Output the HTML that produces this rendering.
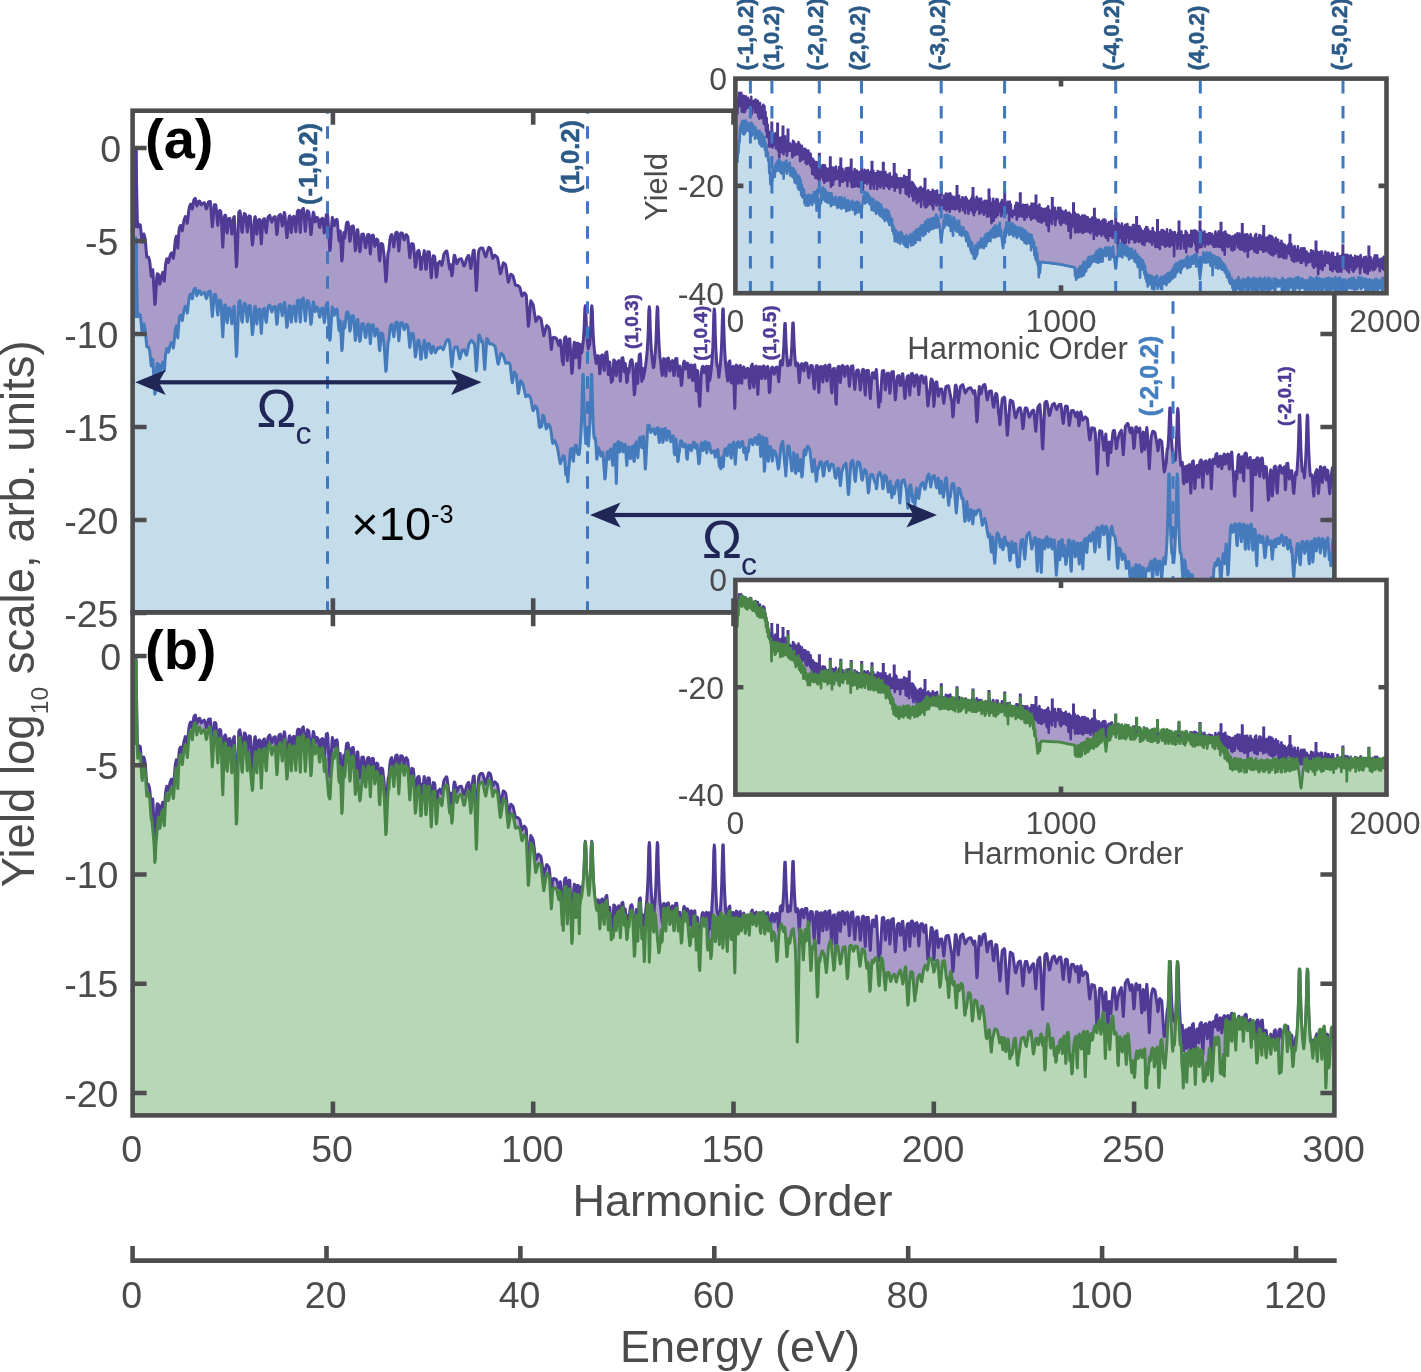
<!DOCTYPE html>
<html lang="en"><head><meta charset="utf-8"><title>Harmonic yield spectra</title>
<style>html,body{margin:0;padding:0;background:#fff}svg{display:block}text{font-family:"Liberation Sans", sans-serif;fill:#4b4b4d}.b{font-weight:bold}</style></head><body>
<svg width="1421" height="1372" viewBox="0 0 1421 1372">
<defs>
<clipPath id="ca"><rect x="132.6" y="110.7" width="1201.8000000000002" height="501.59999999999997"/></clipPath>
<clipPath id="cb"><rect x="132.6" y="612.3" width="1201.8000000000002" height="503.10000000000014"/></clipPath>
<clipPath id="cia"><rect x="735.4" y="78.6" width="651.1" height="214.6"/></clipPath>
<clipPath id="cib"><rect x="735.4" y="580.0" width="651.1" height="214.60000000000002"/></clipPath>
</defs>
<rect width="1421" height="1372" fill="#fff"/>
<g clip-path="url(#ca)" stroke-width="3.0" stroke-linejoin="round">
<path d="M112.6 148L133.8 148 134.3 148 134.8 148 135.3 148 135.8 148 136.3 170.4 136.8 196.1 137.3 219.3 137.8 227 138.3 225.4 138.8 224.3 139.3 224.6 139.8 224.8 140.3 225.1 140.8 230 141.3 235.2 141.8 240.4 142.3 242.4 142.8 238.6 143.3 235.9 143.8 234 144.3 235.4 144.8 237.6 145.3 240.1 145.8 246.1 146.3 252.1 146.8 257.1 147.3 257 147.8 256.9 148.3 257 148.8 258.3 149.3 259.6 149.8 262 150.3 267 150.8 272 151.3 276.3 151.8 274 152.3 270.9 152.8 269.7 153.3 278.4 153.8 287.1 154.3 295.8 154.8 304.5 155.3 302.8 155.8 294.1 156.3 285.4 156.8 276.7 157.3 273.8 157.8 274 158.3 274.3 158.8 277.3 159.3 280.8 159.8 284.3 160.3 282.7 160.8 279.3 161.3 275.9 161.8 275 162.3 274.1 162.8 272.4 163.3 276 163.8 279.7 164.3 281.2 164.8 274.5 165.3 267.8 165.8 262.9 166.3 260.9 166.8 258.8 167.3 259.1 167.8 260.8 168.3 262.5 168.8 261.6 169.3 259.1 169.8 256.7 170.3 255.2 170.8 254.1 171.3 253 171.8 252.9 172.3 255 172.8 256.7 173.3 258.4 173.8 255.5 174.3 250.4 174.8 245.3 175.3 240.4 175.8 238.4 176.3 236.3 176.8 238.2 177.3 243.1 177.8 248.2 178.3 240.7 178.8 233.1 179.3 228 179.8 226.8 180.3 225.7 180.8 225.5 181.3 227.4 181.8 229.3 182.3 230.9 182.8 227.6 183.3 224.4 183.8 221.2 184.3 219.5 184.8 218.1 185.3 216.6 185.8 216.9 186.3 219.1 186.8 221.3 187.3 223.4 187.8 219.2 188.3 214.7 188.8 210.3 189.3 207.3 189.8 205.9 190.3 204.6 190.8 204.2 191.3 205.7 191.8 207.1 192.3 209.1 192.8 206.1 193.3 203.2 193.8 200.2 194.3 199.2 194.8 198.8 195.3 198.3 195.8 200.7 196.3 203.3 196.8 206 197.3 204.8 197.8 203.3 198.3 201.7 198.8 201.3 199.3 201 199.8 201.1 200.3 202.6 200.8 204.2 201.3 205 201.8 204.4 202.3 203.8 202.8 203.3 203.3 203.1 203.8 202.9 204.3 202.7 204.8 203.8 205.3 205.5 205.8 207.3 206.3 209 206.8 208.3 207.3 206.3 207.8 204.3 208.3 202.4 208.8 201.7 209.3 201.6 209.8 201.6 210.3 201.6 210.8 207.2 211.3 213.6 211.8 220.2 212.3 226.8 212.8 221.9 213.3 216.2 213.8 210.4 214.3 204.7 214.8 204.6 215.3 204.8 215.8 205 216.3 209 216.8 215.1 217.3 221.1 217.8 225.4 218.3 220.7 218.8 216.2 219.3 211.6 219.8 210.4 220.3 210.9 220.8 211.3 221.3 217.2 221.8 228.3 222.3 239.3 222.8 247.2 223.3 237.3 223.8 227.4 224.3 217.6 224.8 215.5 225.3 215.1 225.8 216.1 226.3 223.7 226.8 231.4 227.3 233 227.8 226.9 228.3 220.8 228.8 218.7 229.3 218.5 229.8 218.3 230.3 220.3 230.8 224.9 231.3 229.6 231.8 234.1 232.3 229.4 232.8 224.6 233.3 219.7 233.8 217.2 234.3 216.5 234.8 227.8 235.3 240.8 235.8 253.8 236.3 266.8 236.8 264.2 237.3 251.2 237.8 238.2 238.3 225.2 238.8 212.3 239.3 211.5 239.8 210.8 240.3 212.9 240.8 219 241.3 225.1 241.8 231.2 242.3 232.4 242.8 226.8 243.3 221.5 243.8 216.4 244.3 213.6 244.8 213.8 245.3 214.1 245.8 216 246.3 221.5 246.8 226.9 247.3 232 247.8 227 248.3 222.1 248.8 217.1 249.3 215.9 249.8 216.1 250.3 216.2 250.8 222.7 251.3 230.1 251.8 237.6 252.3 245 252.8 243.5 253.3 236.1 253.8 228.6 254.3 221.2 254.8 217.2 255.3 216.7 255.8 222.1 256.3 228.2 256.8 234.3 257.3 230 257.8 225.1 258.3 220.2 258.8 219.8 259.3 219.4 259.8 219.7 260.3 227.7 260.8 235.8 261.3 243.8 261.8 236.3 262.3 228.5 262.8 220.8 263.3 219.5 263.8 219.1 264.3 218.6 264.8 221.5 265.3 226 265.8 230.5 266.3 232.7 266.8 227.9 267.3 223 267.8 218.1 268.3 216.7 268.8 216.2 269.3 215.6 269.8 215.4 270.3 217.2 270.8 219.1 271.3 221 271.8 222.2 272.3 220.9 272.8 219.5 273.3 218.2 273.8 217.2 274.3 216.9 274.8 216.7 275.3 216.8 275.8 222.8 276.3 228.7 276.8 234.6 277.3 232.8 277.8 226.7 278.3 220.6 278.8 215.7 279.3 215.2 279.8 214.8 280.3 214.4 280.8 216.7 281.3 219.9 281.8 223.1 282.3 226 282.8 222.3 283.3 218.7 283.8 215 284.3 212.5 284.8 213.7 285.3 219.6 285.8 225.6 286.3 231.6 286.8 237.6 287.3 236.4 287.8 230.4 288.3 224.4 288.8 218.4 289.3 216.1 289.8 215.9 290.3 220.8 290.8 226.7 291.3 232.5 291.8 227.6 292.3 222.2 292.8 217.3 293.3 216.8 293.8 216.3 294.3 216.6 294.8 221.6 295.3 226.7 295.8 231.7 296.3 225.1 296.8 218.6 297.3 212 297.8 210.7 298.3 210.2 298.8 210.3 299.3 218.2 299.8 226 300.3 232.4 300.8 224.7 301.3 217.1 301.8 210.4 302.3 209.7 302.8 209 303.3 208.3 303.8 212.1 304.3 218.5 304.8 224.9 305.3 231.3 305.8 226.5 306.3 220.7 306.8 215 307.3 210.7 307.8 211.1 308.3 211.5 308.8 211.9 309.3 216.5 309.8 222.5 310.3 228.6 310.8 234.6 311.3 233.4 311.8 227.4 312.3 221.3 312.8 215.3 313.3 212.3 313.8 213.1 314.3 216.3 314.8 219.5 315.3 221.9 315.8 220.3 316.3 218.7 316.8 217.3 317.3 217.7 317.8 218.1 318.3 219.5 318.8 223.1 319.3 226.7 319.8 227.5 320.3 224.3 320.8 221.1 321.3 219.2 321.8 218.7 322.3 218.2 322.8 218.8 323.3 223.6 323.8 228.3 324.3 233 324.8 230 325.3 224.4 325.8 218.7 326.3 214.7 326.8 214.1 327.3 213.8 327.8 216.2 328.3 224.8 328.8 233.4 329.3 242 329.8 250.6 330.3 248.8 330.8 240.3 331.3 231.7 331.8 223.1 332.3 217.4 332.8 218.7 333.3 222.2 333.8 225.6 334.3 225.6 334.8 223.2 335.3 220.7 335.8 220 336.3 219.7 336.8 219.4 337.3 220.6 337.8 226.9 338.3 233.2 338.8 239.5 339.3 241.1 339.8 235.8 340.3 231.1 340.8 241.1 341.3 251 341.8 261 342.3 259 342.8 249 343.3 239.1 343.8 232.4 344.3 236.7 344.8 238.2 345.3 233.6 345.8 229.1 346.3 224.5 346.8 222.4 347.3 222.3 347.8 222.1 348.3 223.3 348.8 229.4 349.3 235.4 349.8 241.5 350.3 240.4 350.8 235.5 351.3 230.6 351.8 226.2 352.3 226.1 352.8 226 353.3 226 353.8 229.7 354.3 236.7 354.8 243.8 355.3 250.8 355.8 248.5 356.3 242.3 356.8 236.1 357.3 229.8 357.8 229.8 358.3 235.3 358.8 240.8 359.3 246.3 359.8 251.8 360.3 250.7 360.8 245.2 361.3 239.7 361.8 234.2 362.3 234.2 362.8 234.1 363.3 234 363.8 235.8 364.3 239.7 364.8 243.6 365.3 247.5 365.8 247.8 366.3 244 366.8 240.3 367.3 236.6 367.8 234.6 368.3 234.5 368.8 234.5 369.3 239.9 369.8 247 370.3 254 370.8 248.5 371.3 241.9 371.8 235.6 372.3 235.4 372.8 235.1 373.3 235.2 373.8 238.9 374.3 242.7 374.8 246.4 375.3 245.2 375.8 242.6 376.3 240 376.8 239.1 377.3 239.6 377.8 240 378.3 244.4 378.8 251.8 379.3 259.1 379.8 260.9 380.3 254.5 380.8 248.2 381.3 243.4 381.8 243.6 382.3 243.8 382.8 245.1 383.3 249.1 383.8 253.1 384.3 257.3 384.8 265.4 385.3 273.6 385.8 281.7 386.3 280.1 386.8 271.9 387.3 263.8 387.8 255.6 388.3 251.4 388.8 251 389.3 245.9 389.8 240.8 390.3 237.5 390.8 235.8 391.3 234.9 391.8 234.5 392.3 237.4 392.8 240.7 393.3 244 393.8 247 394.3 243.3 394.8 239.6 395.3 235.9 395.8 232.8 396.3 232.5 396.8 232.1 397.3 232.7 397.8 238.6 398.3 244.8 398.8 251.1 399.3 246.4 399.8 240.6 400.3 234.8 400.8 233 401.3 233 401.8 233 402.3 233.2 402.8 235.1 403.3 237 403.8 238.9 404.3 240 404.8 238 405.3 236.4 405.8 235.1 406.3 234.6 406.8 235.3 407.3 236 407.8 236.7 408.3 241.7 408.8 247.3 409.3 253 409.8 257.7 410.3 253.7 410.8 249.8 411.3 245.9 411.8 243.6 412.3 243.9 412.8 244 413.3 244.1 413.8 248.2 414.3 254.6 414.8 260.9 415.3 267.3 415.8 266 416.3 261.5 416.8 256.9 417.3 252.4 417.8 251 418.3 250.7 418.8 250.4 419.3 251.8 419.8 257.8 420.3 263.7 420.8 269.6 421.3 268.7 421.8 262.8 422.3 256.9 422.8 259.8 423.3 258.7 423.8 253.2 424.3 250.6 424.8 256 425.3 262.7 425.8 269.4 426.3 268.8 426.8 262.5 427.3 256.2 427.8 251.8 428.3 251.8 428.8 251.8 429.3 251.9 429.8 257.6 430.3 264.8 430.8 272.1 431.3 277.8 431.8 271.7 432.3 265.5 432.8 259.3 433.3 255.8 433.8 255.9 434.3 256.1 434.8 257.3 435.3 263.9 435.8 270.5 436.3 277.1 436.8 275.8 437.3 271 437.8 266.2 438.3 262.7 438.8 262.8 439.3 262.1 439.8 261.4 440.3 261.8 440.8 263 441.3 264.2 441.8 265.4 442.3 263.4 442.8 260.4 443.3 257.4 443.8 254.4 444.3 253.6 444.8 252.9 445.3 252.2 445.8 251.5 446.3 250.9 446.8 251 447.3 253.5 447.8 256.6 448.3 260.1 448.8 263.5 449.3 267 449.8 269.1 450.3 266.6 450.8 264.8 451.3 270.3 451.8 275.8 452.3 274.7 452.8 269.2 453.3 263.7 453.8 258.2 454.3 255.2 454.8 255.6 455.3 257.8 455.8 260 456.3 261.9 456.8 263.8 457.3 263 457.8 261.8 458.3 260.7 458.8 259.6 459.3 259.2 459.8 259.1 460.3 259 460.8 258.9 461.3 258.8 461.8 259.9 462.3 261.4 462.8 262.9 463.3 264.4 463.8 265.9 464.3 265.9 464.8 264.9 465.3 263.3 465.8 261.4 466.3 259.5 466.8 258 467.3 257.2 467.8 256.4 468.3 255.6 468.8 255.6 469.3 258.8 469.8 262.1 470.3 265.3 470.8 268.5 471.3 266 471.8 261.7 472.3 257.6 472.8 253.5 473.3 250.5 473.8 250.1 474.3 250.3 474.8 260.4 475.3 270.4 475.8 280.5 476.3 290.6 476.8 284.5 477.3 274.5 477.8 264.4 478.3 254.3 478.8 250.8 479.3 249.9 479.8 248.9 480.3 248.4 480.8 248.2 481.3 247.9 481.8 248 482.3 248 482.8 248.3 483.3 249.9 483.8 251.5 484.3 253.1 484.8 254.6 485.3 256.2 485.8 256.9 486.3 255.2 486.8 253.4 487.3 251.7 487.8 250 488.3 248.3 488.8 247.3 489.3 247.6 489.8 248 490.3 248.3 490.8 249.6 491.3 252 491.8 254.3 492.3 256.7 492.8 258.5 493.3 257.7 493.8 256.9 494.3 256 494.8 255.2 495.3 255.6 495.8 256 496.3 256.5 496.8 256.9 497.3 257.3 497.8 258.9 498.3 261.9 498.8 264.8 499.3 267.8 499.8 270.8 500.3 273.7 500.8 273.1 501.3 271.1 501.8 269 502.3 267 502.8 264.9 503.3 262.9 503.8 263.1 504.3 263.4 504.8 263.9 505.3 264.4 505.8 265.4 506.3 268.9 506.8 272.3 507.3 275.8 507.8 279.3 508.3 282.3 508.8 280.7 509.3 279 509.8 277.4 510.3 275.8 510.8 274.2 511.3 274.5 511.8 274.9 512.3 275.3 512.8 275.7 513.3 276.8 513.8 278.8 514.3 280.8 514.8 282.8 515.3 284.8 515.8 285.5 516.3 285.5 516.8 285.5 517.3 285.5 517.8 285.5 518.3 285.9 518.8 286.4 519.3 286.8 519.8 287.3 520.3 289.2 520.8 291.3 521.3 293.5 521.8 295.7 522.3 296 522.8 295.1 523.3 294.2 523.8 293.3 524.3 292.8 524.8 293.3 525.3 293.8 525.8 294.4 526.3 295.8 526.8 303.4 527.3 311 527.8 318.6 528.3 326.3 528.8 324.4 529.3 318 529.8 311.7 530.3 305.4 530.8 300.7 531.3 301.5 531.8 302.3 532.3 303.1 532.8 304 533.3 305.5 533.8 308.8 534.3 312.1 534.8 315.3 535.3 318.6 535.8 321.5 536.3 320.7 536.8 319.9 537.3 318.9 537.8 317.8 538.3 316.7 538.8 316.9 539.3 317.3 539.8 317.7 540.3 318.1 540.8 318.5 541.3 320.5 541.8 323.6 542.3 326.7 542.8 329.8 543.3 332.9 543.8 335.7 544.3 333.8 544.8 331.9 545.3 330 545.8 328.1 546.3 326.2 546.8 325.5 547.3 326 547.8 326.6 548.3 327.1 548.8 327.8 549.3 328.9 549.8 333 550.3 338.5 550.8 344 551.3 349.5 551.8 346.2 552.3 340.7 552.8 337.6 553.3 337.5 553.8 337.4 554.3 337.3 554.8 337.6 555.3 338.1 555.8 338.5 556.3 338.3 556.8 339.1 557.3 340.8 557.8 342.5 558.3 344.2 558.8 345.4 559.3 343.6 559.8 341.9 560.3 340.1 560.8 344.2 561.3 350 561.8 355.7 562.3 361.5 562.8 358.4 563.3 364.8 563.8 352.1 564.3 339.3 564.8 337.7 565.3 337.1 565.8 336.8 566.3 344.8 566.8 352.7 567.3 360.7 567.8 353.5 568.3 346.3 568.8 339.2 569.3 338.7 569.8 338.9 570.3 347.6 570.8 356.2 571.3 364.9 571.8 373.5 572.3 371.8 572.8 363.2 573.3 354.5 573.8 345.9 574.3 342.2 574.8 343.1 575.3 350.5 575.8 357.8 576.3 357 576.8 350.1 577.3 343.3 577.8 343.3 578.3 343.4 578.8 355.1 579.3 368.1 579.8 362.5 580.3 352 580.8 344.6 581.3 349.5 581.8 352.9 582.3 349.5 582.8 345.5 583.3 340.5 583.8 333.9 584.3 324.2 584.8 309.4 585.3 305.7 585.8 309.4 586.3 324.2 586.8 333.9 587.3 340.5 587.8 345.5 588.3 349 588.8 346 589.3 345.9 589.8 344 590.3 336.7 590.8 326.1 591.3 309.7 591.8 305.7 592.3 309.7 592.8 326.1 593.3 336.7 593.8 344 594.3 349.5 594.8 353.9 595.3 357.6 595.8 360.8 596.3 363.5 596.8 361.4 597.3 355.8 597.8 355.8 598.3 355.7 598.8 359.6 599.3 366.8 599.8 373.8 600.3 370.1 600.8 363 601.3 355.9 601.8 355.3 602.3 354.8 602.8 355.9 603.3 362.1 603.8 368.3 604.3 370.4 604.8 363.7 605.3 357 605.8 352.8 606.3 352.3 606.8 351.8 607.3 356.9 607.8 365.7 608.3 374.6 608.8 373.9 609.3 367.1 609.8 361.9 610.3 368.7 610.8 375.5 611.3 382.3 611.8 380.9 612.3 381 612.8 377.7 613.3 368.1 613.8 359.9 614.3 360.3 614.8 360.8 615.3 364.6 615.8 370.3 616.3 375.7 616.8 370.8 617.3 365.6 617.8 361.9 618.3 361.3 618.8 360.6 619.3 365.6 619.8 373.4 620.3 381.2 620.8 374.9 621.3 366.5 621.8 358.4 622.3 358.1 622.8 357.7 623.3 360.7 623.8 366.2 624.3 371.7 624.8 367.3 625.3 363.4 625.8 369.8 626.3 376.1 626.8 382.5 627.3 381.2 627.8 374.8 628.3 368.5 628.8 372.8 629.3 369.3 629.8 365.5 630.3 361.8 630.8 360.5 631.3 360.1 631.8 359.7 632.3 361.7 632.8 365.7 633.3 375.4 633.8 385.1 634.3 394.8 634.8 392.9 635.3 383.2 635.8 373.5 636.3 363.8 636.8 364.3 637.3 374 637.8 383.4 638.3 372.8 638.8 362.3 639.3 354.7 639.8 354.2 640.3 353.8 640.8 361.4 641.3 371.7 641.8 381.4 642.3 372.5 642.8 368.4 643.3 378.5 643.8 375.7 644.3 373.3 644.8 370.6 645.3 367.6 645.8 364.1 646.3 360 646.8 355.1 647.3 349.1 647.8 341 648.3 329.3 648.8 311.2 649.3 306.8 649.8 311.2 650.3 329.3 650.8 341 651.3 349.1 651.8 355.1 652.3 359.6 652.8 364.1 653.3 367.6 653.8 367.1 654.3 363 654.8 358.2 655.3 352.1 655.8 344.3 656.3 333.1 656.8 315.5 657.3 306.8 657.8 308.1 658.3 327 658.8 340.3 659.3 349.3 659.8 355.9 660.3 359.4 660.8 362.6 661.3 369.3 661.8 372.5 662.3 375.4 662.8 371.9 663.3 360.7 663.8 358.6 664.3 358.7 664.8 362 665.3 369 665.8 376.1 666.3 370.1 666.8 363 667.3 358.7 667.8 358.4 668.3 358.1 668.8 361.2 669.3 366.1 669.8 371 670.3 370 670.8 366.4 671.3 362.8 671.8 361.4 672.3 360.6 672.8 361.5 673.3 368.5 673.8 375.6 674.3 375.4 674.8 367.7 675.3 360.1 675.8 358.5 676.3 358.5 676.8 358.5 677.3 364.3 677.8 370.2 678.3 376.1 678.8 371.4 679.3 366.5 679.8 366.2 680.3 372.6 680.8 379 681.3 385.4 681.8 384.1 682.3 377.7 682.8 371.3 683.3 364.9 683.8 361.9 684.3 361.2 684.8 364.7 685.3 368.7 685.8 368.8 686.3 365.7 686.8 363.1 687.3 363.3 687.8 363.5 688.3 370.5 688.8 377.6 689.3 376.6 689.8 370.2 690.3 365.4 690.8 365.2 691.3 365 691.8 372.2 692.3 379.9 692.8 380.6 693.3 373 693.8 365.3 694.3 365.1 694.8 364.9 695.3 370.1 695.8 380.5 696.3 390.9 696.8 381.9 697.3 370.4 697.8 371.1 698.3 382.1 698.8 393.1 699.3 404.1 699.8 406.3 700.3 395.3 700.8 384.3 701.3 374.5 701.8 369.1 702.3 367 702.8 366.3 703.3 367.2 703.8 370.1 704.3 372.8 704.8 370.6 705.3 368.4 705.8 367.1 706.3 366.3 706.8 373.2 707.3 386.5 707.8 390.9 708.3 377.9 708.8 366.6 709.3 372.1 709.8 380.4 710.3 377 710.8 373.1 711.3 368.5 711.8 363.1 712.3 356.3 712.8 347.3 713.3 334.2 713.8 314 714.3 309 714.8 314 715.3 334.2 715.8 347.3 716.3 356.3 716.8 363.1 717.3 366.6 717.8 365.9 718.3 370.9 718.8 377.2 719.3 373.6 719.8 369.4 720.3 364.4 720.8 358.3 721.3 350.5 721.8 339.6 722.3 322.6 722.8 309 723.3 309 723.8 326.6 724.3 342.1 724.8 352.3 725.3 359.7 725.8 365.5 726.3 370.3 726.8 374.3 727.3 377.9 727.8 381 728.3 371.5 728.8 362.3 729.3 361.6 729.8 360.9 730.3 369 730.8 379.3 731.3 382.9 731.8 375 732.3 367.1 732.8 366.5 733.3 366.4 733.8 377.2 734.3 395.3 734.8 408.4 735.3 389.8 735.8 371.2 736.3 365.1 736.8 365.3 737.3 369.6 737.8 378 738.3 383.3 738.8 375.3 739.3 367.3 739.8 366 740.3 365.4 740.8 372.7 741.3 382.4 741.8 383.2 742.3 374.8 742.8 368.1 743.3 367.4 743.8 366.8 744.3 368.9 744.8 373.5 745.3 378.1 745.8 377.1 746.3 373.3 746.8 369.5 747.3 368.6 747.8 368.3 748.3 368.9 748.8 376.7 749.3 384.5 749.8 388.3 750.3 379.9 750.8 371.4 751.3 365.8 751.8 365 752.3 364.2 752.8 373.5 753.3 383.6 753.8 387.3 754.3 378.3 754.8 369.3 755.3 366.6 755.8 366.4 756.3 366.1 756.8 375.1 757.3 384.8 757.8 394.5 758.3 385.7 758.8 376.2 759.3 366.8 759.8 366.7 760.3 366.7 760.8 370 761.3 375.1 761.8 378.5 762.3 373.4 762.8 368.3 763.3 366.4 763.8 365.9 764.3 368.2 764.8 373.8 765.3 378.6 765.8 373.8 766.3 369 766.8 367.3 767.3 366.8 767.8 366.4 768.3 373.3 768.8 382.9 769.3 392.6 769.8 392 770.3 383.1 770.8 374.2 771.3 368.3 771.8 367.7 772.3 367.1 772.8 367.8 773.3 370.5 773.8 373.1 774.3 374.2 774.8 371.9 775.3 369.6 775.8 367.6 776.3 367.3 776.8 367 777.3 367.8 777.8 372.8 778.3 377.8 778.8 381.8 779.3 375 779.8 368.3 780.3 361.5 780.8 360.9 781.3 360.6 781.8 361.7 782.3 365 782.8 360.4 783.3 354.6 783.8 346.4 784.3 333.7 784.8 323.5 785.3 323.5 785.8 336.7 786.3 348.3 786.8 355.9 787.3 361.4 787.8 365.8 788.3 364 788.8 361.5 789.3 360.9 789.8 361.5 790.3 364.9 790.8 360.3 791.3 354.4 791.8 346.1 792.3 333.3 792.8 323 793.3 323 793.8 336.4 794.3 348.1 794.8 355.7 795.3 361.3 795.8 365.8 796.3 364 796.8 363.3 797.3 363.1 797.8 363.3 798.3 369.8 798.8 376.2 799.3 382.6 799.8 376.8 800.3 370.9 800.8 365 801.3 364.2 801.8 363.6 802.3 363.7 802.8 366.6 803.3 369.4 803.8 370.9 804.3 367.9 804.8 365 805.3 363 805.8 363 806.3 363 806.8 363.1 807.3 366.3 807.8 370.3 808.3 374.3 808.8 377.8 809.3 374.4 809.8 371 810.3 367.5 810.8 365.4 811.3 365.5 811.8 365.6 812.3 365.7 812.8 372 813.3 378.8 813.8 385.6 814.3 388.9 814.8 382 815.3 375.2 815.8 368.4 816.3 365.7 816.8 365.8 817.3 365.8 817.8 374.6 818.3 384.1 818.8 392.4 819.3 383.3 819.8 374.2 820.3 366.9 820.8 366.7 821.3 366.5 821.8 370 822.3 376 822.8 382 823.3 378.3 823.8 372.2 824.3 366.2 824.8 365.8 825.3 365.4 825.8 367.7 826.3 374.4 826.8 381.1 827.3 380.3 827.8 373.7 828.3 367.1 828.8 365.2 829.3 365 829.8 364.8 830.3 370.5 830.8 379.8 831.3 389.1 831.8 393 832.3 384.9 832.8 376.8 833.3 368.8 833.8 368.5 834.3 368.3 834.8 372.3 835.3 387 835.8 401.6 836.3 404.2 836.8 389.4 837.3 374.6 837.8 367.4 838.3 366.9 838.8 366.4 839.3 370.8 839.8 376.6 840.3 382.5 840.8 378.5 841.3 372.4 841.8 366.3 842.3 365.5 842.8 365.5 843.3 366 843.8 370.1 844.3 374.1 844.8 376.4 845.3 372.8 845.8 369.3 846.3 366.8 846.8 366.5 847.3 366.1 847.8 366.9 848.3 373.3 848.8 379.7 849.3 386.2 849.8 382.2 850.3 376 850.8 369.8 851.3 366.4 851.8 366.2 852.3 366.1 852.8 365.9 853.3 372.1 853.8 378.6 854.3 385.2 854.8 389.4 855.3 384.1 855.8 378.7 856.3 373.4 856.8 370.3 857.3 370.2 857.8 370.1 858.3 370.1 858.8 374 859.3 379.3 859.8 384.6 860.3 390 860.8 386.5 861.3 381.1 861.8 375.7 862.3 370.4 862.8 369.6 863.3 369.3 863.8 370.6 864.3 380.4 864.8 390.2 865.3 395.2 865.8 385.9 866.3 376.6 866.8 370.4 867.3 370.5 867.8 370.6 868.3 370.6 868.8 377.5 869.3 385.5 869.8 393.5 870.3 398.6 870.8 391.4 871.3 384.1 871.8 376.8 872.3 373 872.8 372.9 873.3 372.7 873.8 374.2 874.3 376.3 874.8 378.3 875.3 375.8 875.8 372.6 876.3 369.5 876.8 374.3 877.3 383.4 877.8 392.5 878.3 401.7 878.8 407.2 879.3 398 879.8 396.3 880.3 401.7 880.8 393.4 881.3 385.4 881.8 377.4 882.3 371.1 882.8 370.8 883.3 370.5 883.8 370.7 884.3 377.1 884.8 383.5 885.3 389.9 885.8 387.6 886.3 382.2 886.8 376.7 887.3 373.3 887.8 373.2 888.3 373.1 888.8 377.9 889.3 385.6 889.8 393.3 890.3 390.1 890.8 382 891.3 374 891.8 372 892.3 371.9 892.8 371.7 893.3 371.5 893.8 378.2 894.3 385.4 894.8 392.6 895.3 399.8 895.8 395.6 896.3 389.5 896.8 383.5 897.3 377.4 897.8 376 898.3 375.8 898.8 375.6 899.3 378.3 899.8 382 900.3 385.6 900.8 385.2 901.3 381.1 901.8 377 902.3 374 902.8 373.8 903.3 379.1 903.8 385.5 904.3 392 904.8 398.4 905.3 397.1 905.8 390.7 906.3 384.2 906.8 378.7 907.3 376.3 907.8 376 908.3 375.6 908.8 381 909.3 388.1 909.8 395.1 910.3 387.8 910.8 380.1 911.3 373.7 911.8 373.6 912.3 373.5 912.8 374.9 913.3 379.5 913.8 384.1 914.3 386.3 914.8 382.5 915.3 378.6 915.8 375.6 916.3 375.3 916.8 374.9 917.3 376 917.8 382.3 918.3 388.5 918.8 394.7 919.3 389.2 919.8 383.5 920.3 377.8 920.8 376.2 921.3 375.9 921.8 375.7 922.3 376 922.8 378.3 923.3 380.7 923.8 383 924.3 383.2 924.8 381.1 925.3 379 925.8 376.9 926.3 383.6 926.8 391.1 927.3 398.5 927.8 406 928.3 404.5 928.8 397.1 929.3 396.3 929.8 392 930.3 386.9 930.8 381.8 931.3 379 931.8 379.5 932.3 379.9 932.8 386.6 933.3 396.5 933.8 406.4 934.3 402.5 934.8 393.3 935.3 384.2 935.8 382.2 936.3 382 936.8 381.9 937.3 386.4 937.8 391.3 938.3 396.2 938.8 394.7 939.3 392.1 939.8 389.4 940.3 388.9 940.8 388.9 941.3 388.9 941.8 388.9 942.3 392.4 942.8 396.1 943.3 399.8 943.8 403.4 944.3 400 944.8 395.7 945.3 391.4 945.8 387.1 946.3 386.3 946.8 386.1 947.3 386 947.8 385.9 948.3 385.8 948.8 387.2 949.3 389.7 949.8 392.3 950.3 394.9 950.8 397.4 951.3 400 951.8 401.2 952.3 409 952.8 416.9 953.3 415.3 953.8 407.5 954.3 399.7 954.8 391.8 955.3 385.3 955.8 385.1 956.3 386.5 956.8 390.6 957.3 394.7 957.8 398.9 958.3 402.5 958.8 398.7 959.3 394.9 959.8 391.1 960.3 387.2 960.8 386.1 961.3 385.7 961.8 385.4 962.3 385 962.8 384.7 963.3 386.4 963.8 388.1 964.3 389.7 964.8 391.4 965.3 393 965.8 392.2 966.3 391.4 966.8 390.6 967.3 389.7 967.8 388.9 968.3 388.6 968.8 388.4 969.3 388.2 969.8 388 970.3 387.8 970.8 387.8 971.3 388.8 971.8 389.9 972.3 390.9 972.8 391.9 973.3 393 973.8 393.8 974.3 392.2 974.8 390.6 975.3 394.1 975.8 403.4 976.3 412.6 976.8 421.9 977.3 420 977.8 410.8 978.3 401.5 978.8 392.3 979.3 386.6 979.8 389.1 980.3 391.6 980.8 394 981.3 392.7 981.8 390.6 982.3 388.4 982.8 386.3 983.3 385.3 983.8 384.9 984.3 384.7 984.8 384.5 985.3 386.5 985.8 390.1 986.3 393.8 986.8 397.5 987.3 399.9 987.8 397.8 988.3 395.7 988.8 393.6 989.3 391.5 989.8 391.1 990.3 391 990.8 391 991.3 390.9 991.8 394.1 992.3 398.2 992.8 402.5 993.3 406.8 993.8 407.3 994.3 403.7 994.8 400.1 995.3 396.5 995.8 393.5 996.3 393.8 996.8 394.1 997.3 398.3 997.8 403.8 998.3 409.3 998.8 414.8 999.3 417.3 999.8 424.7 1000.3 422.1 1000.8 416.2 1001.3 409.7 1001.8 402.9 1002.3 398.7 1002.8 398.3 1003.3 397.9 1003.8 397.5 1004.3 397.1 1004.8 398.7 1005.3 406 1005.8 413.4 1006.3 420.7 1006.8 428 1007.3 435.3 1007.8 430.8 1008.3 424.2 1008.8 417.6 1009.3 411 1009.8 404.4 1010.3 400.2 1010.8 400.4 1011.3 400.7 1011.8 401 1012.3 401.2 1012.8 401.8 1013.3 404.9 1013.8 408 1014.3 411.1 1014.8 414.2 1015.3 417.3 1015.8 417.8 1016.3 416.2 1016.8 414.4 1017.3 412.5 1017.8 410.6 1018.3 408.7 1018.8 408.4 1019.3 408.1 1019.8 407.9 1020.3 407.7 1020.8 410.2 1021.3 412.7 1021.8 417.2 1022.3 423 1022.8 428.7 1023.3 427.6 1023.8 421.8 1024.3 416.1 1024.8 410.4 1025.3 408 1025.8 408 1026.3 408 1026.8 408.1 1027.3 409.8 1027.8 411.7 1028.3 413.5 1028.8 415.4 1029.3 417.3 1029.8 416.5 1030.3 415.4 1030.8 414.1 1031.3 412.8 1031.8 411.4 1032.3 410.9 1032.8 410.5 1033.3 410 1033.8 410.5 1034.3 416 1034.8 421.4 1035.3 426.9 1035.8 431.3 1036.3 425.2 1036.8 419.1 1037.3 413 1037.8 407.1 1038.3 406.5 1038.8 405.8 1039.3 405.1 1039.8 404.4 1040.3 410.2 1040.8 416 1041.3 423.9 1041.8 435.2 1042.3 446.6 1042.8 448.9 1043.3 437.5 1043.8 426.1 1044.3 414.8 1044.8 403.4 1045.3 402.1 1045.8 401.7 1046.3 401.3 1046.8 401.6 1047.3 404 1047.8 406.7 1048.3 409.6 1048.8 412.5 1049.3 415.4 1049.8 414.9 1050.3 412.8 1050.8 410.7 1051.3 408.6 1051.8 406.5 1052.3 404.7 1052.8 404.4 1053.3 404 1053.8 403.7 1054.3 403.4 1054.8 404.7 1055.3 406.2 1055.8 407.7 1056.3 409.1 1056.8 409.5 1057.3 408.3 1057.8 407.2 1058.3 406 1058.8 404.9 1059.3 404.6 1059.8 404.5 1060.3 404.4 1060.8 404.3 1061.3 407.5 1061.8 412.1 1062.3 416.6 1062.8 421.1 1063.3 423.4 1063.8 419.2 1064.3 415 1064.8 410.8 1065.3 406.6 1065.8 406 1066.3 406.2 1066.8 406.3 1067.3 406.5 1067.8 411.1 1068.3 415.9 1068.8 420.7 1069.3 425.6 1069.8 422.8 1070.3 418.9 1070.8 415.1 1071.3 411.2 1071.8 410.4 1072.3 410.5 1072.8 410.6 1073.3 410.6 1073.8 411.3 1074.3 412.7 1074.8 414.1 1075.3 415.5 1075.8 416.8 1076.3 415.4 1076.8 413.8 1077.3 412.1 1077.8 414.8 1078.3 420.3 1078.8 425.8 1079.3 424.7 1079.8 419.2 1080.3 413.7 1080.8 411.7 1081.3 413.8 1081.8 415.9 1082.3 418 1082.8 420.1 1083.3 419.7 1083.8 418.8 1084.3 418.2 1084.8 417.5 1085.3 416.9 1085.8 417.3 1086.3 417.8 1086.8 418.3 1087.3 418.8 1087.8 422.5 1088.3 427.5 1088.8 432.5 1089.3 437.5 1089.8 439.9 1090.3 436.9 1090.8 433.8 1091.3 430.8 1091.8 427.7 1092.3 427.9 1092.8 428.1 1093.3 428.2 1093.8 428.3 1094.3 428.3 1094.8 430.6 1095.3 433.2 1095.8 442.2 1096.3 452.8 1096.8 463.4 1097.3 474 1097.8 463.4 1098.3 452.8 1098.8 442.2 1099.3 432.7 1099.8 430.8 1100.3 430.9 1100.8 431 1101.3 431 1101.8 431.6 1102.3 436.2 1102.8 440.9 1103.3 445.5 1103.8 450.2 1104.3 446.9 1104.8 442.6 1105.3 438.3 1105.8 433.9 1106.3 441.2 1106.8 449.2 1107.3 457.3 1107.8 465.4 1108.3 457.3 1108.8 449.2 1109.3 442.1 1109.8 446.5 1110.3 450.9 1110.8 452.5 1111.3 447.7 1111.8 443 1112.3 438.1 1112.8 433.2 1113.3 430.6 1113.8 430.5 1114.3 430.4 1114.8 432.3 1115.3 437.8 1115.8 443.3 1116.3 448.8 1116.8 447.7 1117.3 442.2 1117.8 439.6 1118.3 437.7 1118.8 435.8 1119.3 433.9 1119.8 432.7 1120.3 432 1120.8 431.1 1121.3 430.3 1121.8 435.9 1122.3 442.3 1122.8 448.7 1123.3 454.8 1123.8 447.5 1124.3 440.2 1124.8 432.9 1125.3 426.5 1125.8 425.7 1126.3 425 1126.8 424.2 1127.3 423.5 1127.8 423.4 1128.3 425.2 1128.8 427 1129.3 428.7 1129.8 430.7 1130.3 432.6 1130.8 431 1131.3 429.4 1131.8 427.9 1132.3 428.5 1132.8 435.1 1133.3 441.7 1133.8 448.4 1134.3 447 1134.8 440.4 1135.3 433.8 1135.8 427.2 1136.3 426.8 1136.8 428.5 1137.3 430.2 1137.8 432.1 1138.3 432 1138.8 430.2 1139.3 428.3 1139.8 428.1 1140.3 434.6 1140.8 441.2 1141.3 447.8 1141.8 451.7 1142.3 445.1 1142.8 438.6 1143.3 432 1143.8 437.4 1144.3 443.4 1144.8 449.4 1145.3 444 1145.8 438.4 1146.3 432.9 1146.8 427.4 1147.3 432.2 1147.8 441.3 1148.3 450.4 1148.8 459.6 1149.3 468.7 1149.8 459.6 1150.3 450.4 1150.8 441.3 1151.3 436.5 1151.8 434.7 1152.3 432.9 1152.8 431.3 1153.3 431.4 1153.8 431.6 1154.3 432 1154.8 432.5 1155.3 434.4 1155.8 437.2 1156.3 439.9 1156.8 442.7 1157.3 445.5 1157.8 450.8 1158.3 449.7 1158.8 444.2 1159.3 440.9 1159.8 439.7 1160.3 440.1 1160.8 440.5 1161.3 441 1161.8 441.8 1162.3 448.6 1162.8 455.3 1163.3 462 1163.8 468.7 1164.3 472 1164.8 469.8 1165.3 467.5 1165.8 464.8 1166.3 461.8 1166.8 453.4 1167.3 448.7 1167.8 448.9 1168.3 442.6 1168.8 433.5 1169.3 419.3 1169.8 408 1170.3 408 1170.8 422.7 1171.3 435.6 1171.8 444 1172.3 450.2 1172.8 455.1 1173.3 458 1173.8 458.1 1174.3 458.6 1174.8 459.1 1175.3 460.2 1175.8 453.7 1176.3 445.1 1176.8 432.6 1177.3 413.3 1177.8 408.6 1178.3 413.3 1178.8 432.6 1179.3 445.1 1179.8 453.7 1180.3 460.2 1180.8 465.4 1181.3 463.5 1181.8 462.9 1182.3 462.4 1182.8 471 1183.3 481.3 1183.8 483.8 1184.3 475.8 1184.8 468.1 1185.3 467.2 1185.8 466.2 1186.3 473.5 1186.8 482 1187.3 480.7 1187.8 472 1188.3 465.5 1188.8 465 1189.3 464.6 1189.8 471.6 1190.3 482.4 1190.8 493.1 1191.3 483.6 1191.8 472 1192.3 462 1192.8 461.4 1193.3 460.9 1193.8 466.8 1194.3 477.7 1194.8 488.7 1195.3 483.3 1195.8 474.7 1196.3 467 1196.8 466.2 1197.3 465.4 1197.8 470 1198.3 476 1198.8 477.4 1199.3 469.8 1199.8 462.2 1200.3 460.8 1200.8 460.2 1201.3 460 1201.8 469.3 1202.3 478.5 1202.8 487.5 1203.3 479 1203.8 470.6 1204.3 462.1 1204.8 461.6 1205.3 461.1 1205.8 460.9 1206.3 465.3 1206.8 469.5 1207.3 473.8 1207.8 470.2 1208.3 466 1208.8 461.8 1209.3 460.3 1209.8 459.6 1210.3 464.3 1210.8 476.6 1211.3 488.8 1211.8 479.4 1212.3 467.7 1212.8 460.1 1213.3 459.1 1213.8 459.2 1214.3 461.8 1214.8 463.7 1215.3 459.4 1215.8 455.1 1216.3 454.1 1216.8 453.5 1217.3 459.1 1217.8 466.4 1218.3 466.6 1218.8 461.2 1219.3 457.4 1219.8 456.7 1220.3 456 1220.8 459 1221.3 463.9 1221.8 468.7 1222.3 465.5 1222.8 460.7 1223.3 455.9 1223.8 454.9 1224.3 454 1224.8 458.9 1225.3 464.2 1225.8 462 1226.3 457.6 1226.8 455.4 1227.3 454.8 1227.8 454 1228.3 458.5 1228.8 463.8 1229.3 469.1 1229.8 464 1230.3 458.7 1230.8 453.9 1231.3 453 1231.8 452 1232.3 460.8 1232.8 469.9 1233.3 472.3 1233.8 483.1 1234.3 493.9 1234.8 496.1 1235.3 485.3 1235.8 474.5 1236.3 471.3 1236.8 479.2 1237.3 470.3 1237.8 461.3 1238.3 455.5 1238.8 454.6 1239.3 456.3 1239.8 464.5 1240.3 472.3 1240.8 465.6 1241.3 458.9 1241.8 457.2 1242.3 456.7 1242.8 465 1243.3 477.9 1243.8 480.9 1244.3 466.8 1244.8 453.9 1245.3 453.4 1245.8 453 1246.3 453.4 1246.8 458.3 1247.3 463.2 1247.8 467.9 1248.3 464.8 1248.8 461.6 1249.3 458.5 1249.8 457.8 1250.3 457.4 1250.8 468.3 1251.3 489.4 1251.8 510.4 1252.3 490.9 1252.8 471.2 1253.3 460.5 1253.8 460.2 1254.3 460.2 1254.8 467.5 1255.3 474.8 1255.8 474.7 1256.3 466.6 1256.8 458.4 1257.3 457.8 1257.8 457.9 1258.3 459.3 1258.8 466.5 1259.3 473.6 1259.8 476.5 1260.3 469.5 1260.8 462.6 1261.3 458.4 1261.8 458.2 1262.3 458 1262.8 463.3 1263.3 470.5 1263.8 477.9 1264.3 474.6 1264.8 470.4 1265.3 466.6 1265.8 466.8 1266.3 467 1266.8 473.8 1267.3 482.6 1267.8 491.4 1268.3 500.2 1268.8 498.4 1269.3 489.6 1269.8 480.8 1270.3 472 1270.8 469.9 1271.3 478 1271.8 487.4 1272.3 495.9 1272.8 491.1 1273.3 481.2 1273.8 471.3 1274.3 467 1274.8 466.6 1275.3 466.2 1275.8 471.1 1276.3 480.4 1276.8 489.7 1277.3 493.1 1277.8 484.2 1278.3 475.3 1278.8 467.2 1279.3 466.5 1279.8 465.8 1280.3 465.7 1280.8 468.3 1281.3 471 1281.8 473.2 1282.3 471.3 1282.8 469.5 1283.3 468.2 1283.8 467.5 1284.3 466.8 1284.8 477.4 1285.3 489.7 1285.8 485.8 1286.3 472.2 1286.8 463.7 1287.3 463.5 1287.8 463.3 1288.3 468.3 1288.8 474.4 1289.3 479.1 1289.8 476 1290.3 473 1290.8 471 1291.3 470.6 1291.8 470.7 1292.3 477.4 1292.8 484 1293.3 490.7 1293.8 493.5 1294.3 488 1294.8 481.3 1295.3 474.7 1295.8 472.3 1296.3 475.2 1296.8 472.4 1297.3 466.5 1297.8 459 1298.3 448.7 1298.8 432.9 1299.3 415 1299.8 415 1300.3 428.8 1300.8 446.1 1301.3 457.2 1301.8 465.2 1302.3 471.3 1302.8 469.9 1303.3 469.9 1303.8 472.6 1304.3 477.9 1304.8 472.4 1305.3 465.7 1305.8 456.9 1306.3 444.4 1306.8 424.7 1307.3 415 1307.8 416.5 1308.3 437.6 1308.8 452.5 1309.3 462.5 1309.8 469.9 1310.3 475.8 1310.8 475.7 1311.3 475.4 1311.8 474.9 1312.3 477 1312.8 484 1313.3 491 1313.8 496.1 1314.3 488.6 1314.8 481.1 1315.3 473.6 1315.8 471.9 1316.3 470.8 1316.8 469.6 1317.3 476.8 1317.8 485.2 1318.3 493.6 1318.8 490.6 1319.3 481.3 1319.8 472.1 1320.3 466.8 1320.8 466.8 1321.3 468.7 1321.8 475.6 1322.3 482.5 1322.8 476.6 1323.3 470.4 1323.8 468.1 1324.3 467.4 1324.8 467.2 1325.3 472.5 1325.8 477.7 1326.3 480 1326.8 475 1327.3 470 1327.8 470.5 1328.3 477 1328.8 483.4 1329.3 489.8 1329.8 493.7 1330.3 487.3 1330.8 480.8 1331.3 474.6 1331.8 471.1 1332.3 468.2 1332.8 467.4 1333.3 466.6 1333.8 476.8 1334.3 487.5 1334.8 486.1 1335.3 475.4L1354.4 475.4L1354.4 632.3L112.6 632.3Z" fill="#a99cc9" stroke="#4f3a96"/>
<path d="M112.6 238L133.8 238 134.3 238 134.8 238 135.3 238 135.8 238 136.3 260.1 136.8 285.8 137.3 309 137.8 316.7 138.3 315.1 138.8 314 139.3 314.3 139.8 314.5 140.3 314.8 140.8 319.7 141.3 324.9 141.8 330.1 142.3 332.1 142.8 328.3 143.3 325.6 143.8 323.7 144.3 325.1 144.8 327.3 145.3 329.8 145.8 335.8 146.3 341.8 146.8 346.8 147.3 346.7 147.8 346.6 148.3 346.7 148.8 348 149.3 349.3 149.8 351.7 150.3 356.7 150.8 361.7 151.3 366 151.8 363.7 152.3 360.6 152.8 359.4 153.3 368.1 153.8 376.8 154.3 385.5 154.8 394.2 155.3 392.5 155.8 383.8 156.3 375.1 156.8 366.4 157.3 363.5 157.8 363.7 158.3 364 158.8 367 159.3 370.5 159.8 374 160.3 372.4 160.8 369 161.3 365.6 161.8 364.7 162.3 363.8 162.8 362.1 163.3 365.7 163.8 369.4 164.3 370.9 164.8 364.2 165.3 357.5 165.8 352.6 166.3 350.6 166.8 348.5 167.3 348.8 167.8 350.5 168.3 352.2 168.8 351.3 169.3 348.8 169.8 346.4 170.3 344.9 170.8 343.8 171.3 342.7 171.8 342.6 172.3 344.7 172.8 346.4 173.3 348.1 173.8 345.2 174.3 340.1 174.8 335 175.3 330.1 175.8 328.1 176.3 326 176.8 327.9 177.3 332.8 177.8 337.9 178.3 330.4 178.8 322.8 179.3 317.7 179.8 316.5 180.3 315.4 180.8 315.2 181.3 317.1 181.8 319 182.3 320.6 182.8 317.3 183.3 314.1 183.8 310.9 184.3 309.2 184.8 307.8 185.3 306.3 185.8 306.6 186.3 308.8 186.8 311 187.3 313.1 187.8 308.9 188.3 304.4 188.8 300 189.3 297 189.8 295.6 190.3 294.3 190.8 293.9 191.3 295.4 191.8 296.8 192.3 298.8 192.8 295.8 193.3 292.9 193.8 289.9 194.3 288.9 194.8 288.5 195.3 288 195.8 290.4 196.3 293 196.8 295.7 197.3 294.5 197.8 293 198.3 291.4 198.8 291 199.3 290.7 199.8 290.8 200.3 292.3 200.8 293.9 201.3 294.7 201.8 294.1 202.3 293.5 202.8 293 203.3 292.8 203.8 292.6 204.3 292.4 204.8 293.5 205.3 295.2 205.8 297 206.3 298.7 206.8 298 207.3 296 207.8 294 208.3 292.1 208.8 291.4 209.3 291.3 209.8 291.3 210.3 291.3 210.8 296.9 211.3 303.3 211.8 309.9 212.3 316.5 212.8 311.6 213.3 305.9 213.8 300.1 214.3 294.4 214.8 294.3 215.3 294.5 215.8 294.7 216.3 298.7 216.8 304.8 217.3 310.8 217.8 315.1 218.3 310.4 218.8 305.9 219.3 301.3 219.8 300.1 220.3 300.6 220.8 301 221.3 306.9 221.8 318 222.3 329 222.8 336.9 223.3 327 223.8 317.1 224.3 307.3 224.8 305.2 225.3 304.8 225.8 305.8 226.3 313.4 226.8 321.1 227.3 322.7 227.8 316.6 228.3 310.5 228.8 308.4 229.3 308.2 229.8 308 230.3 310 230.8 314.6 231.3 319.3 231.8 323.8 232.3 319.1 232.8 314.3 233.3 309.4 233.8 306.9 234.3 306.2 234.8 317.5 235.3 330.5 235.8 343.5 236.3 356.5 236.8 353.9 237.3 340.9 237.8 327.9 238.3 314.9 238.8 302 239.3 301.2 239.8 300.5 240.3 302.6 240.8 308.7 241.3 314.8 241.8 320.9 242.3 322.1 242.8 316.5 243.3 311.2 243.8 306.1 244.3 303.3 244.8 303.5 245.3 303.8 245.8 305.7 246.3 311.2 246.8 316.6 247.3 321.7 247.8 316.7 248.3 311.8 248.8 306.8 249.3 305.6 249.8 305.8 250.3 305.9 250.8 312.4 251.3 319.8 251.8 327.3 252.3 334.7 252.8 333.2 253.3 325.8 253.8 318.3 254.3 310.9 254.8 306.9 255.3 306.4 255.8 311.8 256.3 317.9 256.8 324 257.3 319.7 257.8 314.8 258.3 309.9 258.8 309.5 259.3 309.1 259.8 309.4 260.3 317.4 260.8 325.5 261.3 333.5 261.8 326 262.3 318.2 262.8 310.5 263.3 309.2 263.8 308.8 264.3 308.3 264.8 311.2 265.3 315.7 265.8 320.2 266.3 322.4 266.8 317.6 267.3 312.7 267.8 307.8 268.3 306.4 268.8 305.9 269.3 305.3 269.8 305.1 270.3 306.9 270.8 308.8 271.3 310.7 271.8 311.9 272.3 310.6 272.8 309.2 273.3 307.9 273.8 306.9 274.3 306.6 274.8 306.4 275.3 306.5 275.8 312.5 276.3 318.4 276.8 324.3 277.3 322.5 277.8 316.4 278.3 310.3 278.8 305.4 279.3 304.9 279.8 304.5 280.3 304.1 280.8 306.4 281.3 309.6 281.8 312.8 282.3 315.7 282.8 312 283.3 308.4 283.8 304.7 284.3 302.2 284.8 303.4 285.3 309.3 285.8 315.3 286.3 321.3 286.8 327.3 287.3 326.1 287.8 320.1 288.3 314.1 288.8 308.1 289.3 305.8 289.8 305.6 290.3 310.5 290.8 316.4 291.3 322.2 291.8 317.3 292.3 311.9 292.8 307 293.3 306.5 293.8 306 294.3 306.3 294.8 311.3 295.3 316.4 295.8 321.4 296.3 314.8 296.8 308.3 297.3 301.7 297.8 300.4 298.3 299.9 298.8 300 299.3 307.9 299.8 315.7 300.3 322.1 300.8 314.4 301.3 306.8 301.8 300.1 302.3 299.4 302.8 298.7 303.3 298 303.8 301.8 304.3 308.2 304.8 314.6 305.3 321 305.8 316.2 306.3 310.4 306.8 304.7 307.3 300.4 307.8 300.8 308.3 301.2 308.8 301.6 309.3 306.2 309.8 312.2 310.3 318.3 310.8 324.3 311.3 323.1 311.8 317.1 312.3 311 312.8 305 313.3 302 313.8 302.8 314.3 306 314.8 309.2 315.3 311.6 315.8 310 316.3 308.4 316.8 307 317.3 307.4 317.8 307.8 318.3 309.2 318.8 312.8 319.3 316.4 319.8 317.2 320.3 314 320.8 310.8 321.3 308.9 321.8 308.4 322.3 307.9 322.8 308.5 323.3 313.3 323.8 318 324.3 322.7 324.8 319.7 325.3 314.1 325.8 308.4 326.3 304.4 326.8 303.8 327.3 303.5 327.8 305.9 328.3 314.5 328.8 323.1 329.3 331.7 329.8 340.3 330.3 338.5 330.8 330 331.3 321.4 331.8 312.8 332.3 307.1 332.8 308.4 333.3 311.9 333.8 315.3 334.3 315.3 334.8 312.9 335.3 310.4 335.8 309.7 336.3 309.4 336.8 309.1 337.3 310.3 337.8 316.6 338.3 322.9 338.8 329.2 339.3 330.8 339.8 325.5 340.3 320.8 340.8 330.8 341.3 340.7 341.8 350.7 342.3 348.7 342.8 338.7 343.3 328.8 343.8 322.1 344.3 326.4 344.8 327.9 345.3 323.3 345.8 318.8 346.3 314.2 346.8 312.1 347.3 312 347.8 311.8 348.3 313 348.8 319.1 349.3 325.1 349.8 331.2 350.3 330.1 350.8 325.2 351.3 320.3 351.8 315.9 352.3 315.8 352.8 315.7 353.3 315.7 353.8 319.4 354.3 326.4 354.8 333.5 355.3 340.5 355.8 338.2 356.3 332 356.8 325.8 357.3 319.5 357.8 319.5 358.3 325 358.8 330.5 359.3 336 359.8 341.5 360.3 340.4 360.8 334.9 361.3 329.4 361.8 323.9 362.3 323.9 362.8 323.8 363.3 323.7 363.8 325.5 364.3 329.4 364.8 333.3 365.3 337.2 365.8 337.5 366.3 333.7 366.8 330 367.3 326.3 367.8 324.3 368.3 324.2 368.8 324.2 369.3 329.6 369.8 336.7 370.3 343.7 370.8 338.2 371.3 331.6 371.8 325.3 372.3 325.1 372.8 324.8 373.3 324.9 373.8 328.6 374.3 332.4 374.8 336.1 375.3 334.9 375.8 332.3 376.3 329.7 376.8 328.8 377.3 329.3 377.8 329.7 378.3 334.1 378.8 341.5 379.3 348.8 379.8 350.6 380.3 344.2 380.8 337.9 381.3 333.1 381.8 333.3 382.3 333.5 382.8 334.8 383.3 338.8 383.8 342.8 384.3 347 384.8 355.1 385.3 363.3 385.8 371.4 386.3 369.8 386.8 361.6 387.3 353.5 387.8 345.3 388.3 341.1 388.8 340.7 389.3 335.6 389.8 330.5 390.3 327.2 390.8 325.5 391.3 324.6 391.8 324.2 392.3 327.1 392.8 330.4 393.3 333.7 393.8 336.7 394.3 333 394.8 329.3 395.3 325.6 395.8 322.5 396.3 322.2 396.8 321.8 397.3 322.4 397.8 328.3 398.3 334.5 398.8 340.8 399.3 336.1 399.8 330.3 400.3 324.5 400.8 322.7 401.3 322.7 401.8 322.7 402.3 322.9 402.8 324.8 403.3 326.7 403.8 328.6 404.3 329.7 404.8 327.7 405.3 326.1 405.8 324.8 406.3 324.3 406.8 325 407.3 325.7 407.8 326.4 408.3 331.4 408.8 337 409.3 342.7 409.8 347.4 410.3 343.4 410.8 339.5 411.3 335.6 411.8 333.3 412.3 333.6 412.8 333.7 413.3 333.8 413.8 337.9 414.3 344.3 414.8 350.6 415.3 357 415.8 355.7 416.3 351.2 416.8 346.6 417.3 342.1 417.8 340.7 418.3 340.4 418.8 340.1 419.3 341.5 419.8 347.5 420.3 353.4 420.8 359.3 421.3 358.4 421.8 352.5 422.3 346.6 422.8 349.5 423.3 348.4 423.8 342.9 424.3 340.3 424.8 345.7 425.3 352.1 425.8 357.8 426.3 356.7 426.8 351.1 427.3 346.2 427.8 343.4 428.3 343.9 428.8 343.9 429.3 343.8 429.8 346.5 430.3 349.4 430.8 351.8 431.3 353.2 431.8 350.3 432.3 348 432.8 346.3 433.3 346.6 433.8 348 434.3 349.6 434.8 351.3 435.3 352.8 435.8 351.8 436.3 350.8 436.8 349.7 437.3 348.7 437.8 347.9 438.3 348.3 438.8 348.4 439.3 347.9 439.8 347.4 440.3 346.8 440.8 347.1 441.3 347.6 441.8 348.1 442.3 348.6 442.8 349.1 443.3 349.6 443.8 348.2 444.3 346.7 444.8 345.3 445.3 343.8 445.8 342.4 446.3 341.1 446.8 340.3 447.3 339.6 447.8 339.4 448.3 339.6 448.8 339.9 449.3 341.4 449.8 344.6 450.3 350.2 450.8 355.7 451.3 361.3 451.8 366.9 452.3 363.5 452.8 358 453.3 352.4 453.8 350 454.3 348.6 454.8 347.2 455.3 346.8 455.8 347 456.3 347.1 456.8 346.9 457.3 346.9 457.8 349.4 458.3 351.9 458.8 354.5 459.3 357 459.8 358.8 460.3 357 460.8 355.2 461.3 353.4 461.8 351.7 462.3 350.3 462.8 350.2 463.3 350 463.8 349.9 464.3 349.7 464.8 351.6 465.3 353 465.8 354.1 466.3 355.2 466.8 354.6 467.3 352 467.8 349.5 468.3 347 468.8 344.5 469.3 343.6 469.8 342.8 470.3 342 470.8 341.2 471.3 340.4 471.8 340.6 472.3 341.3 472.8 341.9 473.3 342.6 473.8 343.2 474.3 343.4 474.8 346.8 475.3 354.8 475.8 362.9 476.3 370.9 476.8 366.1 477.3 358 477.8 350 478.3 341.9 478.8 335 479.3 334.9 479.8 336.3 480.3 337.7 480.8 339.2 481.3 340.6 481.8 342.3 482.3 341.5 482.8 341.5 483.3 349.3 483.8 357 484.3 364.8 484.8 369.4 485.3 361.7 485.8 353.9 486.3 346.2 486.8 338.4 487.3 338.8 487.8 339.8 488.3 340.8 488.8 341.8 489.3 343 489.8 344.1 490.3 344.1 490.8 344.1 491.3 344.1 491.8 344.1 492.3 344 492.8 344.3 493.3 344.8 493.8 345.2 494.3 345.7 494.8 346.1 495.3 347.2 495.8 350.4 496.3 353.6 496.8 356.8 497.3 360 497.8 363.2 498.3 364.1 498.8 362 499.3 359.9 499.8 357.9 500.3 355.8 500.8 353.7 501.3 353.3 501.8 353.8 502.3 354.3 502.8 354.8 503.3 355.3 503.8 357 504.3 358.6 504.8 360.3 505.3 362.1 505.8 363.3 506.3 363.1 506.8 362.9 507.3 362.7 507.8 362.5 508.3 362.5 508.8 363 509.3 363.4 509.8 363.8 510.3 366.2 510.8 370.8 511.3 375.4 511.8 380 512.3 382.7 512.8 379.9 513.3 377.2 513.8 374.6 514.3 372.1 514.8 372.7 515.3 373.3 515.8 373.9 516.3 374.7 516.8 379.4 517.3 384.2 517.8 388.9 518.3 393.6 518.8 392 519.3 388.7 519.8 385.3 520.3 381.9 520.8 380.7 521.3 381.5 521.8 382.3 522.3 383.1 522.8 383.9 523.3 385.4 523.8 387.7 524.3 390 524.8 392.3 525.3 394.6 525.8 396.8 526.3 396.4 526.8 396.1 527.3 395.7 527.8 395.4 528.3 395 528.8 395.4 529.3 396.2 529.8 396.9 530.3 397.6 530.8 399 531.3 401.8 531.8 404.6 532.3 407.4 532.8 410.3 533.3 410.7 533.8 409.5 534.3 408.3 534.8 407.1 535.3 405.9 535.8 406.6 536.3 407.4 536.8 408.3 537.3 408.9 537.8 412.8 538.3 417.4 538.8 422 539.3 426.6 539.8 427.5 540.3 424.1 540.8 421.3 541.3 426.8 541.8 425.7 542.3 420.2 542.8 415 543.3 415.5 543.8 415.9 544.3 418 544.8 420.7 545.3 423.5 545.8 426.3 546.3 429 546.8 427.8 547.3 426.6 547.8 425.4 548.3 424.5 548.8 424.3 549.3 425.3 549.8 426.3 550.3 427.3 550.8 429.5 551.3 433.4 551.8 437.3 552.3 441.2 552.8 443.4 553.3 442.5 553.8 441.6 554.3 440.8 554.8 440.5 555.3 441.8 555.8 443.1 556.3 444.4 556.8 445.7 557.3 447 557.8 449.6 558.3 452.6 558.8 455.6 559.3 458.5 559.8 461.5 560.3 463.8 560.8 462.7 561.3 461.3 561.8 459.9 562.3 458.4 562.8 457 563.3 455.6 563.8 455.9 564.3 456.2 564.8 460.7 565.3 467.9 565.8 474.7 566.3 467.7 566.8 468.9 567.3 475.4 567.8 482 568.3 475.4 568.8 468.9 569.3 463.6 569.8 457 570.3 450.4 570.8 449 571.3 448.5 571.8 448.7 572.3 453.7 572.8 458.8 573.3 461.3 573.8 456 574.3 450.6 574.8 446.8 575.3 445.9 575.8 445 576.3 445.9 576.8 449.4 577.3 452.9 577.8 454 578.3 449.4 578.8 454.8 579.3 453.4 579.8 448.3 580.3 442.3 580.8 434.8 581.3 425.3 581.8 411.9 582.3 391.2 582.8 374.6 583.3 374.6 583.8 396.1 584.3 415 584.8 427.4 585.3 436.5 585.8 443.6 586.3 443.5 586.8 440.6 587.3 439.9 587.8 439.5 588.3 446 588.8 440.2 589.3 433 589.8 423.7 590.3 410.8 590.8 390.6 591.3 374.6 591.8 374.6 592.3 395.5 592.8 413.8 593.3 425.8 593.8 434.5 594.3 438.4 594.8 437.7 595.3 437.8 595.8 442.7 596.3 451 596.8 459.3 597.3 455.9 597.8 451 598.3 447.6 598.8 448.8 599.3 449.9 599.8 451.5 600.3 453.9 600.8 455.7 601.3 456.2 601.8 454.9 602.3 453.5 602.8 452.4 603.3 457.6 603.8 464.8 604.3 472 604.8 479.1 605.3 477.7 605.8 470.5 606.3 463.3 606.8 456.2 607.3 451.7 607.8 453 608.3 456.6 608.8 459.3 609.3 455.2 609.8 450.8 610.3 449.6 610.8 449 611.3 449.1 611.8 455.4 612.3 461.7 612.8 465.3 613.3 457.8 613.8 450.3 614.3 444.7 614.8 444.2 615.3 447.4 615.8 465.4 616.3 483.5 616.8 465.3 617.3 446.8 617.8 442 618.3 441.5 618.8 443.8 619.3 448.4 619.8 452.1 620.3 448.1 620.8 444.1 621.3 443 621.8 443.3 622.3 445.6 622.8 449.7 623.3 451.8 623.8 448.4 624.3 445 624.8 444.7 625.3 444.5 625.8 450 626.3 458.9 626.8 465.4 627.3 457.9 627.8 450.4 628.3 447.5 628.8 446.9 629.3 447.7 629.8 453.2 630.3 458.7 630.8 457.2 631.3 452.1 631.8 447.2 632.3 446.6 632.8 446 633.3 452.8 633.8 461 634.3 461.4 634.8 452.5 635.3 444.3 635.8 443.3 636.3 442 636.8 445.3 637.3 451.5 637.8 457.7 638.3 451.1 638.8 444 639.3 439 639.8 438.1 640.3 437.1 640.8 439.2 641.3 443.4 641.8 447.7 642.3 445.8 642.8 441 643.3 436.2 643.8 440.1 644.3 449.7 644.8 459.4 645.3 469.1 645.8 463.3 646.3 453.6 646.8 443.9 647.3 434.3 647.8 425.5 648.3 425.4 648.8 425.2 649.3 425.2 649.8 427.6 650.3 430 650.8 432.4 651.3 431.7 651.8 430.7 652.3 429.7 652.8 429.2 653.3 428.9 653.8 429 654.3 431.4 654.8 433.9 655.3 434.3 655.8 431.8 656.3 429.3 656.8 428.3 657.3 428 657.8 427.6 658.3 432.9 658.8 438.3 659.3 442.6 659.8 437.8 660.3 433.1 660.8 429.5 661.3 429.3 661.8 429.2 662.3 435.8 662.8 442.4 663.3 440.6 663.8 434 664.3 429 664.8 428.7 665.3 428.4 665.8 431.2 666.3 435.7 666.8 440.3 667.3 437.2 667.8 433.7 668.3 431.1 668.8 431.3 669.3 431.6 669.8 434.3 670.3 438 670.8 441.7 671.3 439.6 671.8 437.5 672.3 436.2 672.8 436.1 673.3 436.1 673.8 444.6 674.3 453.4 674.8 454.6 675.3 446.7 675.8 438.9 676.3 443.3 676.8 449.4 677.3 455.5 677.8 461.6 678.3 460.3 678.8 454.2 679.3 452.3 679.8 447.6 680.3 442.9 680.8 440.8 681.3 441 681.8 441.2 682.3 443.5 682.8 445.8 683.3 446.9 683.8 445.8 684.3 444.6 684.8 444.2 685.3 444.1 685.8 445.1 686.3 451.8 686.8 458.5 687.3 459.2 687.8 452.9 688.3 446.7 688.8 445.3 689.3 445.3 689.8 445.3 690.3 446.9 690.8 448.8 691.3 450.7 691.8 449.6 692.3 446.9 692.8 444 693.3 442.4 693.8 442.3 694.3 442.3 694.8 445.1 695.3 447.8 695.8 448.2 696.3 446.4 696.8 444.6 697.3 447.3 697.8 452.8 698.3 458.3 698.8 463.8 699.3 462.7 699.8 457.2 700.3 451.7 700.8 446.2 701.3 442.8 701.8 442.7 702.3 446 702.8 449.5 703.3 450.5 703.8 446.8 704.3 443.2 704.8 442 705.3 441.5 705.8 443.3 706.3 448.1 706.8 452.9 707.3 449.6 707.8 445.3 708.3 442.7 708.8 443.2 709.3 443.6 709.8 445.3 710.3 448.4 710.8 451.5 711.3 453 711.8 452.3 712.3 451.6 712.8 451.1 713.3 451 713.8 450.9 714.3 452.4 714.8 454.9 715.3 457.3 715.8 456 716.3 453.3 716.8 450.7 717.3 449.9 717.8 449.3 718.3 453.5 718.8 461.1 719.3 466.3 719.8 457.9 720.3 463.3 720.8 468.8 721.3 467.7 721.8 462.2 722.3 456.7 722.8 465.7 723.3 466.7 723.8 459.1 724.3 451.6 724.8 449.4 725.3 448.8 725.8 448.6 726.3 451.7 726.8 454.8 727.3 455.6 727.8 451.6 728.3 447.7 728.8 445.6 729.3 445.1 729.8 444.8 730.3 450.6 730.8 456.4 731.3 458.1 731.8 451.9 732.3 445.7 732.8 443.4 733.3 442.7 733.8 442.1 734.3 449.4 734.8 457.1 735.3 464.2 735.8 457 736.3 449.8 736.8 443.5 737.3 442.8 737.8 442.2 738.3 441.7 738.8 443.6 739.3 445.6 739.8 447.5 740.3 446.2 740.8 444.3 741.3 442.6 741.8 441.8 742.3 441.5 742.8 441.9 743.3 447.1 743.8 452.3 744.3 452.6 744.8 447.4 745.3 448.5 745.8 454 746.3 459.5 746.8 456.2 747.3 450.7 747.8 448.2 748.3 451.6 748.8 447.6 749.3 443.5 749.8 440 750.3 439.8 750.8 439.5 751.3 439.6 751.8 441.3 752.3 443.1 752.8 444.8 753.3 443.1 753.8 441.1 754.3 439.1 754.8 438.1 755.3 437.6 755.8 437.6 756.3 440.9 756.8 444.2 757.3 444.3 757.8 440.3 758.3 436.4 758.8 435.1 759.3 434.7 759.8 438.2 760.3 447.4 760.8 456.5 761.3 450 761.8 442 762.3 437.3 762.8 436.9 763.3 438.8 763.8 455 764.3 471.2 764.8 467.7 765.3 452 765.8 438.5 766.3 438.7 766.8 438.8 767.3 447.7 767.8 458.2 768.3 461.3 768.8 453.9 769.3 446.4 769.8 446.4 770.3 446.6 770.8 447.7 771.3 452.6 771.8 457.6 772.3 461.1 772.8 457.3 773.3 453.5 773.8 450.4 774.3 451.2 774.8 451.9 775.3 452.6 775.8 453.4 776.3 455.3 776.8 458.7 777.3 462.1 777.8 465.6 778.3 469 778.8 467.8 779.3 462.7 779.8 457.7 780.3 452.6 780.8 447.5 781.3 444.6 781.8 443.3 782.3 441.9 782.8 441.4 783.3 446.8 783.8 452.8 784.3 458.9 784.8 465 785.3 468.4 785.8 476 786.3 468.4 786.8 460.8 787.3 453.2 787.8 445.8 788.3 445.9 788.8 446 789.3 447 789.8 452 790.3 456.9 790.8 461.7 791.3 466.6 791.8 470.9 792.3 466.3 792.8 461.7 793.3 457.1 793.8 452.5 794.3 459 794.8 465.5 795.3 472.1 795.8 473.4 796.3 466.8 796.8 460.3 797.3 454.7 797.8 460.1 798.3 465.5 798.8 470.9 799.3 469.9 799.8 464.9 800.3 459.5 800.8 462.3 801.3 469.7 801.8 477.1 802.3 475.6 802.8 468.2 803.3 460.9 803.8 453.5 804.3 450 804.8 452.5 805.3 455 805.8 454.6 806.3 451.7 806.8 448.9 807.3 446.8 807.8 446.1 808.3 447 808.8 447.9 809.3 448.9 809.8 449.8 810.3 454 810.8 458.7 811.3 463.4 811.8 468.1 812.3 471.8 812.8 469.2 813.3 466.2 813.8 462.8 814.3 459.5 814.8 464.8 815.3 470.3 815.8 475.8 816.3 481.3 816.8 478 817.3 472.5 817.8 467.7 818.3 469.3 818.8 467 819.3 464.7 819.8 462.4 820.3 461.6 820.8 461.8 821.3 462 821.8 463 822.3 467.3 822.8 471.7 823.3 476 823.8 475.6 824.3 471.5 824.8 467.1 825.3 462.8 825.8 462.3 826.3 462 826.8 461.6 827.3 461.5 827.8 463.8 828.3 466.1 828.8 468.4 829.3 470.7 829.8 468.8 830.3 466.8 830.8 465.2 831.3 464.1 831.8 464.1 832.3 464.4 832.8 464.6 833.3 464.8 833.8 467.6 834.3 471 834.8 474.4 835.3 477.8 835.8 478.2 836.3 475.6 836.8 473 837.3 470.4 837.8 468.3 838.3 468.1 838.8 469.2 839.3 474.7 839.8 480.2 840.3 485.7 840.8 482.4 841.3 476.9 841.8 472.1 842.3 470.6 842.8 468.9 843.3 467.3 843.8 465.7 844.3 464.8 844.8 464.3 845.3 463.7 845.8 463.2 846.3 465.1 846.8 472.4 847.3 479.8 847.8 487.1 848.3 494.5 848.8 492.6 849.3 485.2 849.8 477.7 850.3 470.3 850.8 462.9 851.3 461.9 851.8 461.3 852.3 460.8 852.8 460.2 853.3 463.7 853.8 468.7 854.3 473.7 854.8 478.9 855.3 481.5 855.8 476.8 856.3 472 856.8 467.3 857.3 462.6 857.8 461.8 858.3 462.1 858.8 462.3 859.3 462.5 859.8 463.7 860.3 467.4 860.8 471.4 861.3 475.5 861.8 479.5 862.3 480.2 862.8 477.6 863.3 475 863.8 472.4 864.3 469.8 864.8 469.6 865.3 470.5 865.8 471.1 866.3 471.4 866.8 476 867.3 481.6 867.8 487.2 868.3 492.9 868.8 491 869.3 486.1 869.8 481.2 870.3 476.3 870.8 474.4 871.3 474.5 871.8 474.5 872.3 474.6 872.8 474.9 873.3 476.9 873.8 479 874.3 480.7 874.8 482.1 875.3 482.6 875.8 483.3 876.3 488.8 876.8 487.7 877.3 482.2 877.8 476.7 878.3 474.5 878.8 473.8 879.3 473.1 879.8 472.3 880.3 473.3 880.8 474.5 881.3 476.4 881.8 478.6 882.3 483.3 882.8 488.8 883.3 487.7 883.8 482.2 884.3 476.7 884.8 475.2 885.3 475.7 885.8 476.3 886.3 476.9 886.8 479.4 887.3 483.9 887.8 488 888.3 492.1 888.8 490.2 889.3 486.6 889.8 483.1 890.3 481.2 890.8 486.7 891.3 492.2 891.8 497.7 892.3 492.2 892.8 486.7 893.3 487.8 893.8 491.5 894.3 494.1 894.8 491.2 895.3 488.2 895.8 485.3 896.3 482.3 896.8 481.7 897.3 481 897.8 480.4 898.3 484 898.8 490.4 899.3 496.7 899.8 503 900.3 497.7 900.8 491.7 901.3 485.6 901.8 481 902.3 480.7 902.8 480.3 903.3 480 903.8 479.7 904.3 480.9 904.8 482.9 905.3 484.8 905.8 486.8 906.3 488.8 906.8 494.3 907.3 501.3 907.8 508.2 908.3 506.8 908.8 499.9 909.3 493 909.8 486 910.3 484.9 910.8 485.1 911.3 488.6 911.8 493.1 912.3 497.4 912.8 501.7 913.3 499.8 913.8 495.9 914.3 501 914.8 506.5 915.3 501 915.8 495.5 916.3 490 916.8 488.1 917.3 491.3 917.8 494.6 918.3 497.4 918.8 498.4 919.3 494.6 919.8 490.9 920.3 487.2 920.8 484.8 921.3 484.1 921.8 483.4 922.3 482.7 922.8 482.3 923.3 484.2 923.8 486.1 924.3 487.7 924.8 489.3 925.3 488.5 925.8 485.5 926.3 482.5 926.8 479.6 927.3 476.6 927.8 475.6 928.3 474.8 928.8 474 929.3 476 929.8 479.8 930.3 483.6 930.8 486.9 931.3 483.9 931.8 480.9 932.3 477.9 932.8 476.4 933.3 476.1 933.8 475.8 934.3 475.5 934.8 477.4 935.3 480.7 935.8 484 936.3 487.4 936.8 487.8 937.3 484.5 937.8 481.2 938.3 477.9 938.8 482.4 939.3 487.9 939.8 493.4 940.3 492.3 940.8 486.8 941.3 481.3 941.8 483.1 942.3 487.8 942.8 492.5 943.3 497.2 943.8 494.9 944.3 490.7 944.8 486.4 945.3 482.2 945.8 478.1 946.3 477.7 946.8 482.5 947.3 488.8 947.8 495.1 948.3 501.5 948.8 505.2 949.3 498.9 949.8 497.8 950.3 497 950.8 493.2 951.3 489.4 951.8 485.6 952.3 483.5 952.8 483.5 953.3 483.6 953.8 483.7 954.3 488.2 954.8 494.4 955.3 500.6 955.8 506.8 956.3 513 956.8 506.8 957.3 500.6 957.8 494.4 958.3 488.2 958.8 488.2 959.3 488.6 959.8 489 960.3 491 960.8 493.4 961.3 495.8 961.8 498.3 962.3 499.1 962.8 498 963.3 502.7 963.8 508.9 964.3 515.2 964.8 521.5 965.3 520.2 965.8 514 966.3 507.7 966.8 501.4 967.3 505.5 967.8 510.7 968.3 515.8 968.8 520.7 969.3 518.9 969.8 515.8 970.3 512.6 970.8 509.5 971.3 509.6 971.8 515.1 972.3 520.6 972.8 523.9 973.3 518.4 973.8 512.9 974.3 511 974.8 512.7 975.3 514.5 975.8 514.8 976.3 513.7 976.8 512.4 977.3 511.1 977.8 510 978.3 510 978.8 510.1 979.3 510.1 979.8 510.2 980.3 512.2 980.8 515.5 981.3 518.7 981.8 522 982.3 525.3 982.8 524 983.3 522.6 983.8 521.1 984.3 519.7 984.8 518.4 985.3 520.5 985.8 522.5 986.3 524.6 986.8 528.1 987.3 531.6 987.8 534.2 988.3 536.9 988.8 535.7 989.3 534 989.8 535.5 990.3 541 990.8 546.5 991.3 552 991.8 546.5 992.3 541 992.8 537 993.3 544.6 993.8 552.1 994.3 559.7 994.8 563.2 995.3 556.1 995.8 549 996.3 541.9 996.8 534.9 997.3 533 997.8 533.5 998.3 534 998.8 535.5 999.3 539.4 999.8 543.3 1000.3 547 1000.8 546 1001.3 542.9 1001.8 539.7 1002.3 544.3 1002.8 549.8 1003.3 548.7 1003.8 543.2 1004.3 537.7 1004.8 537 1005.3 539.1 1005.8 541.2 1006.3 543.3 1006.8 545.4 1007.3 544.7 1007.8 542.7 1008.3 543 1008.8 548.9 1009.3 554.7 1009.8 560.6 1010.3 559.5 1010.8 553.6 1011.3 547.7 1011.8 541.8 1012.3 544.1 1012.8 548.2 1013.3 552.3 1013.8 552.5 1014.3 549.6 1014.8 546.6 1015.3 543.5 1015.8 544.2 1016.3 551.3 1016.8 558.5 1017.3 565.7 1017.8 567.1 1018.3 560 1018.8 563.3 1019.3 566.5 1019.8 558.5 1020.3 550.4 1020.8 542.4 1021.3 540 1021.8 539.7 1022.3 539.5 1022.8 539.3 1023.3 544.4 1023.8 549.5 1024.3 554.5 1024.8 559.2 1025.3 553.2 1025.8 547.2 1026.3 541.2 1026.8 535.5 1027.3 534.8 1027.8 534.1 1028.3 533.4 1028.8 532.8 1029.3 532.6 1029.8 535.3 1030.3 538.4 1030.8 542 1031.3 545.5 1031.8 549 1032.3 547 1032.8 544.8 1033.3 542.5 1033.8 540.2 1034.3 538 1034.8 537.5 1035.3 537.7 1035.8 538.6 1036.3 551 1036.8 563.5 1037.3 571.2 1037.8 559.3 1038.3 547.5 1038.8 539.6 1039.3 539.6 1039.8 539.6 1040.3 550.5 1040.8 563.5 1041.3 572.5 1041.8 559.9 1042.3 547.2 1042.8 540.6 1043.3 540.3 1043.8 541.7 1044.3 545.9 1044.8 548.8 1045.3 543.8 1045.8 538.9 1046.3 537.5 1046.8 536.7 1047.3 537.9 1047.8 542.6 1048.3 547.3 1048.8 546.2 1049.3 542.8 1049.8 539.6 1050.3 539.3 1050.8 539.1 1051.3 542.7 1051.8 547.4 1052.3 549 1052.8 544.8 1053.3 540.6 1053.8 539.9 1054.3 539.9 1054.8 548.7 1055.3 557.6 1055.8 566.4 1056.3 575.2 1056.8 569.9 1057.3 561.1 1057.8 552.3 1058.3 543.4 1058.8 541.8 1059.3 550.7 1059.8 559.7 1060.3 555.6 1060.8 547 1061.3 540.2 1061.8 539.7 1062.3 539.7 1062.8 547.8 1063.3 555.9 1063.8 552.6 1064.3 545.6 1064.8 551.6 1065.3 558 1065.8 564.4 1066.3 563.1 1066.8 556.7 1067.3 556.1 1067.8 548.4 1068.3 540.6 1068.8 540 1069.3 540 1069.8 543.1 1070.3 555.8 1070.8 568.5 1071.3 571.2 1071.8 559 1072.3 546.8 1072.8 541.3 1073.3 541.2 1073.8 541.1 1074.3 545.1 1074.8 551 1075.3 556.8 1075.8 555.5 1076.3 550.3 1076.8 545.1 1077.3 543 1077.8 542.9 1078.3 548.3 1078.8 559.1 1079.3 563.9 1079.8 553.5 1080.3 543.8 1080.8 543.6 1081.3 542.8 1081.8 548.3 1082.3 558.7 1082.8 569.1 1083.3 559.2 1083.8 548.1 1084.3 540.1 1084.8 539.2 1085.3 538.3 1085.8 542.7 1086.3 548.4 1086.8 552.5 1087.3 546.8 1087.8 541.1 1088.3 537.7 1088.8 536.6 1089.3 535.6 1089.8 538.2 1090.3 541 1090.8 541.3 1091.3 538 1091.8 534.7 1092.3 533.6 1092.8 532.8 1093.3 532.1 1093.8 537.9 1094.3 544.9 1094.8 551.9 1095.3 548.9 1095.8 540.6 1096.3 532.4 1096.8 527.9 1097.3 527.7 1097.8 527.4 1098.3 532.7 1098.8 539.9 1099.3 547.1 1099.8 542.4 1100.3 535.3 1100.8 528.2 1101.3 527 1101.8 526.3 1102.3 525.6 1102.8 528.4 1103.3 531.6 1103.8 534.8 1104.3 533.5 1104.8 530.4 1105.3 527.6 1105.8 526.2 1106.3 526.8 1106.8 527.3 1107.3 531.2 1107.8 541.1 1108.3 551 1108.8 559.3 1109.3 551.1 1109.8 542.9 1110.3 533.1 1110.8 529.7 1111.3 527.9 1111.8 526.4 1112.3 528.8 1112.8 531.3 1113.3 535.3 1113.8 535.4 1114.3 535.5 1114.8 536.3 1115.3 539.1 1115.8 542 1116.3 546.9 1116.8 556.1 1117.3 565.2 1117.8 568.3 1118.3 560.7 1118.8 553 1119.3 547.9 1119.8 548.5 1120.3 549.1 1120.8 550.7 1121.3 554 1121.8 557.4 1122.3 559.6 1122.8 557.7 1123.3 555.9 1123.8 554.4 1124.3 555 1124.8 555.6 1125.3 558.4 1125.8 563.5 1126.3 568.5 1126.8 568 1127.3 565.4 1127.8 562.2 1128.3 561.7 1128.8 561.5 1129.3 567.7 1129.8 575.8 1130.3 577.4 1130.8 570.8 1131.3 573.5 1131.8 579 1132.3 573.5 1132.8 568 1133.3 570.5 1133.8 575.7 1134.3 577.7 1134.8 572.9 1135.3 568.1 1135.8 564.8 1136.3 564.7 1136.8 566 1137.3 579.9 1137.8 593.8 1138.3 587.9 1138.8 574.3 1139.3 565.4 1139.8 565.1 1140.3 566.2 1140.8 572.3 1141.3 578.4 1141.8 574.4 1142.3 569.5 1142.8 567.7 1143.3 567.7 1143.8 571.2 1144.3 578.7 1144.8 584.4 1145.3 578.7 1145.8 572.5 1146.3 570.5 1146.8 569.2 1147.3 568.2 1147.8 569.2 1148.3 570.3 1148.8 570.8 1149.3 567.9 1149.8 565 1150.3 562.5 1150.8 561.8 1151.3 561 1151.8 567.3 1152.3 575.5 1152.8 579.5 1153.3 570.8 1153.8 562.1 1154.3 559.3 1154.8 559.2 1155.3 559.1 1155.8 562.9 1156.3 568.6 1156.8 574.2 1157.3 574.8 1157.8 569.7 1158.3 564.7 1158.8 561.1 1159.3 561 1159.8 560.9 1160.3 563.8 1160.8 570.4 1161.3 577 1161.8 577.6 1162.3 570.8 1162.8 564.1 1163.3 559.7 1163.8 558.1 1164.3 557.2 1164.8 560.6 1165.3 564 1165.8 558.9 1166.3 551.9 1166.8 543.4 1167.3 532.3 1167.8 517 1168.3 493.1 1168.8 474 1169.3 474 1169.8 498.8 1170.3 520.6 1170.8 534.8 1171.3 545.2 1171.8 553.4 1172.3 553.2 1172.8 553.4 1173.3 559.1 1173.8 562.5 1174.3 556.3 1174.8 548.7 1175.3 539.3 1175.8 526.9 1176.3 508.8 1176.8 480.9 1177.3 474 1177.8 480.9 1178.3 508.8 1178.8 526.9 1179.3 539.3 1179.8 548.7 1180.3 553.2 1180.8 553.1 1181.3 555.1 1181.8 563.3 1182.3 571.6 1182.8 578 1183.3 571.8 1183.8 565.6 1184.3 560 1184.8 561.1 1185.3 562.2 1185.8 571.2 1186.3 580.6 1186.8 579.8 1187.3 574.1 1187.8 571 1188.3 571.4 1188.8 573.3 1189.3 583.6 1189.8 594 1190.3 589.5 1190.8 580.3 1191.3 574.5 1191.8 574.6 1192.3 574.7 1192.8 579.3 1193.3 586.6 1193.8 593.8 1194.3 592.5 1194.8 587.1 1195.3 581.8 1195.8 580.6 1196.3 580.8 1196.8 586.6 1197.3 596 1197.8 599 1198.3 589.8 1198.8 581.1 1199.3 581 1199.8 580.9 1200.3 592.5 1200.8 605.7 1201.3 604.7 1201.8 593.5 1202.3 585.2 1202.8 584.9 1203.3 584.5 1203.8 585.9 1204.3 587.7 1204.8 589 1205.3 586.7 1205.8 584.4 1206.3 582.9 1206.8 582.4 1207.3 582 1207.8 585.9 1208.3 590.5 1208.8 593.7 1209.3 588.1 1209.8 582.6 1210.3 578.9 1210.8 578.2 1211.3 577.7 1211.8 588.5 1212.3 598.2 1212.8 595.5 1213.3 582.3 1213.8 569.4 1214.3 566.8 1214.8 564.2 1215.3 562.7 1215.8 564.1 1216.3 565.6 1216.8 564.7 1217.3 561.2 1217.8 559.3 1218.3 558.7 1218.8 560 1219.3 561.4 1219.8 568.2 1220.3 576.8 1220.8 585.3 1221.3 578.4 1221.8 569.2 1222.3 560.9 1222.8 557.3 1223.3 553.8 1223.8 554.6 1224.3 559.1 1224.8 563.7 1225.3 556.8 1225.8 546.3 1226.3 543.9 1226.8 554.2 1227.3 564.5 1227.8 574.9 1228.3 572.8 1228.8 562.5 1229.3 552.1 1229.8 541.8 1230.3 531.5 1230.8 526.3 1231.3 525 1231.8 526.6 1232.3 529 1232.8 532.3 1233.3 531.4 1233.8 528.5 1234.3 525.7 1234.8 524.2 1235.3 523.8 1235.8 524.4 1236.3 534.6 1236.8 544.8 1237.3 545.6 1237.8 535.7 1238.3 525.7 1238.8 523.9 1239.3 523.8 1239.8 523.6 1240.3 529.4 1240.8 535.6 1241.3 541.7 1241.8 537.2 1242.3 531.3 1242.8 525.4 1243.3 524.2 1243.8 524.1 1244.3 529 1244.8 539.2 1245.3 549.3 1245.8 540 1246.3 530.6 1246.8 526 1247.3 525.3 1247.8 529 1248.3 539.7 1248.8 549 1249.3 538.5 1249.8 528.1 1250.3 525.3 1250.8 524.7 1251.3 524.2 1251.8 532.2 1252.3 541.1 1252.8 550.2 1253.3 543.1 1253.8 536 1254.3 529.3 1254.8 529.8 1255.3 530.4 1255.8 542.9 1256.3 559.2 1256.8 565.7 1257.3 551.6 1257.8 537.6 1258.3 536.1 1258.8 535.6 1259.3 535.1 1259.8 537.3 1260.3 539.9 1260.8 542.5 1261.3 541.9 1261.8 539.8 1262.3 537.7 1262.8 536.4 1263.3 540.4 1263.8 546.2 1264.3 551.9 1264.8 557.7 1265.3 556.5 1265.8 550.8 1266.3 545 1266.8 539.3 1267.3 536.6 1267.8 539.7 1268.3 543.6 1268.8 544.1 1269.3 542.2 1269.8 541.1 1270.3 541 1270.8 541 1271.3 546.1 1271.8 553 1272.3 559.2 1272.8 553.9 1273.3 547.4 1273.8 541.3 1274.3 540.4 1274.8 539.5 1275.3 543.2 1275.8 546.9 1276.3 544.8 1276.8 540.9 1277.3 538.9 1277.8 538.2 1278.3 538.5 1278.8 541 1279.3 543.6 1279.8 541.6 1280.3 538.7 1280.8 536.7 1281.3 535.8 1281.8 535 1282.3 536.7 1282.8 540.6 1283.3 545.3 1283.8 545.5 1284.3 542.2 1284.8 539 1285.3 537.5 1285.8 537.5 1286.3 537.5 1286.8 541.6 1287.3 546 1287.8 549.1 1288.3 545.9 1288.8 542.7 1289.3 540.5 1289.8 539.9 1290.3 541.4 1290.8 547.2 1291.3 551.8 1291.8 548 1292.3 555.6 1292.8 564 1293.3 572.3 1293.8 577.3 1294.3 569 1294.8 560.6 1295.3 562.8 1295.8 559.3 1296.3 552.7 1296.8 546.2 1297.3 543.7 1297.8 543.9 1298.3 543.8 1298.8 548 1299.3 555.6 1299.8 563.1 1300.3 564.7 1300.8 556.6 1301.3 548.6 1301.8 541.9 1302.3 541.7 1302.8 541.4 1303.3 542.4 1303.8 546.6 1304.3 550.8 1304.8 553.4 1305.3 549.6 1305.8 545.7 1306.3 542.3 1306.8 541.6 1307.3 541 1307.8 543 1308.3 551.3 1308.8 559.7 1309.3 563.8 1309.8 555.9 1310.3 548.1 1310.8 542 1311.3 541.2 1311.8 541.3 1312.3 551.7 1312.8 562.1 1313.3 555.8 1313.8 544.9 1314.3 539 1314.8 538.5 1315.3 539.7 1315.8 545.3 1316.3 550.9 1316.8 546.7 1317.3 541.7 1317.8 539.2 1318.3 538.6 1318.8 538 1319.3 542.4 1319.8 547.6 1320.3 552.9 1320.8 548.4 1321.3 543.7 1321.8 539.3 1322.3 539 1322.8 538.6 1323.3 539.3 1323.8 545.2 1324.3 551.1 1324.8 556.2 1325.3 551.2 1325.8 546.2 1326.3 540.9 1326.8 539.8 1327.3 538.9 1327.8 537.9 1328.3 544.6 1328.8 552.1 1329.3 559.7 1329.8 556.4 1330.3 557.7 1330.8 565.8 1331.3 564.1 1331.8 556 1332.3 547.9 1332.8 539.8 1333.3 544 1333.8 553 1334.3 554.3 1334.8 545.7 1335.3 537.1L1354.4 537.1L1354.4 632.3L112.6 632.3Z" fill="#c5dceb" stroke="#457bbc"/>
<line x1="136" y1="148" x2="136" y2="228" stroke="#4f3a96" stroke-width="3.4"/>
<line x1="136.2" y1="238" x2="136.2" y2="318" stroke="#457bbc" stroke-width="3.4"/>
</g>
<g clip-path="url(#cb)" stroke-width="3.0" stroke-linejoin="round">
<path d="M112.6 656L133.8 656 134.3 656 134.8 656 135.3 656 135.8 656 136.3 682.4 136.8 712.5 137.3 739.8 137.8 748.8 138.3 746.9 138.8 745.7 139.3 746 139.8 746.3 140.3 746.6 140.8 752.4 141.3 758.5 141.8 764.5 142.3 766.8 142.8 762.4 143.3 759.3 143.8 757.1 144.3 758.6 144.8 761.3 145.3 764.2 145.8 771.3 146.3 778.3 146.8 784.2 147.3 784.1 147.8 784 148.3 784.1 148.8 785.6 149.3 787.1 149.8 789.9 150.3 795.8 150.8 801.6 151.3 806.7 151.8 804 152.3 800.4 152.8 799 153.3 809.2 153.8 819.4 154.3 829.7 154.8 839.9 155.3 837.8 155.8 827.6 156.3 817.4 156.8 807.2 157.3 803.8 157.8 804.1 158.3 804.3 158.8 807.9 159.3 812 159.8 816.2 160.3 814.2 160.8 810.2 161.3 806.2 161.8 805.2 162.3 804.1 162.8 802.2 163.3 806.4 163.8 810.7 164.3 812.4 164.8 804.6 165.3 796.7 165.8 791 166.3 788.6 166.8 786.2 167.3 786.5 167.8 788.5 168.3 790.5 168.8 789.4 169.3 786.6 169.8 783.7 170.3 781.9 170.8 780.6 171.3 779.3 171.8 779.3 172.3 781.7 172.8 783.7 173.3 785.7 173.8 782.3 174.3 776.3 174.8 770.3 175.3 764.6 175.8 762.2 176.3 759.8 176.8 762 177.3 767.7 177.8 773.7 178.3 764.9 178.8 756 179.3 750 179.8 748.6 180.3 747.3 180.8 747.1 181.3 749.3 181.8 751.5 182.3 753.3 182.8 749.6 183.3 745.8 183.8 742 184.3 740 184.8 738.4 185.3 736.6 185.8 736.9 186.3 739.5 186.8 742.1 187.3 744.6 187.8 739.6 188.3 734.4 188.8 729.2 189.3 725.6 189.8 724 190.3 722.5 190.8 722 191.3 723.7 191.8 725.5 192.3 727.8 192.8 724.3 193.3 720.8 193.8 717.4 194.3 716.1 194.8 715.6 195.3 715.1 195.8 717.9 196.3 721 196.8 724.1 197.3 722.7 197.8 720.9 198.3 719.1 198.8 718.6 199.3 718.3 199.8 718.4 200.3 720.2 200.8 722 201.3 723 201.8 722.2 202.3 721.5 202.8 721 203.3 720.7 203.8 720.5 204.3 720.2 204.8 721.5 205.3 723.6 205.8 725.6 206.3 727.6 206.8 726.8 207.3 724.5 207.8 722.2 208.3 719.9 208.8 719.1 209.3 719 209.8 719 210.3 718.9 210.8 725.6 211.3 733.1 211.8 740.8 212.3 748.6 212.8 742.8 213.3 736.1 213.8 729.4 214.3 722.6 214.8 722.5 215.3 722.7 215.8 723 216.3 727.7 216.8 734.8 217.3 741.9 217.8 746.9 218.3 741.4 218.8 736.1 219.3 730.7 219.8 729.3 220.3 729.8 220.8 730.4 221.3 737.3 221.8 750.3 222.3 763.3 222.8 772.5 223.3 760.9 223.8 749.3 224.3 737.7 224.8 735.3 225.3 734.9 225.8 736 226.3 745 226.8 754 227.3 755.9 227.8 748.7 228.3 741.5 228.8 739 229.3 738.8 229.8 738.6 230.3 740.9 230.8 746.4 231.3 751.8 231.8 757.1 232.3 751.6 232.8 746 233.3 740.2 233.8 737.3 234.3 736.5 234.8 749.8 235.3 765 235.8 780.3 236.3 795.6 236.8 792.5 237.3 777.3 237.8 762 238.3 746.7 238.8 731.5 239.3 730.5 239.8 729.8 240.3 732.3 240.8 739.4 241.3 746.6 241.8 753.7 242.3 755.2 242.8 748.6 243.3 742.4 243.8 736.4 244.3 733 244.8 733.3 245.3 733.6 245.8 735.9 246.3 742.3 246.8 748.7 247.3 754.6 247.8 748.8 248.3 743 248.8 737.2 249.3 735.8 249.8 736 250.3 736.1 250.8 743.7 251.3 752.5 251.8 761.2 252.3 770 252.8 768.2 253.3 759.5 253.8 750.7 254.3 742 254.8 737.3 255.3 736.7 255.8 743.1 256.3 750.2 256.8 757.3 257.3 752.3 257.8 746.5 258.3 740.8 258.8 740.3 259.3 739.9 259.8 740.2 260.3 749.7 260.8 759.1 261.3 768.5 261.8 759.7 262.3 750.6 262.8 741.5 263.3 740 263.8 739.5 264.3 738.9 264.8 742.3 265.3 747.6 265.8 752.9 266.3 755.5 266.8 749.8 267.3 744.1 267.8 738.4 268.3 736.8 268.8 736.1 269.3 735.4 269.8 735.1 270.3 737.3 270.8 739.6 271.3 741.8 271.8 743.2 272.3 741.6 272.8 740.1 273.3 738.5 273.8 737.3 274.3 737 274.8 736.7 275.3 736.9 275.8 743.8 276.3 750.8 276.8 757.7 277.3 755.6 277.8 748.4 278.3 741.3 278.8 735.5 279.3 735 279.8 734.5 280.3 734 280.8 736.7 281.3 740.5 281.8 744.2 282.3 747.7 282.8 743.3 283.3 739 283.8 734.7 284.3 731.8 284.8 733.1 285.3 740.2 285.8 747.2 286.3 754.2 286.8 761.3 287.3 759.9 287.8 752.8 288.3 745.8 288.8 738.8 289.3 736 289.8 735.8 290.3 741.5 290.8 748.4 291.3 755.3 291.8 749.5 292.3 743.2 292.8 737.4 293.3 736.8 293.8 736.3 294.3 736.6 294.8 742.5 295.3 748.4 295.8 754.3 296.3 746.6 296.8 738.9 297.3 731.2 297.8 729.6 298.3 729.1 298.8 729.2 299.3 738.4 299.8 747.6 300.3 755.1 300.8 746.1 301.3 737.2 301.8 729.3 302.3 728.4 302.8 727.6 303.3 726.8 303.8 731.3 304.3 738.8 304.8 746.3 305.3 753.9 305.8 748.2 306.3 741.5 306.8 734.7 307.3 729.7 307.8 730.1 308.3 730.6 308.8 731 309.3 736.5 309.8 743.6 310.3 750.6 310.8 757.7 311.3 756.3 311.8 749.2 312.3 742.1 312.8 735.1 313.3 731.6 313.8 732.5 314.3 736.3 314.8 740 315.3 742.8 315.8 740.9 316.3 739 316.8 737.4 317.3 737.9 317.8 738.3 318.3 740 318.8 744.2 319.3 748.4 319.8 749.4 320.3 745.7 320.8 741.9 321.3 739.6 321.8 739.1 322.3 738.5 322.8 739.2 323.3 744.8 323.8 750.3 324.3 755.9 324.8 752.3 325.3 745.7 325.8 739.1 326.3 734.3 326.8 733.7 327.3 733.3 327.8 736.1 328.3 746.2 328.8 756.3 329.3 766.4 329.8 776.5 330.3 774.5 330.8 764.4 331.3 754.3 331.8 744.2 332.3 737.5 332.8 739.1 333.3 743.1 333.8 747.2 334.3 747.2 334.8 744.3 335.3 741.4 335.8 740.5 336.3 740.2 336.8 739.9 337.3 741.2 337.8 748.7 338.3 756.1 338.8 763.5 339.3 765.3 339.8 759.2 340.3 753.6 340.8 765.3 341.3 777 341.8 788.8 342.3 786.4 342.8 774.7 343.3 763 343.8 755.2 344.3 760.2 344.8 762 345.3 756.6 345.8 751.2 346.3 745.9 346.8 743.4 347.3 743.2 347.8 743.1 348.3 744.5 348.8 751.6 349.3 758.7 349.8 765.8 350.3 764.5 350.8 758.8 351.3 753 351.8 747.9 352.3 747.8 352.8 747.6 353.3 747.6 353.8 752 354.3 760.2 354.8 768.5 355.3 776.8 355.8 774.1 356.3 766.7 356.8 759.4 357.3 752.1 357.8 752.1 358.3 758.6 358.8 765 359.3 771.5 359.8 777.9 360.3 776.6 360.8 770.2 361.3 763.7 361.8 757.3 362.3 757.2 362.8 757.1 363.3 757 363.8 759.2 364.3 763.7 364.8 768.3 365.3 772.8 365.8 773.2 366.3 768.8 366.8 764.4 367.3 760 367.8 757.7 368.3 757.6 368.8 757.6 369.3 764 369.8 772.3 370.3 780.5 370.8 774 371.3 766.3 371.8 758.9 372.3 758.6 372.8 758.3 373.3 758.4 373.8 762.8 374.3 767.2 374.8 771.6 375.3 770.2 375.8 767.1 376.3 764.1 376.8 763 377.3 763.6 377.8 764.1 378.3 769.3 378.8 777.9 379.3 786.6 379.8 788.6 380.3 781.1 380.8 773.7 381.3 768 381.8 768.3 382.3 768.5 382.8 770 383.3 774.8 383.8 779.5 384.3 784.3 384.8 793.9 385.3 803.5 385.8 813.1 386.3 811.2 386.8 801.6 387.3 792 387.8 782.4 388.3 777.4 388.8 777 389.3 771 389.8 765.1 390.3 761.1 390.8 759.2 391.3 758.1 391.8 757.6 392.3 761 392.8 764.9 393.3 768.7 393.8 772.3 394.3 768 394.8 763.6 395.3 759.3 395.8 755.7 396.3 755.3 396.8 754.9 397.3 755.5 397.8 762.4 398.3 769.7 398.8 777.2 399.3 771.6 399.8 764.8 400.3 758 400.8 755.8 401.3 755.9 401.8 755.9 402.3 756.1 402.8 758.3 403.3 760.6 403.8 762.8 404.3 764.1 404.8 761.8 405.3 759.9 405.8 758.3 406.3 757.7 406.8 758.5 407.3 759.4 407.8 760.2 408.3 766 408.8 772.7 409.3 779.3 409.8 784.9 410.3 780.2 410.8 775.6 411.3 771 411.8 768.3 412.3 768.7 412.8 768.8 413.3 768.9 413.8 773.7 414.3 781.2 414.8 788.7 415.3 796.2 415.8 794.6 416.3 789.3 416.8 783.9 417.3 778.6 417.8 777 418.3 776.7 418.8 776.3 419.3 778 419.8 784.9 420.3 791.9 420.8 798.9 421.3 797.8 421.8 790.8 422.3 783.9 422.8 787.3 423.3 786 423.8 779.6 424.3 776.5 424.8 782.9 425.3 790.7 425.8 798.6 426.3 797.9 426.8 790.5 427.3 783.1 427.8 777.9 428.3 777.9 428.8 778 429.3 778 429.8 784.8 430.3 793.2 430.8 801.8 431.3 808.5 431.8 801.3 432.3 794 432.8 786.8 433.3 782.6 433.8 782.8 434.3 783 434.8 784.3 435.3 792.1 435.8 799.9 436.3 807.7 436.8 806.1 437.3 800.5 437.8 794.9 438.3 790.7 438.8 790.8 439.3 790 439.8 789.2 440.3 789.7 440.8 791.1 441.3 792.5 441.8 793.9 442.3 791.5 442.8 788 443.3 784.5 443.8 781 444.3 780 444.8 779.2 445.3 778.4 445.8 777.6 446.3 776.8 446.8 777 447.3 780 447.8 783.6 448.3 787.6 448.8 791.7 449.3 795.8 449.8 798.2 450.3 795.4 450.8 793.2 451.3 799.7 451.8 806.1 452.3 804.8 452.8 798.4 453.3 791.9 453.8 785.5 454.3 781.9 454.8 782.5 455.3 785 455.8 787.5 456.3 789.8 456.8 792 457.3 791 457.8 789.7 458.3 788.4 458.8 787.1 459.3 786.6 459.8 786.5 460.3 786.4 460.8 786.3 461.3 786.2 461.8 787.5 462.3 789.2 462.8 790.9 463.3 792.7 463.8 794.4 464.3 794.5 464.8 793.3 465.3 791.5 465.8 789.2 466.3 787 466.8 785.2 467.3 784.3 467.8 783.4 468.3 782.5 468.8 782.4 469.3 786.2 469.8 790 470.3 793.8 470.8 797.6 471.3 794.6 471.8 789.6 472.3 784.8 472.8 780 473.3 776.4 473.8 776 474.3 776.2 474.8 788 475.3 799.8 475.8 811.7 476.3 823.5 476.8 816.4 477.3 804.6 477.8 792.7 478.3 780.9 478.8 776.8 479.3 775.7 479.8 774.6 480.3 773.9 480.8 773.7 481.3 773.4 481.8 773.4 482.3 773.5 482.8 773.8 483.3 775.7 483.8 777.5 484.3 779.4 484.8 781.3 485.3 783.1 485.8 783.9 486.3 781.9 486.8 779.9 487.3 777.8 487.8 775.8 488.3 773.8 488.8 772.7 489.3 773 489.8 773.4 490.3 773.9 490.8 775.4 491.3 778.1 491.8 780.9 492.3 783.7 492.8 785.8 493.3 784.9 493.8 783.9 494.3 782.9 494.8 781.9 495.3 782.4 495.8 782.9 496.3 783.4 496.8 783.9 497.3 784.4 497.8 786.3 498.3 789.8 498.8 793.3 499.3 796.7 499.8 800.2 500.3 803.7 500.8 803 501.3 800.6 501.8 798.1 502.3 795.7 502.8 793.3 503.3 790.9 503.8 791.2 504.3 791.6 504.8 792.1 505.3 792.7 505.8 793.9 506.3 798 506.8 802 507.3 806.1 507.8 810.2 508.3 813.7 508.8 811.8 509.3 809.9 509.8 808 510.3 806.1 510.8 804.2 511.3 804.6 511.8 805.1 512.3 805.5 512.8 806 513.3 807.3 513.8 809.7 514.3 812 514.8 814.3 515.3 816.7 515.8 817.5 516.3 817.5 516.8 817.5 517.3 817.5 517.8 817.5 518.3 818 518.8 818.5 519.3 819.1 519.8 819.7 520.3 821.8 520.8 824.4 521.3 826.9 521.8 829.5 522.3 829.9 522.8 828.8 523.3 827.7 523.8 826.7 524.3 826.1 524.8 826.7 525.3 827.3 525.8 828 526.3 829.6 526.8 838.6 527.3 847.5 527.8 856.5 528.3 865.4 528.8 863.2 529.3 855.7 529.8 848.3 530.3 840.8 530.8 835.4 531.3 836.4 531.8 837.3 532.3 838.3 532.8 839.2 533.3 841.1 533.8 844.9 534.3 848.7 534.8 852.6 535.3 856.4 535.8 859.8 536.3 858.9 536.8 857.9 537.3 856.8 537.8 855.5 538.3 854.2 538.8 854.4 539.3 854.9 539.8 855.3 540.3 855.8 540.8 856.3 541.3 858.7 541.8 862.3 542.3 865.9 542.8 869.5 543.3 873.2 543.8 876.5 544.3 874.2 544.8 872 545.3 869.8 545.8 867.6 546.3 865.4 546.8 864.6 547.3 865.2 547.8 865.8 548.3 866.4 548.8 867.2 549.3 868.5 549.8 873.3 550.3 879.8 550.8 886.2 551.3 892.7 551.8 888.8 552.3 882.4 552.8 878.8 553.3 878.6 553.8 878.5 554.3 878.4 554.8 878.8 555.3 879.4 555.8 879.8 556.3 879.6 556.8 880.5 557.3 882.5 557.8 884.5 558.3 886.5 558.8 887.9 559.3 885.8 559.8 883.7 560.3 881.7 560.8 886.5 561.3 893.3 561.8 900 562.3 906.8 562.8 903.2 563.3 910.7 563.8 895.7 564.3 880.8 564.8 878.8 565.3 878.1 565.8 877.8 566.3 887.2 566.8 896.5 567.3 905.9 567.8 897.4 568.3 889 568.8 880.6 569.3 880.1 569.8 880.3 570.3 890.5 570.8 900.6 571.3 910.8 571.8 920.9 572.3 918.9 572.8 908.8 573.3 898.6 573.8 888.4 574.3 884.2 574.8 885.2 575.3 893.9 575.8 902.4 576.3 901.6 576.8 893.4 577.3 885.4 577.8 885.5 578.3 885.5 578.8 899.3 579.3 914.5 579.8 908 580.3 895.6 580.8 887 581.3 892.7 581.8 896.7 582.3 892.8 582.8 888 583.3 882.2 583.8 874.4 584.3 863 584.8 845.6 585.3 841.3 585.8 845.6 586.3 863 586.8 874.4 587.3 882.2 587.8 888 588.3 892.1 588.8 888.6 589.3 888.5 589.8 886.3 590.3 877.7 590.8 865.2 591.3 846 591.8 841.3 592.3 846 592.8 865.2 593.3 877.7 593.8 886.3 594.3 892.7 594.8 897.9 595.3 902.2 595.8 905.9 596.3 909.2 596.8 906.7 597.3 900.1 597.8 900.1 598.3 900 598.8 904.6 599.3 913.1 599.8 921.3 600.3 916.9 600.8 908.6 601.3 900.2 601.8 899.5 602.3 898.9 602.8 900.2 603.3 907.5 603.8 914.7 604.3 917.2 604.8 909.3 605.3 901.5 605.8 896.6 606.3 896 606.8 895.4 607.3 901.3 607.8 911.8 608.3 922.2 608.8 921.4 609.3 913.3 609.8 907.3 610.3 915.3 610.8 923.2 611.3 931.2 611.8 929.6 612.3 929.7 612.8 925.8 613.3 914.5 613.8 904.9 614.3 905.4 614.8 905.9 615.3 910.4 615.8 917.1 616.3 923.5 616.8 917.7 617.3 911.7 617.8 907.2 618.3 906.5 618.8 905.8 619.3 911.7 619.8 920.8 620.3 929.9 620.8 922.6 621.3 912.6 621.8 903.2 622.3 902.8 622.8 902.4 623.3 905.9 623.8 912.3 624.3 918.8 624.8 913.6 625.3 909.1 625.8 916.5 626.3 924 626.8 931.4 627.3 929.9 627.8 922.5 628.3 915 628.8 920.1 629.3 915.9 629.8 911.5 630.3 907.1 630.8 905.6 631.3 905.2 631.8 904.7 632.3 907.1 632.8 911.8 633.3 923.2 633.8 934.6 634.3 945.9 634.8 943.7 635.3 932.3 635.8 920.9 636.3 909.5 636.8 910.1 637.3 921.5 637.8 932.5 638.3 920.1 638.8 907.7 639.3 898.8 639.8 898.3 640.3 897.8 640.8 906.7 641.3 918.8 641.8 930.2 642.3 919.7 642.8 914.9 643.3 926.8 643.8 923.5 644.3 920.7 644.8 917.5 645.3 913.9 645.8 909.8 646.3 905.1 646.8 899.3 647.3 892.2 647.8 882.7 648.3 869 648.8 847.8 649.3 842.5 649.8 847.8 650.3 869 650.8 882.7 651.3 892.2 651.8 899.3 652.3 904.6 652.8 909.8 653.3 913.9 653.8 913.4 654.3 908.6 654.8 902.9 655.3 895.8 655.8 886.6 656.3 873.4 656.8 852.8 657.3 842.5 657.8 844.1 658.3 866.3 658.8 881.9 659.3 892.4 659.8 900.3 660.3 904.3 660.8 908 661.3 916 661.8 919.8 662.3 923.2 662.8 919.1 663.3 905.9 663.8 903.4 664.3 903.6 664.8 907.3 665.3 915.7 665.8 924 666.3 916.9 666.8 908.5 667.3 903.5 667.8 903.2 668.3 902.8 668.8 906.4 669.3 912.2 669.8 918 670.3 916.8 670.8 912.6 671.3 908.4 671.8 906.7 672.3 905.8 672.8 906.8 673.3 915.1 673.8 923.4 674.3 923.1 674.8 914.1 675.3 905.1 675.8 903.2 676.3 903.2 676.8 903.3 677.3 910 677.8 917 678.3 924 678.8 918.4 679.3 912.6 679.8 912.3 680.3 919.8 680.8 927.4 681.3 934.9 681.8 933.4 682.3 925.9 682.8 918.3 683.3 910.8 683.8 907.2 684.3 906.4 684.8 910.6 685.3 915.3 685.8 915.4 686.3 911.7 686.8 908.7 687.3 908.9 687.8 909.2 688.3 917.4 688.8 925.8 689.3 924.5 689.8 917.1 690.3 911.4 690.8 911.2 691.3 910.9 691.8 919.4 692.3 928.5 692.8 929.3 693.3 920.3 693.8 911.3 694.3 911 694.8 910.8 695.3 916.9 695.8 929.1 696.3 941.3 696.8 930.8 697.3 917.2 697.8 918.1 698.3 931 698.8 943.9 699.3 956.9 699.8 959.4 700.3 946.5 700.8 933.6 701.3 922.1 701.8 915.7 702.3 913.3 702.8 912.5 703.3 913.5 703.8 916.9 704.3 920.1 704.8 917.5 705.3 914.9 705.8 913.3 706.3 912.4 706.8 920.5 707.3 936.1 707.8 941.3 708.3 926.1 708.8 912.8 709.3 919.2 709.8 929 710.3 925 710.8 920.4 711.3 915.1 711.8 908.7 712.3 900.7 712.8 890.1 713.3 874.7 713.8 851 714.3 845.1 714.8 851 715.3 874.7 715.8 890.1 716.3 900.7 716.8 908.7 717.3 912.8 717.8 912 718.3 917.8 718.8 925.2 719.3 921 719.8 916.1 720.3 910.2 720.8 903.1 721.3 893.9 721.8 881 722.3 861.1 722.8 845.1 723.3 845.1 723.8 865.9 724.3 884 724.8 896 725.3 904.7 725.8 911.5 726.3 917.1 726.8 921.9 727.3 926 727.8 929.7 728.3 918.5 728.8 907.8 729.3 906.9 729.8 906.1 730.3 915.6 730.8 927.7 731.3 931.9 731.8 922.7 732.3 913.4 732.8 912.6 733.3 912.6 733.8 925.3 734.3 946.5 734.8 961.9 735.3 940.1 735.8 918.3 736.3 911.1 736.8 911.3 737.3 916.3 737.8 926.2 738.3 932.4 738.8 923 739.3 913.7 739.8 912.1 740.3 911.4 740.8 919.9 741.3 931.3 741.8 932.3 742.3 922.4 742.8 914.5 743.3 913.8 743.8 913 744.3 915.5 744.8 920.9 745.3 926.3 745.8 925.2 746.3 920.7 746.8 916.2 747.3 915.1 747.8 914.8 748.3 915.5 748.8 924.6 749.3 933.8 749.8 938.3 750.3 928.4 750.8 918.4 751.3 911.9 751.8 910.9 752.3 910 752.8 920.9 753.3 932.7 753.8 937.1 754.3 926.5 754.8 915.9 755.3 912.8 755.8 912.5 756.3 912.2 756.8 922.8 757.3 934.2 757.8 945.5 758.3 935.2 758.8 924.1 759.3 913 759.8 913 760.3 913 760.8 916.8 761.3 922.7 761.8 926.7 762.3 920.8 762.8 914.8 763.3 912.5 763.8 911.9 764.3 914.6 764.8 921.3 765.3 926.9 765.8 921.3 766.3 915.6 766.8 913.6 767.3 913.1 767.8 912.5 768.3 920.6 768.8 932 769.3 943.3 769.8 942.7 770.3 932.2 770.8 921.7 771.3 914.8 771.8 914.1 772.3 913.4 772.8 914.2 773.3 917.4 773.8 920.4 774.3 921.8 774.8 919 775.3 916.3 775.8 913.9 776.3 913.6 776.8 913.3 777.3 914.2 777.8 920.1 778.3 925.9 778.8 930.6 779.3 922.7 779.8 914.8 780.3 906.8 780.8 906.1 781.3 905.7 781.8 907.1 782.3 910.9 782.8 905.5 783.3 898.7 783.8 889 784.3 874.1 784.8 862.2 785.3 862.2 785.8 877.7 786.3 891.3 786.8 900.2 787.3 906.7 787.8 911.8 788.3 909.8 788.8 906.8 789.3 906.1 789.8 906.9 790.3 910.9 790.8 905.4 791.3 898.5 791.8 888.8 792.3 873.6 792.8 861.6 793.3 861.6 793.8 877.3 794.3 891 794.8 900 795.3 906.6 795.8 911.8 796.3 909.8 796.8 908.9 797.3 908.7 797.8 909 798.3 916.5 798.8 924.1 799.3 931.6 799.8 924.7 800.3 917.8 800.8 910.9 801.3 910 801.8 909.3 802.3 909.4 802.8 912.8 803.3 916.1 803.8 917.8 804.3 914.4 804.8 911 805.3 908.5 805.8 908.6 806.3 908.6 806.8 908.6 807.3 912.4 807.8 917.1 808.3 921.9 808.8 926 809.3 922 809.8 917.9 810.3 913.9 810.8 911.4 811.3 911.5 811.8 911.6 812.3 911.8 812.8 919.1 813.3 927.1 813.8 935.2 814.3 939 814.8 930.9 815.3 922.9 815.8 914.9 816.3 911.8 816.8 911.9 817.3 911.9 817.8 922.2 818.3 933.4 818.8 943.1 819.3 932.4 819.8 921.7 820.3 913.1 820.8 912.9 821.3 912.7 821.8 916.7 822.3 923.8 822.8 930.9 823.3 926.5 823.8 919.3 824.3 912.4 824.8 911.9 825.3 911.4 825.8 914.1 826.3 922 826.8 929.8 827.3 928.9 827.8 921.1 828.3 913.4 828.8 911.2 829.3 910.9 829.8 910.7 830.3 917.4 830.8 928.3 831.3 939.3 831.8 943.8 832.3 934.3 832.8 924.8 833.3 915.3 833.8 915 834.3 914.8 834.8 919.5 835.3 936.7 835.8 953.9 836.3 957 836.8 939.6 837.3 922.1 837.8 913.7 838.3 913.2 838.8 912.6 839.3 917.7 839.8 924.6 840.3 931.5 840.8 926.8 841.3 919.6 841.8 912.4 842.3 911.5 842.8 911.5 843.3 912.1 843.8 916.9 844.3 921.6 844.8 924.2 845.3 920.1 845.8 916 846.3 913.1 846.8 912.7 847.3 912.2 847.8 913.2 848.3 920.7 848.8 928.2 849.3 935.8 849.8 931.2 850.3 923.9 850.8 916.6 851.3 912.6 851.8 912.4 852.3 912.2 852.8 912 853.3 919.2 853.8 926.9 854.3 934.6 854.8 939.6 855.3 933.3 855.8 927 856.3 920.7 856.8 917.2 857.3 917.1 857.8 917 858.3 916.9 858.8 921.5 859.3 927.7 859.8 934 860.3 940.3 860.8 936.2 861.3 929.9 861.8 923.5 862.3 917.2 862.8 916.3 863.3 916 863.8 917.5 864.3 929 864.8 940.5 865.3 946.4 865.8 935.5 866.3 924.5 866.8 917.3 867.3 917.4 867.8 917.4 868.3 917.5 868.8 925.7 869.3 935 869.8 944.4 870.3 950.4 870.8 941.9 871.3 933.4 871.8 924.8 872.3 920.4 872.8 920.2 873.3 920 873.8 921.8 874.3 924.2 874.8 926.6 875.3 923.7 875.8 919.9 876.3 916.1 876.8 921.8 877.3 932.5 877.8 943.3 878.3 954 878.8 960.5 879.3 949.7 879.8 947.7 880.3 954 880.8 944.3 881.3 934.8 881.8 925.5 882.3 918.1 882.8 917.8 883.3 917.4 883.8 917.7 884.3 925.1 884.8 932.6 885.3 940.1 885.8 937.5 886.3 931.1 886.8 924.7 887.3 920.7 887.8 920.6 888.3 920.4 888.8 926 889.3 935.1 889.8 944.1 890.3 940.4 890.8 930.9 891.3 921.5 891.8 919.1 892.3 919 892.8 918.8 893.3 918.6 893.8 926.4 894.3 934.9 894.8 943.3 895.3 951.8 895.8 946.9 896.3 939.7 896.8 932.6 897.3 925.5 897.8 923.8 898.3 923.6 898.8 923.3 899.3 926.5 899.8 930.8 900.3 935.2 900.8 934.6 901.3 929.8 901.8 925 902.3 921.5 902.8 921.3 903.3 927.4 903.8 935 904.3 942.6 904.8 950.2 905.3 948.7 905.8 941.1 906.3 933.5 906.8 927 907.3 924.2 907.8 923.8 908.3 923.4 908.8 929.7 909.3 938 909.8 946.3 910.3 937.7 910.8 928.6 911.3 921.1 911.8 921 912.3 920.9 912.8 922.5 913.3 928 913.8 933.4 914.3 936 914.8 931.4 915.3 926.8 915.8 923.3 916.3 923 916.8 922.6 917.3 923.9 917.8 931.2 918.3 938.5 918.8 945.9 919.3 939.4 919.8 932.7 920.3 925.9 920.8 924.1 921.3 923.8 921.8 923.5 922.3 923.8 922.8 926.6 923.3 929.3 923.8 932 924.3 932.3 924.8 929.8 925.3 927.4 925.8 924.9 926.3 932.8 926.8 941.6 927.3 950.3 927.8 959.1 928.3 957.3 928.8 948.6 929.3 947.7 929.8 942.7 930.3 936.7 930.8 930.6 931.3 927.4 931.8 927.9 932.3 928.5 932.8 936.3 933.3 948 933.8 959.6 934.3 954.9 934.8 944.2 935.3 933.4 935.8 931.1 936.3 930.9 936.8 930.7 937.3 936 937.8 941.8 938.3 947.6 938.8 945.8 939.3 942.7 939.8 939.6 940.3 939 940.8 939 941.3 939 941.8 939 942.3 943.1 942.8 947.4 943.3 951.7 943.8 956.1 944.3 952.1 944.8 947 945.3 941.9 945.8 936.9 946.3 935.9 946.8 935.7 947.3 935.6 947.8 935.5 948.3 935.3 948.8 937 949.3 940 949.8 943 950.3 946 950.8 949 951.3 952 951.8 953.5 952.3 962.7 952.8 971.8 953.3 970 953.8 960.8 954.3 951.6 954.8 942.4 955.3 934.8 955.8 934.6 956.3 936.2 956.8 941 957.3 945.8 957.8 950.7 958.3 955 958.8 950.5 959.3 946 959.8 941.5 960.3 937 960.8 935.6 961.3 935.2 961.8 934.8 962.3 934.4 962.8 934.1 963.3 936.1 963.8 938 964.3 940 964.8 941.9 965.3 943.8 965.8 942.9 966.3 941.9 966.8 940.9 967.3 940 967.8 939 968.3 938.7 968.8 938.4 969.3 938.2 969.8 937.9 970.3 937.7 970.8 937.7 971.3 938.9 971.8 940.1 972.3 941.3 972.8 942.5 973.3 943.8 973.8 944.7 974.3 942.8 974.8 941 975.3 945.1 975.8 956 976.3 966.9 976.8 977.8 977.3 975.6 977.8 964.7 978.3 953.8 978.8 942.9 979.3 936.3 979.8 939.2 980.3 942.1 980.8 945 981.3 943.5 981.8 941 982.3 938.5 982.8 936 983.3 934.7 983.8 934.3 984.3 934.1 984.8 933.9 985.3 936.1 985.8 940.4 986.3 944.7 986.8 949 987.3 952 987.8 949.5 988.3 947 988.8 944.5 989.3 942 989.8 941.6 990.3 941.5 990.8 941.4 991.3 941.3 991.8 945.1 992.3 949.9 992.8 954.9 993.3 960.1 993.8 960.6 994.3 956.4 994.8 952.1 995.3 947.9 995.8 944.4 996.3 944.8 996.8 945.1 997.3 950 997.8 956.5 998.3 963 998.8 969.4 999.3 972.4 999.8 981 1000.3 978 1000.8 971.1 1001.3 963.5 1001.8 955.4 1002.3 950.5 1002.8 950 1003.3 949.5 1003.8 949 1004.3 948.6 1004.8 950.5 1005.3 959.1 1005.8 967.7 1006.3 976.3 1006.8 984.9 1007.3 993.5 1007.8 988.2 1008.3 980.4 1008.8 972.7 1009.3 964.9 1009.8 957.1 1010.3 952.2 1010.8 952.5 1011.3 952.9 1011.8 953.2 1012.3 953.5 1012.8 954.2 1013.3 957.8 1013.8 961.4 1014.3 965.1 1014.8 968.7 1015.3 972.3 1015.8 972.9 1016.3 971.1 1016.8 969 1017.3 966.7 1017.8 964.4 1018.3 962.2 1018.8 961.9 1019.3 961.6 1019.8 961.3 1020.3 961.1 1020.8 964 1021.3 966.9 1021.8 972.3 1022.3 979 1022.8 985.8 1023.3 984.4 1023.8 977.7 1024.3 970.9 1024.8 964.2 1025.3 961.4 1025.8 961.4 1026.3 961.5 1026.8 961.5 1027.3 963.5 1027.8 965.7 1028.3 967.9 1028.8 970.1 1029.3 972.3 1029.8 971.5 1030.3 970.1 1030.8 968.6 1031.3 967 1031.8 965.5 1032.3 964.9 1032.8 964.3 1033.3 963.7 1033.8 964.3 1034.3 970.8 1034.8 977.2 1035.3 983.7 1035.8 988.8 1036.3 981.6 1036.8 974.5 1037.3 967.4 1037.8 960.4 1038.3 959.6 1038.8 958.8 1039.3 958 1039.8 957.3 1040.3 964 1040.8 970.8 1041.3 980.1 1041.8 993.4 1042.3 1006.8 1042.8 1009.4 1043.3 996.1 1043.8 982.7 1044.3 969.4 1044.8 956.1 1045.3 954.5 1045.8 954 1046.3 953.6 1046.8 953.9 1047.3 956.8 1047.8 959.9 1048.3 963.3 1048.8 966.7 1049.3 970.1 1049.8 969.5 1050.3 967 1050.8 964.6 1051.3 962.1 1051.8 959.6 1052.3 957.5 1052.8 957.1 1053.3 956.8 1053.8 956.4 1054.3 956 1054.8 957.6 1055.3 959.3 1055.8 961 1056.3 962.7 1056.8 963.2 1057.3 961.8 1057.8 960.5 1058.3 959.1 1058.8 957.8 1059.3 957.4 1059.8 957.3 1060.3 957.2 1060.8 957.1 1061.3 960.9 1061.8 966.2 1062.3 971.5 1062.8 976.9 1063.3 979.5 1063.8 974.6 1064.3 969.6 1064.8 964.7 1065.3 959.8 1065.8 959.1 1066.3 959.3 1066.8 959.5 1067.3 959.7 1067.8 965.1 1068.3 970.7 1068.8 976.4 1069.3 982.1 1069.8 978.8 1070.3 974.3 1070.8 969.7 1071.3 965.2 1071.8 964.3 1072.3 964.4 1072.8 964.4 1073.3 964.5 1073.8 965.3 1074.3 967 1074.8 968.6 1075.3 970.2 1075.8 971.8 1076.3 970.1 1076.8 968.2 1077.3 966.2 1077.8 969.4 1078.3 975.9 1078.8 982.3 1079.3 981 1079.8 974.6 1080.3 968.1 1080.8 965.8 1081.3 968.2 1081.8 970.7 1082.3 973.2 1082.8 975.6 1083.3 975.2 1083.8 974.1 1084.3 973.4 1084.8 972.6 1085.3 971.9 1085.8 972.3 1086.3 972.9 1086.8 973.5 1087.3 974.1 1087.8 978.5 1088.3 984.4 1088.8 990.2 1089.3 996.1 1089.8 998.9 1090.3 995.3 1090.8 991.8 1091.3 988.2 1091.8 984.6 1092.3 984.8 1092.8 985.1 1093.3 985.1 1093.8 985.2 1094.3 985.3 1094.8 988 1095.3 991.1 1095.8 1001.6 1096.3 1014 1096.8 1026.5 1097.3 1039 1097.8 1026.5 1098.3 1014 1098.8 1001.6 1099.3 990.4 1099.8 988.2 1100.3 988.3 1100.8 988.4 1101.3 988.5 1101.8 989.1 1102.3 994.6 1102.8 1000 1103.3 1005.5 1103.8 1010.9 1104.3 1007.1 1104.8 1002 1105.3 997 1105.8 991.9 1106.3 1000.4 1106.8 1009.9 1107.3 1019.4 1107.8 1028.9 1108.3 1019.4 1108.8 1009.9 1109.3 1001.5 1109.8 1006.7 1110.3 1011.9 1110.8 1013.7 1111.3 1008.1 1111.8 1002.5 1112.3 996.8 1112.8 991 1113.3 988 1113.8 987.9 1114.3 987.8 1114.8 990 1115.3 996.4 1115.8 1002.9 1116.3 1009.4 1116.8 1008.1 1117.3 1001.6 1117.8 998.6 1118.3 996.3 1118.8 994.1 1119.3 991.8 1119.8 990.5 1120.3 989.6 1120.8 988.6 1121.3 987.6 1121.8 994.2 1122.3 1001.7 1122.8 1009.3 1123.3 1016.4 1123.8 1007.8 1124.3 999.2 1124.8 990.6 1125.3 983.1 1125.8 982.2 1126.3 981.4 1126.8 980.5 1127.3 979.6 1127.8 979.5 1128.3 981.6 1128.8 983.7 1129.3 985.8 1129.8 988.1 1130.3 990.3 1130.8 988.5 1131.3 986.6 1131.8 984.8 1132.3 985.5 1132.8 993.3 1133.3 1001.1 1133.8 1008.8 1134.3 1007.3 1134.8 999.5 1135.3 991.8 1135.8 984 1136.3 983.5 1136.8 985.5 1137.3 987.5 1137.8 989.8 1138.3 989.6 1138.8 987.5 1139.3 985.3 1139.8 985 1140.3 992.7 1140.8 1000.4 1141.3 1008.1 1141.8 1012.8 1142.3 1005 1142.8 997.3 1143.3 989.6 1143.8 995.9 1144.3 1003 1144.8 1010.1 1145.3 1003.7 1145.8 997.2 1146.3 990.7 1146.8 984.2 1147.3 989.8 1147.8 1000.6 1148.3 1011.3 1148.8 1022 1149.3 1032.7 1149.8 1022 1150.3 1011.3 1150.8 1000.6 1151.3 994.9 1151.8 992.8 1152.3 990.7 1152.8 988.8 1153.3 988.9 1153.8 989.1 1154.3 989.7 1154.8 990.2 1155.3 992.4 1155.8 995.7 1156.3 998.9 1156.8 1002.2 1157.3 1005.4 1157.8 1011.7 1158.3 1010.4 1158.8 1004 1159.3 1000.1 1159.8 998.6 1160.3 999.1 1160.8 999.7 1161.3 1000.2 1161.8 1001.2 1162.3 1009.1 1162.8 1017 1163.3 1024.9 1163.8 1032.8 1164.3 1036.6 1164.8 1034.1 1165.3 1031.3 1165.8 1028.2 1166.3 1024.6 1166.8 1014.8 1167.3 1009.2 1167.8 1009.5 1168.3 1002 1168.8 991.3 1169.3 974.7 1169.8 961.4 1170.3 961.4 1170.8 978.7 1171.3 993.8 1171.8 1003.8 1172.3 1011 1172.8 1016.7 1173.3 1020.2 1173.8 1020.3 1174.3 1020.8 1174.8 1021.4 1175.3 1022.8 1175.8 1015.2 1176.3 1005.1 1176.8 990.4 1177.3 967.7 1177.8 962.1 1178.3 967.7 1178.8 990.4 1179.3 1005.1 1179.8 1015.2 1180.3 1022.8 1180.8 1028.9 1181.3 1026.6 1181.8 1026 1182.3 1025.3 1182.8 1035.4 1183.3 1047.5 1183.8 1050.4 1184.3 1041.1 1184.8 1032 1185.3 1030.9 1185.8 1029.9 1186.3 1038.4 1186.8 1048.4 1187.3 1046.9 1187.8 1036.6 1188.3 1029 1188.8 1028.4 1189.3 1027.9 1189.8 1036.2 1190.3 1048.8 1190.8 1061.4 1191.3 1050.2 1191.8 1036.6 1192.3 1024.9 1192.8 1024.2 1193.3 1023.5 1193.8 1030.5 1194.3 1043.4 1194.8 1056.2 1195.3 1049.8 1195.8 1039.8 1196.3 1030.8 1196.8 1029.8 1197.3 1028.9 1197.8 1034.3 1198.3 1041.3 1198.8 1042.9 1199.3 1034 1199.8 1025.1 1200.3 1023.5 1200.8 1022.8 1201.3 1022.5 1201.8 1033.4 1202.3 1044.3 1202.8 1054.8 1203.3 1044.9 1203.8 1034.9 1204.3 1025 1204.8 1024.3 1205.3 1023.8 1205.8 1023.6 1206.3 1028.7 1206.8 1033.7 1207.3 1038.7 1207.8 1034.5 1208.3 1029.6 1208.8 1024.6 1209.3 1022.9 1209.8 1022 1210.3 1027.6 1210.8 1042 1211.3 1056.3 1211.8 1045.3 1212.3 1031.6 1212.8 1022.7 1213.3 1021.5 1213.8 1021.6 1214.3 1024.6 1214.8 1026.9 1215.3 1021.8 1215.8 1016.7 1216.3 1015.6 1216.8 1014.9 1217.3 1021.5 1217.8 1030.1 1218.3 1030.3 1218.8 1024 1219.3 1019.5 1219.8 1018.7 1220.3 1017.8 1220.8 1021.4 1221.3 1027.1 1221.8 1032.8 1222.3 1029 1222.8 1023.3 1223.3 1017.7 1223.8 1016.6 1224.3 1015.5 1224.8 1021.3 1225.3 1027.4 1225.8 1024.9 1226.3 1019.7 1226.8 1017.2 1227.3 1016.4 1227.8 1015.5 1228.3 1020.8 1228.8 1027 1229.3 1033.2 1229.8 1027.2 1230.3 1021 1230.8 1015.3 1231.3 1014.2 1231.8 1013.2 1232.3 1023.4 1232.8 1034.1 1233.3 1037 1233.8 1049.7 1234.3 1062.4 1234.8 1064.9 1235.3 1052.2 1235.8 1039.5 1236.3 1035.8 1236.8 1045.1 1237.3 1034.6 1237.8 1024 1238.3 1017.2 1238.8 1016.2 1239.3 1018.1 1239.8 1027.9 1240.3 1036.9 1240.8 1029.1 1241.3 1021.3 1241.8 1019.3 1242.3 1018.7 1242.8 1028.4 1243.3 1043.6 1243.8 1047 1244.3 1030.4 1244.8 1015.3 1245.3 1014.8 1245.8 1014.3 1246.3 1014.8 1246.8 1020.5 1247.3 1026.3 1247.8 1031.8 1248.3 1028.1 1248.8 1024.4 1249.3 1020.8 1249.8 1020 1250.3 1019.4 1250.8 1032.2 1251.3 1057 1251.8 1081.8 1252.3 1058.8 1252.8 1035.6 1253.3 1023.1 1253.8 1022.7 1254.3 1022.7 1254.8 1031.3 1255.3 1039.9 1255.8 1039.8 1256.3 1030.2 1256.8 1020.7 1257.3 1019.9 1257.8 1020 1258.3 1021.7 1258.8 1030.1 1259.3 1038.5 1259.8 1041.9 1260.3 1033.7 1260.8 1025.5 1261.3 1020.6 1261.8 1020.4 1262.3 1020.1 1262.8 1026.3 1263.3 1034.9 1263.8 1043.6 1264.3 1039.6 1264.8 1034.7 1265.3 1030.3 1265.8 1030.5 1266.3 1030.7 1266.8 1038.7 1267.3 1049.1 1267.8 1059.4 1268.3 1069.7 1268.8 1067.7 1269.3 1057.3 1269.8 1047 1270.3 1036.7 1270.8 1034.1 1271.3 1043.6 1271.8 1054.7 1272.3 1064.7 1272.8 1059.1 1273.3 1047.5 1273.8 1035.8 1274.3 1030.7 1274.8 1030.2 1275.3 1029.8 1275.8 1035.6 1276.3 1046.5 1276.8 1057.4 1277.3 1061.4 1277.8 1050.9 1278.3 1040.4 1278.8 1030.9 1279.3 1030.1 1279.8 1029.3 1280.3 1029.2 1280.8 1032.3 1281.3 1035.4 1281.8 1038 1282.3 1035.8 1282.8 1033.7 1283.3 1032.1 1283.8 1031.3 1284.3 1030.5 1284.8 1042.9 1285.3 1057.4 1285.8 1052.8 1286.3 1036.9 1286.8 1026.9 1287.3 1026.7 1287.8 1026.4 1288.3 1032.3 1288.8 1039.4 1289.3 1045 1289.8 1041.4 1290.3 1037.7 1290.8 1035.5 1291.3 1035 1291.8 1035.1 1292.3 1042.9 1292.8 1050.7 1293.3 1058.5 1293.8 1061.9 1294.3 1055.4 1294.8 1047.6 1295.3 1039.8 1295.8 1037 1296.3 1040.4 1296.8 1037.1 1297.3 1030.2 1297.8 1021.3 1298.3 1009.2 1298.8 990.7 1299.3 969.7 1299.8 969.7 1300.3 985.8 1300.8 1006.2 1301.3 1019.2 1301.8 1028.6 1302.3 1035.8 1302.8 1034.1 1303.3 1034.2 1303.8 1037.3 1304.3 1043.5 1304.8 1037.1 1305.3 1029.2 1305.8 1018.9 1306.3 1004.2 1306.8 981.1 1307.3 969.7 1307.8 971.4 1308.3 996.2 1308.8 1013.7 1309.3 1025.4 1309.8 1034.2 1310.3 1041.1 1310.8 1041 1311.3 1040.6 1311.8 1040 1312.3 1042.5 1312.8 1050.7 1313.3 1059 1313.8 1064.9 1314.3 1056.1 1314.8 1047.3 1315.3 1038.5 1315.8 1036.5 1316.3 1035.2 1316.8 1033.8 1317.3 1042.2 1317.8 1052.1 1318.3 1061.9 1318.8 1058.5 1319.3 1047.6 1319.8 1036.7 1320.3 1030.5 1320.8 1030.5 1321.3 1032.7 1321.8 1040.8 1322.3 1049 1322.8 1042 1323.3 1034.7 1323.8 1032 1324.3 1031.2 1324.8 1031 1325.3 1037.1 1325.8 1043.3 1326.3 1046 1326.8 1040.1 1327.3 1034.3 1327.8 1034.9 1328.3 1042.4 1328.8 1050 1329.3 1057.6 1329.8 1062.1 1330.3 1054.5 1330.8 1047 1331.3 1039.7 1331.8 1035.6 1332.3 1032.1 1332.8 1031.3 1333.3 1030.2 1333.8 1042.2 1334.3 1054.8 1334.8 1053.1 1335.3 1040.6L1354.4 1040.6L1354.4 1135.4L112.6 1135.4Z" fill="#a99cc9" stroke="#4f3a96"/>
<path d="M112.6 660L133.8 660 134.3 660 134.8 660 135.3 660 135.8 660 136.3 692.4 136.8 723.2 137.3 750.2 137.8 758.3 138.3 755.4 138.8 753.5 139.3 753.7 139.8 753.9 140.3 754.1 140.8 761.7 141.3 769.7 141.8 777.7 142.3 780.6 142.8 774.4 143.3 769.5 143.8 765.5 144.3 766.6 144.8 769.2 145.3 772.2 145.8 780.7 146.3 789.3 146.8 796.2 147.3 795 147.8 793.9 148.3 793.2 148.8 794.6 149.3 796 149.8 799.1 150.3 806.3 150.8 813.6 151.3 819.8 151.8 818.8 152.3 824.3 152.8 829.8 153.3 835.3 153.8 840.8 154.3 848.9 154.8 862.5 155.3 859.5 155.8 845.5 156.3 839.7 156.8 834.2 157.3 828.7 157.8 823.2 158.3 817.7 158.8 817.6 159.3 823 159.8 828.4 160.3 825.6 160.8 820 161.3 814.4 161.8 812.8 162.3 811.7 162.8 809.7 163.3 816.2 163.8 822.6 164.3 825.7 164.8 815.8 165.3 805.9 165.8 798.9 166.3 796.3 166.8 793.8 167.3 794.6 167.8 797.6 168.3 800.7 168.8 799.6 169.3 796 169.8 792.5 170.3 790.4 170.8 789 171.3 787.6 171.8 787.8 172.3 791.7 172.8 795.1 173.3 798.6 173.8 794.7 174.3 787.3 174.8 780 175.3 773.1 175.8 770.5 176.3 768 176.8 771.8 177.3 780 177.8 788.6 178.3 777.1 178.8 765.5 179.3 757.7 179.8 756.3 180.3 754.9 180.8 755 181.3 758.4 181.8 761.9 182.3 764.7 182.8 760 183.3 755.3 183.8 750.6 184.3 748.4 184.8 746.6 185.3 744.7 185.8 745.6 186.3 749.6 186.8 753.6 187.3 757.6 187.8 751.4 188.3 744.9 188.8 738.4 189.3 734.1 189.8 732.5 190.3 730.9 190.8 730.8 191.3 733.6 191.8 736.5 192.3 739.8 192.8 735.1 193.3 730.5 193.8 725.8 194.3 724.1 194.8 723.4 195.3 722.8 195.8 726.5 196.3 730.7 196.8 734.9 197.3 733 197.8 730.6 198.3 728.2 198.8 727.5 199.3 727 199.8 727.1 200.3 729.6 200.8 732 201.3 733.4 201.8 732.3 202.3 731.4 202.8 730.7 203.3 730.3 203.8 729.9 204.3 729.6 204.8 731.3 205.3 734 205.8 736.7 206.3 739.5 206.8 738.3 207.3 735.2 207.8 732 208.3 728.9 208.8 727.8 209.3 727.7 209.8 727.6 210.3 727.5 210.8 736.5 211.3 746.5 211.8 756.8 212.3 767 212.8 759.1 213.3 749.9 213.8 740.6 214.3 731.3 214.8 730.9 215.3 731.1 215.8 731.2 216.3 737.5 216.8 746.9 217.3 756.3 217.8 762.9 218.3 755.3 218.8 747.8 219.3 740.3 219.8 738.1 220.3 738.5 220.8 739 221.3 748 221.8 765.3 222.3 782.6 222.8 794.8 223.3 778.9 223.8 763 224.3 747.1 224.8 743.6 225.3 742.8 225.8 744.4 226.3 756.5 226.8 768.6 227.3 771.2 227.8 761.5 228.3 751.8 228.8 748.5 229.3 748.1 229.8 747.8 230.3 751 230.8 758.3 231.3 765.7 231.8 772.9 232.3 765.4 232.8 757.9 233.3 750.1 233.8 746.3 234.3 745.3 234.8 763.3 235.3 784 235.8 804.8 236.3 824.1 236.8 821 237.3 800.9 237.8 780.4 238.3 759.9 238.8 739.4 239.3 738.3 239.8 737.4 240.3 740.8 240.8 750.6 241.3 760.4 241.8 770.1 242.3 772.2 242.8 763.4 243.3 755 243.8 746.8 244.3 742.2 244.8 742.4 245.3 742.7 245.8 745.7 246.3 754.3 246.8 762.8 247.3 770.7 247.8 762.7 248.3 754.8 248.8 752.8 249.3 758.3 249.8 763.8 250.3 769.3 250.8 774.8 251.3 780.3 251.8 785.8 252.3 790.4 252.8 787.9 253.3 776 253.8 768.2 254.3 762.7 254.8 757.2 255.3 751.7 255.8 753.6 256.3 763.2 256.8 772.8 257.3 766 257.8 758.3 258.3 750.5 258.8 749.9 259.3 749.4 259.8 749.9 260.3 762.6 260.8 775.4 261.3 788.1 261.8 776.2 262.3 763.9 262.8 751.6 263.3 749.7 263.8 749 264.3 748.3 264.8 752.8 265.3 760 265.8 767.2 266.3 770.8 266.8 763.1 267.3 755.4 267.8 747.8 268.3 745.6 268.8 744.7 269.3 743.9 269.8 743.5 270.3 746.6 270.8 749.6 271.3 752.7 271.8 754.7 272.3 752.6 272.8 750.5 273.3 748.4 273.8 746.8 274.3 746.4 274.8 746.1 275.3 746.4 275.8 755.9 276.3 765.3 276.8 774.7 277.3 771.9 277.8 762.3 278.3 752.7 278.8 745 279.3 744.2 279.8 743.5 280.3 742.8 280.8 746.4 281.3 751.4 281.8 756.5 282.3 761.1 282.8 755.2 283.3 749.3 283.8 743.4 284.3 739.6 284.8 741.3 285.3 750.7 285.8 760.2 286.3 769.7 286.8 779.1 287.3 777.2 287.8 767.6 288.3 758.1 288.8 748.6 289.3 744.9 289.8 744.5 290.3 752.3 290.8 761.7 291.3 771 291.8 763.3 292.3 754.9 292.8 747.1 293.3 746.5 293.8 745.8 294.3 746.3 294.8 754.3 295.3 762.4 295.8 770.5 296.3 760.1 296.8 749.8 297.3 739.5 297.8 737.5 298.3 736.8 298.8 737 299.3 749.6 299.8 762.1 300.3 772.3 300.8 760.2 301.3 748.2 301.8 737.6 302.3 736.6 302.8 735.6 303.3 734.6 303.8 740.7 304.3 751 304.8 761.2 305.3 771.5 305.8 764 306.3 754.9 306.8 745.8 307.3 739 307.8 739.5 308.3 739.9 308.8 740.3 309.3 747.5 309.8 756.9 310.3 766.3 310.8 775.7 311.3 773.6 311.8 763.9 312.3 754.2 312.8 744.4 313.3 739.5 313.8 740.6 314.3 745.5 314.8 750.4 315.3 754 315.8 751.3 316.3 748.6 316.8 746.3 317.3 746.7 317.8 747.2 318.3 749.3 318.8 755.1 319.3 760.8 319.8 762.2 320.3 757.2 320.8 752.2 321.3 749.1 321.8 748.4 322.3 747.7 322.8 748.7 323.3 756.3 323.8 763.8 324.3 771.4 324.8 766.6 325.3 758.3 325.8 763.8 326.3 769.3 326.8 774.8 327.3 780.3 327.8 785.8 328.3 791.3 328.8 796.8 329.3 795.7 329.8 798.9 330.3 796 330.8 782.3 331.3 773.7 331.8 768.2 332.3 762.7 332.8 757.2 333.3 753.1 333.8 758.5 334.3 758.3 334.8 754.4 335.3 750.4 335.8 749.1 336.3 748.6 336.8 748.1 337.3 749.9 337.8 759.9 338.3 769.8 338.8 779.8 339.3 782.2 339.8 773.8 340.3 766.2 340.8 782 341.3 797.7 341.8 813.5 342.3 810.3 342.8 794.4 343.3 778.5 343.8 767.9 344.3 774.7 344.8 777 345.3 769.6 345.8 762.3 346.3 755 346.8 751.5 347.3 751.2 347.8 750.9 348.3 752.6 348.8 762.2 349.3 771.7 349.8 781.2 350.3 779.3 350.8 771.5 351.3 763.6 351.8 756.6 352.3 756.3 352.8 756 353.3 755.9 353.8 761.5 354.3 772.5 354.8 783.5 355.3 794.4 355.8 790.6 356.3 780.6 356.8 770.5 357.3 773.3 357.8 778.8 358.3 784.3 358.8 789.8 359.3 795.3 359.8 800.8 360.3 799.7 360.8 794.2 361.3 788.7 361.8 783.2 362.3 777.7 362.8 772.2 363.3 766.7 363.8 768.2 364.3 774.3 364.8 780.4 365.3 786.6 365.8 787 366.3 781.1 366.8 775.2 367.3 769.2 367.8 766 368.3 765.9 368.8 765.8 369.3 774.5 369.8 785.6 370.3 796.8 370.8 788 371.3 777.5 371.8 767.6 372.3 767.1 372.8 766.7 373.3 766.6 373.8 772.4 374.3 778.2 374.8 783.9 375.3 781.7 375.8 777.4 376.3 773.1 376.8 771.5 377.3 772 377.8 772.5 378.3 779.3 378.8 790.8 379.3 802.2 379.8 804.8 380.3 794.4 380.8 784.1 381.3 776.2 381.8 776.2 382.3 776.3 382.8 780.8 383.3 786.3 383.8 791.8 384.3 797.3 384.8 809.2 385.3 821.9 385.8 834.6 386.3 832.3 386.8 820 387.3 807.7 387.8 796.2 388.3 790.7 388.8 789.4 389.3 782 389.8 774.6 390.3 770 390.8 768 391.3 766.9 391.8 766.4 392.3 771.1 392.8 776.4 393.3 781.7 393.8 786.6 394.3 780.9 394.8 775.1 395.3 769.4 395.8 764.6 396.3 764.2 396.8 763.8 397.3 764.8 397.8 774.2 398.3 784 398.8 794 399.3 786.4 399.8 777.1 400.3 767.9 400.8 764.9 401.3 764.8 401.8 764.8 402.3 765 402.8 767.9 403.3 770.9 403.8 773.8 404.3 775.4 404.8 772.2 405.3 769.4 405.8 767 406.3 765.8 406.8 766.5 407.3 767.3 407.8 768.1 408.3 775.6 408.8 784.2 409.3 792.8 409.8 800 410.3 793.3 410.8 786.7 411.3 780.1 411.8 776.1 412.3 776.5 412.8 776.6 413.3 776.6 413.8 783.1 414.3 793.1 414.8 803.2 415.3 813.2 415.8 811.1 416.3 803.8 416.8 796.5 417.3 789.2 417.8 787.1 418.3 786.5 418.8 785.9 419.3 788.1 419.8 797.4 420.3 806.8 420.8 816.1 421.3 814.6 421.8 805.1 422.3 795.6 422.8 800.2 423.3 798.3 423.8 789.5 424.3 785.3 424.8 793.8 425.3 804.3 425.8 814.8 426.3 813.8 426.8 803.7 427.3 793.6 427.8 786.5 428.3 786.5 428.8 786.4 429.3 786.4 429.8 795.4 430.3 806.7 430.8 818 431.3 827 431.8 817 432.3 807 432.8 797 433.3 791.2 433.8 791.3 434.3 791.3 434.8 793 435.3 803.3 435.8 813.7 436.3 824 436.8 821.6 437.3 813.9 437.8 806.1 438.3 800.3 438.8 800.3 439.3 799.4 439.8 798.5 440.3 799.5 440.8 801.6 441.3 803.6 441.8 805.7 442.3 802.7 442.8 798.2 443.3 793.7 443.8 789.2 444.3 788.1 444.8 787.2 445.3 786.3 445.8 785.5 446.3 784.6 446.8 785 447.3 789.2 447.8 794.1 448.3 799.4 448.8 804.7 449.3 810 449.8 813.2 450.3 809.2 450.8 806.1 451.3 814.6 451.8 823.2 452.3 821.3 452.8 812.4 453.3 803.5 453.8 794.6 454.3 789.7 454.8 790.2 455.3 793.5 455.8 796.7 456.3 799.8 456.8 802.6 457.3 801.3 457.8 799.5 458.3 797.7 458.8 795.9 459.3 795.1 459.8 794.9 460.3 794.7 460.8 794.5 461.3 794.3 461.8 796 462.3 798.3 462.8 800.7 463.3 803 463.8 805.3 464.3 805.3 464.8 803.6 465.3 801.3 465.8 798.6 466.3 795.9 466.8 793.9 467.3 793 467.8 792 468.3 791.1 468.8 791.3 469.3 796.8 469.8 802.2 470.3 807.6 470.8 813.1 471.3 809.4 471.8 802.7 472.3 796.3 472.8 790 473.3 785.1 473.8 784.7 474.3 785 474.8 801.1 475.3 817.1 475.8 833.2 476.3 849.2 476.8 839.7 477.3 823.8 477.8 807.9 478.3 792 478.8 786.5 479.3 785.1 479.8 783.7 480.3 782.9 480.8 782.6 481.3 782.3 481.8 782.3 482.3 782.4 482.8 782.7 483.3 785.2 483.8 787.6 484.3 790.1 484.8 792.5 485.3 795 485.8 796 486.3 793.2 486.8 790.4 487.3 787.6 487.8 784.8 488.3 782 488.8 780.5 489.3 780.7 489.8 781.1 490.3 781.5 490.8 783.3 491.3 786.8 491.8 790.3 492.3 793.8 492.8 796.5 493.3 794.9 493.8 793.4 494.3 791.8 494.8 790.3 495.3 790.7 495.8 791.2 496.3 791.7 496.8 792.1 497.3 792.6 497.8 795 498.3 799.5 498.8 804 499.3 808.5 499.8 813 500.3 817.5 500.8 816.4 501.3 812.9 501.8 809.5 502.3 806 502.8 802.6 503.3 799.2 503.8 799.3 504.3 799.6 504.8 800.2 505.3 800.7 505.8 802 506.3 807.2 506.8 812.5 507.3 817.7 507.8 823 508.3 827.5 508.8 824.7 509.3 821.8 509.8 819 510.3 816.2 510.8 813.3 511.3 813.7 511.8 814 512.3 814.3 512.8 814.7 513.3 816.2 513.8 819 514.3 821.9 514.8 824.7 515.3 827.5 515.8 828.3 516.3 828 516.8 827.7 517.3 827.3 517.8 827 518.3 827.3 518.8 827.7 519.3 828.2 519.8 828.6 520.3 831.2 520.8 834.3 521.3 837.4 521.8 840.5 522.3 840.8 522.8 839.1 523.3 837.4 523.8 835.6 524.3 834.6 524.8 835.1 525.3 835.7 525.8 836.2 526.3 838.2 526.8 850 527.3 861.8 527.8 873.6 528.3 885.4 528.8 882.1 529.3 871.7 529.8 861.2 530.3 850.8 530.8 843.1 531.3 844 531.8 845 532.3 845.9 532.8 846.8 533.3 849 533.8 853.8 534.3 858.6 534.8 863.4 535.3 868.2 535.8 872.5 536.3 870.9 536.8 869.2 537.3 867.4 537.8 865.4 538.3 863.4 538.8 863.4 539.3 863.8 539.8 864.2 540.3 864.6 540.8 865 541.3 868 541.8 872.7 542.3 877.3 542.8 882 543.3 886.6 543.8 890.8 544.3 887.5 544.8 884.3 545.3 881.1 545.8 877.8 546.3 874.6 546.8 873.3 547.3 873.8 547.8 874.4 548.3 875.1 548.8 875.8 549.3 877.3 549.8 883.5 550.3 891.9 550.8 900.3 551.3 908.8 551.8 903.2 552.3 894.2 552.8 889 553.3 888.6 553.8 888.1 554.3 887.7 554.8 887.9 555.3 888.4 555.8 888.8 556.3 888.5 556.8 889.7 557.3 892.4 557.8 895.1 558.3 897.8 558.8 899.6 559.3 896.8 559.8 894 560.3 891.2 560.8 897.8 561.3 906.9 561.8 916.1 562.3 925.2 562.8 920.3 563.3 930.4 563.8 910.2 564.3 890 564.8 887.4 565.3 886.5 565.8 886.1 566.3 898.7 566.8 911.3 567.3 923.9 567.8 912.5 568.3 901 568.8 889.6 569.3 888.8 569.8 889 570.3 902.6 570.8 916.2 571.3 929.8 571.8 943.4 572.3 940.6 572.8 926.8 573.3 912.9 573.8 899.1 574.3 893.2 574.8 894.5 575.3 906.1 575.8 917.6 576.3 916.4 576.8 905.3 577.3 894.5 577.8 894.6 578.3 894.7 578.8 913.3 579.3 933.7 579.8 906 580.3 903.7 580.8 896.5 581.3 898.4 581.8 895.2 582.3 891.4 582.8 886.9 583.3 881.2 583.8 873.8 584.3 862.9 584.8 846.1 585.3 842 585.8 846.1 586.3 862.9 586.8 873.8 587.3 881.2 587.8 886.9 588.3 891.4 588.8 895.2 589.3 891.6 589.8 885.3 590.3 877.1 590.8 865.1 591.3 846.6 591.8 842 592.3 846.6 592.8 865.1 593.3 877.1 593.8 885.3 594.3 891.6 594.8 896.6 595.3 900.7 595.8 904.3 596.3 907.4 596.8 910.2 597.3 905.3 597.8 905.3 598.3 905.2 598.8 910.2 599.3 919.7 599.8 928.8 600.3 924 600.8 914.7 601.3 905.4 601.8 904.5 602.3 903.9 602.8 905.4 603.3 913.6 603.8 921.7 604.3 924.5 604.8 915.7 605.3 907 605.8 901.5 606.3 900.8 606.8 900.2 607.3 906.8 607.8 918.5 608.3 930.1 608.8 929.1 609.3 920 609.8 913.2 610.3 922 610.8 930.9 611.3 939.8 611.8 937.9 612.3 938 612.8 937.8 613.3 936.7 613.8 931.2 614.3 925.7 614.8 920.2 615.3 915.9 615.8 923.4 616.3 930.5 616.8 924.1 617.3 917.3 617.8 912.3 618.3 911.5 618.8 910.8 619.3 917.3 619.8 927.6 620.3 937.8 620.8 929.6 621.3 918.5 621.8 907.9 622.3 907.5 622.8 907 623.3 911 623.8 918.2 624.3 925.4 624.8 919.7 625.3 914.6 625.8 922.9 626.3 931.3 626.8 939.7 627.3 938 627.8 929.7 628.3 921.3 628.8 927 629.3 922.4 629.8 917.5 630.3 912.6 630.8 910.9 631.3 910.4 631.8 909.9 632.3 912.6 632.8 917.9 633.3 930.6 633.8 943.4 634.3 956.2 634.8 953.6 635.3 940.9 635.8 928.2 636.3 915.4 636.8 916.2 637.3 928.9 637.8 941.3 638.3 927.4 638.8 913.5 639.3 903.6 639.8 903 640.3 902.5 640.8 912.4 641.3 926 641.8 938.8 642.3 927 642.8 928.8 643.3 934.9 643.8 948.3 644.3 961.6 644.8 948.3 645.3 935 645.8 922.6 646.3 916.7 646.8 911.2 647.3 905.7 647.8 903.7 648.3 907.1 648.8 934.6 649.3 962.2 649.8 948.9 650.3 922.2 650.8 905 651.3 905.1 651.8 905.2 652.3 909.9 652.8 919.9 653.3 929.8 653.8 932 654.3 922.8 654.8 913.5 655.3 914.3 655.8 919.8 656.3 925.3 656.8 930.8 657.3 936.3 657.8 941.8 658.3 947.3 658.8 952.8 659.3 951.7 659.8 946.2 660.3 940.7 660.8 935.2 661.3 929.7 661.8 942.2 662.3 940.5 662.8 925.7 663.3 910.9 663.8 908.1 664.3 908.3 664.8 912.5 665.3 921.8 665.8 931.1 666.3 923.1 666.8 913.8 667.3 908.2 667.8 907.8 668.3 907.4 668.8 911.5 669.3 918.1 669.8 924.6 670.3 923.3 670.8 918.6 671.3 913.9 671.8 912 672.3 911 672.8 912.2 673.3 921.4 673.8 930.7 674.3 930.4 674.8 920.3 675.3 910.2 675.8 908.1 676.3 908 676.8 908 677.3 915.6 677.8 923.4 678.3 931.1 678.8 924.9 679.3 918.4 679.8 918 680.3 926.4 680.8 934.8 681.3 943.2 681.8 941.5 682.3 933 682.8 924.6 683.3 916.1 683.8 912.1 684.3 911.1 684.8 915.8 685.3 921 685.8 921.1 686.3 917 686.8 913.6 687.3 918.3 687.8 923.8 688.3 929.3 688.8 934.8 689.3 940.3 689.8 945.8 690.3 944.7 690.8 939.2 691.3 933.7 691.8 928.2 692.3 935.7 692.8 936.6 693.3 926.5 693.8 916.5 694.3 916.2 694.8 915.9 695.3 922.8 695.8 936.5 696.3 950.1 696.8 938.3 697.3 923.2 697.8 924.1 698.3 938.6 698.8 953.1 699.3 967.6 699.8 970.4 700.3 956 700.8 941.5 701.3 928.6 701.8 921.4 702.3 918.7 702.8 917.8 703.3 918.9 703.8 922.8 704.3 926.3 704.8 923.4 705.3 920.4 705.8 918.7 706.3 918.3 706.8 926.7 707.3 944.2 707.8 950 708.3 940.3 708.8 945.8 709.3 944.7 709.8 939.2 710.3 947.5 710.8 958.7 711.3 956.5 711.8 947.9 712.3 934.3 712.8 923 713.3 915.1 713.8 915.1 714.3 917.4 714.8 929.6 715.3 941.7 715.8 938.9 716.3 928.3 716.8 919 717.3 918.1 717.8 917.2 718.3 923.7 718.8 934.3 719.3 944.8 719.8 933 720.3 921.2 720.8 913.6 721.3 913 721.8 914.7 722.3 931.4 722.8 948.1 723.3 940.9 723.8 926.2 724.3 916.8 724.8 915.9 725.3 915.1 725.8 919.9 726.3 932.7 726.8 945.4 727.3 951.4 727.8 938 728.3 924.6 728.8 912.6 729.3 911.7 729.8 910.7 730.3 921.4 730.8 934.8 731.3 939.6 731.8 929.2 732.3 918.8 732.8 917.9 733.3 917.8 733.8 932 734.3 955.7 734.8 973 735.3 947.8 735.8 923.9 736.3 917.6 736.8 919.4 737.3 923.2 737.8 930.1 738.3 934.1 738.8 926 739.3 918.6 739.8 918.9 740.3 920.2 740.8 927.2 741.3 930.9 741.8 928 742.3 919.9 742.8 916.1 743.3 915.4 743.8 914.8 744.3 920.3 744.8 926.8 745.3 933.4 745.8 930.7 746.3 924.5 746.8 918.2 747.3 915.1 747.8 915 748.3 917.9 748.8 926.7 749.3 935.2 749.8 925.8 750.3 916.3 750.8 913.3 751.3 913.2 751.8 915.2 752.3 920.1 752.8 924.5 753.3 921.3 753.8 918.1 754.3 916.7 754.8 916.2 755.3 917.1 755.8 921.5 756.3 926 756.8 922.9 757.3 917.4 757.8 913.1 758.3 913 758.8 912.8 759.3 915.8 759.8 923.7 760.3 931.6 760.8 933.3 761.3 925.3 761.8 917.3 762.3 912.2 762.8 911.9 763.3 912.3 763.8 919.9 764.3 928.5 764.8 934 765.3 926.8 765.8 919.7 766.3 916.6 766.8 917 767.3 919.7 767.8 926 768.3 931 768.8 927.3 769.3 923.5 769.8 923 770.3 923.4 770.8 926.9 771.3 933.8 771.8 940.7 772.3 937.7 772.8 933.8 773.3 931.8 773.8 932.8 774.3 933.7 774.8 934.7 775.3 939.3 775.8 946.7 776.3 954 776.8 961.4 777.3 960.1 777.8 951.9 778.3 943.7 778.8 935.5 779.3 930.4 779.8 928.6 780.3 926.7 780.8 924.8 781.3 923.9 781.8 925 782.3 926.1 782.8 928.4 783.3 931.5 783.8 930.3 784.3 928.9 784.8 927.4 785.3 932.2 785.8 940.4 786.3 948.5 786.8 956.7 787.3 955.1 787.8 946.9 788.3 938.7 788.8 938.9 789.3 943.4 789.8 943.3 790.3 939.9 790.8 936.2 791.3 932.5 791.8 930.5 792.3 929.9 792.8 929.3 793.3 928.7 793.8 932.8 794.3 937.7 794.8 942.6 795.3 947.6 795.8 961.1 796.3 988.1 796.8 1015 797.3 1042 797.8 1025.8 798.3 998.9 798.8 971.9 799.3 944.9 799.8 928.9 800.3 930.4 800.8 931.8 801.3 930.4 801.8 934.7 802.3 943.1 802.8 951.6 803.3 960 803.8 951.6 804.3 943.1 804.8 934.7 805.3 929.6 805.8 935.2 806.3 940.9 806.8 935.1 807.3 929.6 807.8 924.5 808.3 921.7 808.8 927.3 809.3 938.1 809.8 949 810.3 959.8 810.8 970.7 811.3 968.5 811.8 957.6 812.3 946.8 812.8 949.4 813.3 948.3 813.8 945.4 814.3 942.9 814.8 940.6 815.3 940.6 815.8 954.7 816.3 968.8 816.8 982.9 817.3 997 817.8 994.1 818.3 980 818.8 965.9 819.3 957.8 819.8 961.6 820.3 959 820.8 956.5 821.3 953.9 821.8 951.4 822.3 950.9 822.8 951.8 823.3 952.7 823.8 953.6 824.3 955.1 824.8 959.5 825.3 963.8 825.8 968.2 826.3 972.6 826.8 968.5 827.3 962.4 827.8 956.2 828.3 950 828.8 945.1 829.3 943.7 829.8 942.3 830.3 941 830.8 940.3 831.3 944.6 831.8 949.3 832.3 954 832.8 958.7 833.3 963.5 833.8 970.3 834.3 968.9 834.8 962.1 835.3 955.3 835.8 948.5 836.3 945.3 836.8 945.5 837.3 945.7 837.8 945.9 838.3 949.2 838.8 952.9 839.3 956.6 839.8 960.3 840.3 964 840.8 962.9 841.3 959.4 841.8 956 842.3 952.6 842.8 949.2 843.3 947.4 843.8 947.1 844.3 946.8 844.8 946.5 845.3 948 845.8 955.6 846.3 963.3 846.8 971 847.3 978.7 847.8 976.3 848.3 968.5 848.8 960.8 849.3 953 849.8 945.8 850.3 945.6 850.8 945.4 851.3 945.2 851.8 946 852.3 947.7 852.8 949.5 853.3 951.2 853.8 950.7 854.3 949.1 854.8 947.5 855.3 946.1 855.8 946.1 856.3 946.2 856.8 946.4 857.3 946.5 857.8 948.5 858.3 953 858.8 957.4 859.3 961.9 859.8 966.3 860.3 964.5 860.8 960.2 861.3 956.3 861.8 952.5 862.3 948.8 862.8 949.1 863.3 949.4 863.8 949.7 864.3 950 864.8 952.7 865.3 956.9 865.8 960.9 866.3 964.6 866.8 968.3 867.3 965.5 867.8 962.5 868.3 964.1 868.8 973.2 869.3 982.3 869.8 991.4 870.3 989.5 870.8 980.5 871.3 971.4 871.8 962.3 872.3 960.2 872.8 962.6 873.3 962.8 873.8 961.6 874.3 960.1 874.8 958.5 875.3 957.8 875.8 957.6 876.3 957.5 876.8 957.4 877.3 962.2 877.8 969.8 878.3 977.3 878.8 984.8 879.3 985.7 879.8 978.1 880.3 970.5 880.8 962.9 881.3 957.6 881.8 958.4 882.3 959.3 882.8 961.4 883.3 967.1 883.8 972.8 884.3 978.6 884.8 984.3 885.3 990 885.8 984.3 886.3 978.6 886.8 972.8 887.3 973 887.8 972.8 888.3 972.4 888.8 972.4 889.3 974.9 889.8 977.4 890.3 980 890.8 981.4 891.3 979.8 891.8 978.1 892.3 976.5 892.8 975.4 893.3 975 893.8 974.6 894.3 974.2 894.8 975.8 895.3 978 895.8 980.2 896.3 982 896.8 980.1 897.3 977.9 897.8 975.8 898.3 973.8 898.8 972.9 899.3 971.9 899.8 971 900.3 970.1 900.8 971.5 901.3 974.6 901.8 977.7 902.3 980.9 902.8 984 903.3 981.6 903.8 977.3 904.3 973.9 904.8 970.4 905.3 967 905.8 967 906.3 976.5 906.8 986.1 907.3 995.6 907.8 1005.2 908.3 1003.3 908.8 993.7 909.3 985.5 909.8 980.5 910.3 975.4 910.8 971.8 911.3 971.9 911.8 971.9 912.3 971.9 912.8 973.5 913.3 980.4 913.8 987.3 914.3 994.1 914.8 1001 915.3 994.8 915.8 993.5 916.3 989.6 916.8 985.6 917.3 981.7 917.8 977.7 918.3 976.3 918.8 975.6 919.3 974.9 919.8 974.6 920.3 976.7 920.8 978.8 921.3 980.9 921.8 981.7 922.3 978.2 922.8 974.7 923.3 971.2 923.8 968.7 924.3 967.6 924.8 966.4 925.3 965.2 925.8 966 926.3 967.4 926.8 968.8 927.3 970.2 927.8 967.5 928.3 964.5 928.8 961.4 929.3 959 929.8 958.8 930.3 958.7 930.8 958.5 931.3 958.3 931.8 960 932.3 963 932.8 966.1 933.3 969.1 933.8 972.2 934.3 971.1 934.8 968.6 935.3 966.1 935.8 963.6 936.3 961.1 936.8 960.6 937.3 960.6 937.8 960.6 938.3 966.3 938.8 973.3 939.3 980.3 939.8 987.2 940.3 985.9 940.8 982.1 941.3 976 941.8 969.8 942.3 963.6 942.8 961.2 943.3 961 943.8 960.8 944.3 960.6 944.8 963.4 945.3 968 945.8 972.9 946.3 977.8 946.8 979.9 947.3 977.6 947.8 985.2 948.3 992.9 948.8 997.5 949.3 989.8 949.8 982.2 950.3 974.5 950.8 971 951.3 973.9 951.8 977.2 952.3 980.5 952.8 983.7 953.3 985.1 953.8 983.4 954.3 981.8 954.8 985.4 955.3 992.9 955.8 1000.5 956.3 1008 956.8 1000.5 957.3 992.9 957.8 985.4 958.3 985.1 958.8 987.9 959.3 990.7 959.8 988.9 960.3 987.1 960.8 985.2 961.3 983.4 961.8 983.8 962.3 984.3 962.8 987.1 963.3 994.2 963.8 1001.2 964.3 1008.2 964.8 1015.2 965.3 1013.8 965.8 1007.3 966.3 1008.6 966.8 1005 967.3 1001.3 967.8 997.7 968.3 994 968.8 992.5 969.3 992.9 969.8 993.3 970.3 993.7 970.8 999.3 971.3 1006.5 971.8 1013.7 972.3 1020.9 972.8 1018.1 973.3 1012.4 973.8 1006.9 974.3 1001.4 974.8 1000 975.3 1000.3 975.8 1000.7 976.3 1000.9 976.8 1001.5 977.3 1005.4 977.8 1009.2 978.3 1013 978.8 1016.9 979.3 1018.9 979.8 1016.1 980.3 1013.3 980.8 1010.5 981.3 1007.7 981.8 1006 982.3 1006.1 982.8 1007.4 983.3 1010.5 983.8 1013.7 984.3 1018.6 984.8 1023.7 985.3 1028.7 985.8 1033.8 986.3 1037.7 986.8 1038.6 987.3 1037.2 987.8 1034.4 988.3 1031.6 988.8 1030 989.3 1029.6 989.8 1035.2 990.3 1040.8 990.8 1046.4 991.3 1052 991.8 1046.4 992.3 1040.8 992.8 1037.5 993.3 1035.8 993.8 1033.5 994.3 1031.2 994.8 1029.4 995.3 1028.8 995.8 1029.2 996.3 1029.6 996.8 1029.9 997.3 1030.3 997.8 1032.7 998.3 1035.3 998.8 1037.9 999.3 1040.6 999.8 1042.9 1000.3 1041.1 1000.8 1039.2 1001.3 1037.2 1001.8 1038.8 1002.3 1044.3 1002.8 1049.8 1003.3 1048.7 1003.8 1043.2 1004.3 1037.7 1004.8 1041.8 1005.3 1046.7 1005.8 1051.6 1006.3 1049.2 1006.8 1045.6 1007.3 1042.2 1007.8 1038.9 1008.3 1041 1008.8 1046.9 1009.3 1052.8 1009.8 1058.7 1010.3 1057.5 1010.8 1051.6 1011.3 1051.1 1011.8 1055.2 1012.3 1053.4 1012.8 1049.3 1013.3 1045.3 1013.8 1041.2 1014.3 1038.9 1014.8 1038.5 1015.3 1038.1 1015.8 1043.3 1016.3 1050.2 1016.8 1057 1017.3 1063.9 1017.8 1065.3 1018.3 1058.4 1018.8 1056.4 1019.3 1052.8 1019.8 1049.1 1020.3 1045.4 1020.8 1041.7 1021.3 1038.6 1021.8 1038.3 1022.3 1038 1022.8 1037.7 1023.3 1037.1 1023.8 1037.2 1024.3 1039.3 1024.8 1041.3 1025.3 1043.4 1025.8 1045.4 1026.3 1046.5 1026.8 1043.6 1027.3 1040.7 1027.8 1037.8 1028.3 1034.9 1028.8 1032.1 1029.3 1031.6 1029.8 1031.1 1030.3 1030.9 1030.8 1030.9 1031.3 1033.7 1031.8 1038.8 1032.3 1043.8 1032.8 1048.9 1033.3 1053.9 1033.8 1052.5 1034.3 1049 1034.8 1045.6 1035.3 1042.1 1035.8 1038.6 1036.3 1038.4 1036.8 1038.3 1037.3 1039.4 1037.8 1042 1038.3 1044.7 1038.8 1043.1 1039.3 1040.3 1039.8 1037.7 1040.3 1036.2 1040.8 1034 1041.3 1033.9 1041.8 1039.1 1042.3 1044.3 1042.8 1045.7 1043.3 1037.3 1043.8 1044.9 1044.3 1057.4 1044.8 1070 1045.3 1067.5 1045.8 1054.9 1046.3 1042.4 1046.8 1032.4 1047.3 1028 1047.8 1023.9 1048.3 1025.8 1048.8 1027.6 1049.3 1031.3 1049.8 1039.3 1050.3 1045.9 1050.8 1048.1 1051.3 1044.3 1051.8 1040.4 1052.3 1038.3 1052.8 1038.3 1053.3 1040.7 1053.8 1048.5 1054.3 1055.6 1054.8 1048 1055.3 1055.1 1055.8 1062.2 1056.3 1060.7 1056.8 1053.7 1057.3 1046.6 1057.8 1047.2 1058.3 1052.8 1058.8 1049 1059.3 1045.1 1059.8 1041.2 1060.3 1040.2 1060.8 1039.3 1061.3 1042.6 1061.8 1048.7 1062.3 1053.7 1062.8 1046.7 1063.3 1039.6 1063.8 1036.3 1064.3 1036 1064.8 1038.7 1065.3 1051.1 1065.8 1063.5 1066.3 1055.4 1066.8 1041.7 1067.3 1032.6 1067.8 1032.6 1068.3 1032.6 1068.8 1039.2 1069.3 1050 1069.8 1060.8 1070.3 1057.1 1070.8 1054.2 1071.3 1064.1 1071.8 1074 1072.3 1072.1 1072.8 1062.1 1073.3 1052.2 1073.8 1045.3 1074.3 1042.2 1074.8 1039.2 1075.3 1037.6 1075.8 1036.5 1076.3 1044.6 1076.8 1060.1 1077.3 1067.9 1077.8 1052.2 1078.3 1036.6 1078.8 1034.9 1079.3 1034.2 1079.8 1035 1080.3 1041.1 1080.8 1047.2 1081.3 1049.1 1081.8 1042.9 1082.3 1036.8 1082.8 1033.1 1083.3 1032.2 1083.8 1031.3 1084.3 1047.3 1084.8 1065.2 1085.3 1076.8 1085.8 1059.4 1086.3 1041.9 1086.8 1032.1 1087.3 1031.3 1087.8 1033.3 1088.3 1043.5 1088.8 1053.6 1089.3 1047.2 1089.8 1039 1090.3 1034.9 1090.8 1033.8 1091.3 1033.5 1091.8 1036.8 1092.3 1040.2 1092.8 1038.5 1093.3 1033.6 1093.8 1029 1094.3 1027.5 1094.8 1026 1095.3 1025.7 1095.8 1028.7 1096.3 1031.7 1096.8 1032.7 1097.3 1029 1097.8 1025.3 1098.3 1022.4 1098.8 1021.2 1099.3 1020.1 1099.8 1022.6 1100.3 1028.4 1100.8 1034.2 1101.3 1032.3 1101.8 1024.8 1102.3 1017.2 1102.8 1013.6 1103.3 1012.5 1103.8 1013.2 1104.3 1026.7 1104.8 1042.5 1105.3 1058.4 1105.8 1049.3 1106.3 1036.7 1106.8 1024.2 1107.3 1024.7 1107.8 1026.3 1108.3 1026.3 1108.8 1034 1109.3 1041.8 1109.8 1049.6 1110.3 1041.8 1110.8 1031.8 1111.3 1021.8 1111.8 1018.4 1112.3 1017 1112.8 1016 1113.3 1021.7 1113.8 1028.9 1114.3 1034.1 1114.8 1033.1 1115.3 1032 1115.8 1032.3 1116.3 1034.6 1116.8 1035.6 1117.3 1049.1 1117.8 1063 1118.3 1065.5 1118.8 1052.1 1119.3 1038.6 1119.8 1036.9 1120.3 1037.1 1120.8 1038.6 1121.3 1044.6 1121.8 1050.6 1122.3 1052 1122.8 1047.2 1123.3 1041.8 1123.8 1038.8 1124.3 1037.5 1124.8 1036.2 1125.3 1046.9 1125.8 1057.7 1126.3 1064.4 1126.8 1052.9 1127.3 1041.5 1127.8 1033.7 1128.3 1034.3 1128.8 1039.8 1129.3 1045.3 1129.8 1052 1130.3 1059.8 1130.8 1061.8 1131.3 1067.3 1131.8 1072.8 1132.3 1071.7 1132.8 1066.2 1133.3 1060.7 1133.8 1067.4 1134.3 1077.5 1134.8 1074.3 1135.3 1065.2 1135.8 1056.1 1136.3 1052.3 1136.8 1051 1137.3 1053.2 1137.8 1057.7 1138.3 1058.5 1138.8 1054.8 1139.3 1051.7 1139.8 1050.9 1140.3 1050.2 1140.8 1050.9 1141.3 1053.9 1141.8 1056.9 1142.3 1057.5 1142.8 1054.7 1143.3 1051.9 1143.8 1049.9 1144.3 1049.4 1144.8 1048.8 1145.3 1065.5 1145.8 1087.5 1146.3 1088 1146.8 1088 1147.3 1068.1 1147.8 1075 1148.3 1073.5 1148.8 1066.1 1149.3 1058.6 1149.8 1056.4 1150.3 1060.7 1150.8 1056.7 1151.3 1052.3 1151.8 1049 1152.3 1048.4 1152.8 1047.8 1153.3 1051.9 1153.8 1059.4 1154.3 1067 1154.8 1064.8 1155.3 1057.9 1155.8 1050.9 1156.3 1048.7 1156.8 1048 1157.3 1047.2 1157.8 1058.9 1158.3 1073.2 1158.8 1087.6 1159.3 1081 1159.8 1064.7 1160.3 1048.5 1160.8 1040.7 1161.3 1039.9 1161.8 1039.6 1162.3 1043.7 1162.8 1051.8 1163.3 1059.8 1163.8 1063.7 1164.3 1062.9 1164.8 1068.1 1165.3 1063.3 1165.8 1057.9 1166.3 1051.7 1166.8 1044.3 1167.3 1035.2 1167.8 1023.4 1168.3 1007.1 1168.8 981.7 1169.3 961.4 1169.8 961.4 1170.3 987.8 1170.8 1010.9 1171.3 1026.1 1171.8 1037.2 1172.3 1045.9 1172.8 1051.2 1173.3 1042.5 1173.8 1042.1 1174.3 1045.1 1174.8 1039.5 1175.3 1029.7 1175.8 1016.7 1176.3 997.7 1176.8 968.6 1177.3 961.4 1177.8 968.6 1178.3 997.7 1178.8 1016.7 1179.3 1029.7 1179.8 1039.5 1180.3 1045.2 1180.8 1044.7 1181.3 1045.5 1181.8 1062.5 1182.3 1068.8 1182.8 1072.7 1183.3 1088 1183.8 1066.7 1184.3 1055.3 1184.8 1054.2 1185.3 1053.1 1185.8 1065.1 1186.3 1077.3 1186.8 1082.1 1187.3 1070.1 1187.8 1058.1 1188.3 1052.9 1188.8 1051.8 1189.3 1050.6 1189.8 1054.4 1190.3 1060.2 1190.8 1066.1 1191.3 1064.9 1191.8 1058.9 1192.3 1052.9 1192.8 1049.5 1193.3 1049.3 1193.8 1049.4 1194.3 1060.1 1194.8 1072.7 1195.3 1084.4 1195.8 1071.4 1196.3 1058.5 1196.8 1048.5 1197.3 1048.1 1197.8 1047.8 1198.3 1051.9 1198.8 1059.2 1199.3 1066.5 1199.8 1062.9 1200.3 1056.5 1200.8 1050 1201.3 1050.1 1201.8 1050.4 1202.3 1054.3 1202.8 1067.1 1203.3 1079.9 1203.8 1081.6 1204.3 1072.5 1204.8 1080 1205.3 1078.5 1205.8 1071 1206.3 1063.5 1206.8 1062.7 1207.3 1071.8 1207.8 1075.1 1208.3 1064.5 1208.8 1054 1209.3 1048.7 1209.8 1047.8 1210.3 1053 1210.8 1062.4 1211.3 1071.8 1211.8 1081.2 1212.3 1079.4 1212.8 1070 1213.3 1060.6 1213.8 1051.2 1214.3 1041.8 1214.8 1037.4 1215.3 1038.9 1215.8 1041.8 1216.3 1044.7 1216.8 1041.9 1217.3 1038.8 1217.8 1036.8 1218.3 1037.3 1218.8 1038.5 1219.3 1047.5 1219.8 1062.9 1220.3 1073.1 1220.8 1060.6 1221.3 1065.1 1221.8 1074.3 1222.3 1072.5 1222.8 1063.3 1223.3 1054.6 1223.8 1070.6 1224.3 1076.2 1224.8 1055.1 1225.3 1033.9 1225.8 1020.7 1226.3 1019.5 1226.8 1023.6 1227.3 1039.8 1227.8 1055.8 1228.3 1041.2 1228.8 1026.6 1229.3 1022.3 1229.8 1021.6 1230.3 1022.4 1230.8 1031.3 1231.3 1040.3 1231.8 1041.3 1232.3 1030.4 1232.8 1019.6 1233.3 1015.1 1233.8 1014 1234.3 1013.7 1234.8 1028.2 1235.3 1043 1235.8 1050.1 1236.3 1038 1236.8 1025.8 1237.3 1019.6 1237.8 1018.7 1238.3 1017.9 1238.8 1022.9 1239.3 1028 1239.8 1029.6 1240.3 1025 1240.8 1020.3 1241.3 1018.2 1241.8 1017.1 1242.3 1021 1242.8 1031.4 1243.3 1041.3 1243.8 1032.6 1244.3 1023.9 1244.8 1020.1 1245.3 1019.2 1245.8 1018.5 1246.3 1021.5 1246.8 1026 1247.3 1030.5 1247.8 1030.8 1248.3 1028 1248.8 1025.2 1249.3 1023.6 1249.8 1023.4 1250.3 1028.3 1250.8 1040.7 1251.3 1047.4 1251.8 1033.9 1252.3 1020.8 1252.8 1020.7 1253.3 1020.5 1253.8 1028.1 1254.3 1037.4 1254.8 1039.1 1255.3 1033.7 1255.8 1043.5 1256.3 1053.3 1256.8 1063.1 1257.3 1061.1 1257.8 1056.6 1258.3 1046 1258.8 1032.3 1259.3 1028.6 1259.8 1029.1 1260.3 1030 1260.8 1039.7 1261.3 1049.5 1261.8 1055.2 1262.3 1047.1 1262.8 1039.1 1263.3 1034.1 1263.8 1033.8 1264.3 1033.6 1264.8 1037.2 1265.3 1045.6 1265.8 1054 1266.3 1057.7 1266.8 1050.5 1267.3 1043.3 1267.8 1037.2 1268.3 1036.8 1268.8 1036.5 1269.3 1038.2 1269.8 1044.6 1270.3 1051 1270.8 1054.3 1271.3 1049.2 1271.8 1044 1272.3 1039.7 1272.8 1039.5 1273.3 1039.3 1273.8 1040.3 1274.3 1044.1 1274.8 1047.9 1275.3 1050.4 1275.8 1046.5 1276.3 1042.7 1276.8 1039.1 1277.3 1038.7 1277.8 1038.3 1278.3 1046.7 1278.8 1060.4 1279.3 1073.5 1279.8 1056.8 1280.3 1061.5 1280.8 1072.6 1281.3 1070.3 1281.8 1059.3 1282.3 1048.2 1282.8 1037.1 1283.3 1032.7 1283.8 1029.7 1284.3 1027.4 1284.8 1025.1 1285.3 1024.9 1285.8 1025.1 1286.3 1030.8 1286.8 1041.6 1287.3 1051.8 1287.8 1043.6 1288.3 1035.5 1288.8 1032.5 1289.3 1032.8 1289.8 1032.5 1290.3 1038.7 1290.8 1045.2 1291.3 1049.1 1291.8 1049.4 1292.3 1058 1292.8 1066.6 1293.3 1064.8 1293.8 1056.2 1294.3 1047.6 1294.8 1048.5 1295.3 1050.8 1295.8 1046.7 1296.3 1041.8 1296.8 1036.1 1297.3 1029.2 1297.8 1020.4 1298.3 1008.4 1298.8 990 1299.3 969 1299.8 969 1300.3 985.1 1300.8 1005.3 1301.3 1018.3 1301.8 1027.6 1302.3 1034.9 1302.8 1040.8 1303.3 1045.8 1303.8 1048.7 1304.3 1043.3 1304.8 1036.9 1305.3 1028.9 1305.8 1018.5 1306.3 1003.7 1306.8 980.5 1307.3 969 1307.8 970.7 1308.3 995.7 1308.8 1013.3 1309.3 1025.1 1309.8 1033.9 1310.3 1040.9 1310.8 1042.3 1311.3 1041.9 1311.8 1047.5 1312.3 1053.2 1312.8 1058.2 1313.3 1051.8 1313.8 1045.3 1314.3 1039.6 1314.8 1038.8 1315.3 1038 1315.8 1038 1316.3 1045.9 1316.8 1053.7 1317.3 1061.5 1317.8 1054 1318.3 1044.2 1318.8 1034.3 1319.3 1030.3 1319.8 1029.6 1320.3 1029.1 1320.8 1037.9 1321.3 1048.6 1321.8 1059.3 1322.3 1051.7 1322.8 1040.3 1323.3 1029 1323.8 1026.6 1324.3 1026.1 1324.8 1035.6 1325.3 1064 1325.8 1088 1326.3 1081.4 1326.8 1054.7 1327.3 1036.9 1327.8 1047.3 1328.3 1057.6 1328.8 1067.9 1329.3 1065.8 1329.8 1055.5 1330.3 1045.2 1330.8 1034.9 1331.3 1028.1 1331.8 1027.1 1332.3 1032.2 1332.8 1037.4 1333.3 1037.6 1333.8 1032 1334.3 1026.4 1334.8 1025.5 1335.3 1025L1354.4 1025L1354.4 1135.4L112.6 1135.4Z" fill="#b7d7b6" stroke="#4a8548"/>
<line x1="136" y1="660" x2="136" y2="745" stroke="#4a8548" stroke-width="3.4"/>
</g>
<g clip-path="url(#ca)"><g stroke="#3f78c0" stroke-width="3" stroke-dasharray="12.5 12.5" fill="none">
<path d="M327.5 101.3V612"/>
<path d="M587.5 101.3V612"/>
<path d="M1173 101.3V612"/>
</g></g>
<g fill="#202655" stroke="none"><rect x="157.7" y="380.2" width="301.4" height="4.2"/><path d="M135.2 382.3L165.8 369.7L158.7 382.3L165.8 394.9Z"/><path d="M481.6 382.3L451 369.7L458.1 382.3L451 394.9Z"/></g>
<g fill="#202655" stroke="none"><rect x="612.5" y="512.9" width="302" height="4.2"/><path d="M590 515L620.6 502.4L613.5 515L620.6 527.6Z"/><path d="M937 515L906.4 502.4L913.5 515L906.4 527.6Z"/></g>
<text class="b" x="145" y="158" font-size="56" style="fill:#000">(a)</text>
<text class="b" x="145" y="669" font-size="56" style="fill:#000">(b)</text>
<text x="351.3" y="539.7" font-size="47" style="fill:#000">×10<tspan font-size="25.2" dy="-16.3">-3</tspan></text>
<text x="256.4" y="426.9" font-size="53.5" style="fill:#202655">Ω<tspan font-size="32" dx="-1" dy="17.4">c</tspan></text>
<text x="701.9" y="557.7" font-size="53.5" style="fill:#202655">Ω<tspan font-size="32" dx="-1" dy="17.4">c</tspan></text>
<text class="b" transform="translate(316.5 205.1) rotate(-90)" font-size="25.5" style="fill:#2b5a86;stroke:#2b5a86;stroke-width:0.5">(-1,0.2)</text>
<text class="b" transform="translate(579 193.8) rotate(-90)" font-size="25.5" style="fill:#2b5a86;stroke:#2b5a86;stroke-width:0.5">(1,0.2)</text>
<text class="b" transform="translate(637.8 349) rotate(-90)" font-size="19" style="fill:#4f3a96;stroke:#4f3a96;stroke-width:0.5">(1,0.3)</text>
<text class="b" transform="translate(706.7 360.7) rotate(-90)" font-size="19" style="fill:#4f3a96;stroke:#4f3a96;stroke-width:0.5">(1,0.4)</text>
<text class="b" transform="translate(776.4 360.3) rotate(-90)" font-size="19" style="fill:#4f3a96;stroke:#4f3a96;stroke-width:0.5">(1,0.5)</text>
<text class="b" transform="translate(1158 416.3) rotate(-90)" font-size="25" style="fill:#447fc0;stroke:#447fc0;stroke-width:0.5">(-2,0.2)</text>
<text class="b" transform="translate(1290.6 426) rotate(-90)" font-size="18.5" style="fill:#4f3a96;stroke:#4f3a96;stroke-width:0.5">(-2,0.1)</text>
<g stroke="#4d4d4f" stroke-width="4.6" fill="none" stroke-linecap="butt">
<rect x="132.6" y="110.7" width="1201.8000000000002" height="501.59999999999997"/>
<rect x="132.6" y="612.3" width="1201.8000000000002" height="503.10000000000014"/>
<path d="M332.9 110.7v14M332.9 598.3v28M332.9 1115.4v-14M533.2 110.7v14M533.2 598.3v28M533.2 1115.4v-14M733.5 110.7v14M733.5 598.3v28M733.5 1115.4v-14M933.8 110.7v14M933.8 598.3v28M933.8 1115.4v-14M1134.1 110.7v14M1134.1 598.3v28M1134.1 1115.4v-14M132.6 148h14M1334.4 148h-14M132.6 241h14M1334.4 241h-14M132.6 334h14M1334.4 334h-14M132.6 427h14M1334.4 427h-14M132.6 520h14M1334.4 520h-14M132.6 613h14M1334.4 613h-14M132.6 656h14M1334.4 656h-14M132.6 765.2h14M1334.4 765.2h-14M132.6 874.5h14M1334.4 874.5h-14M132.6 983.8h14M1334.4 983.8h-14M132.6 1093h14M1334.4 1093h-14"/>
<path d="M130.3 1260.6H1336.7M132.6 1260.6v-14.5M326.5 1260.6v-14.5M520.4 1260.6v-14.5M714.3 1260.6v-14.5M908.2 1260.6v-14.5M1102.1 1260.6v-14.5M1296 1260.6v-14.5"/>
</g>
<g font-size="37.5" text-anchor="middle">
<text x="131.8" y="1162">0</text>
<text x="332.1" y="1162">50</text>
<text x="532.4" y="1162">100</text>
<text x="732.7" y="1162">150</text>
<text x="933" y="1162">200</text>
<text x="1133.3" y="1162">250</text>
<text x="1333.6" y="1162">300</text>
<text x="131.8" y="1307.9">0</text>
<text x="325.7" y="1307.9">20</text>
<text x="519.6" y="1307.9">40</text>
<text x="713.5" y="1307.9">60</text>
<text x="907.4" y="1307.9">80</text>
<text x="1101.3" y="1307.9">100</text>
<text x="1295.2" y="1307.9">120</text>
</g>
<g font-size="37.5" text-anchor="end">
<text x="121.0" y="161.6">0</text>
<text x="118.4" y="254.6">-5</text>
<text x="118.4" y="347.6">-10</text>
<text x="118.4" y="440.6">-15</text>
<text x="118.4" y="533.6">-20</text>
<text x="118.4" y="626.6">-25</text>
<text x="121.0" y="669.6">0</text>
<text x="118.4" y="778.9">-5</text>
<text x="118.4" y="888.1">-10</text>
<text x="118.4" y="997.4">-15</text>
<text x="118.4" y="1106.6">-20</text>
</g>
<text x="732.5" y="1216" font-size="45" text-anchor="middle">Harmonic Order</text>
<text x="740" y="1362" font-size="45" text-anchor="middle">Energy (eV)</text>
<text transform="translate(34.3 613.8) rotate(-90)" font-size="45.5" text-anchor="middle">Yield log<tspan font-size="24.7" dy="14">10</tspan><tspan dy="-14"> scale, arb. units)</tspan></text>
<rect x="735.4" y="78.6" width="651.1" height="214.6" fill="#fff"/>
<g clip-path="url(#cia)" stroke-width="2.6" stroke-linejoin="round">
<path d="M715.4 102.4L736.9 102.4 737.4 113.8 738 98.1 738.5 106.7 739.1 92.8 739.6 105.8 740.2 102.7 740.7 103.3 741.3 92.9 741.8 111.8 742.4 96.6 742.9 105.5 743.5 95.7 744 112.2 744.6 98.7 745.1 111.4 745.7 96.2 746.2 108.7 746.8 98.1 747.3 105.4 747.9 97.7 748.4 107.5 749 99.9 749.5 106.1 750.1 105.3 750.6 113.3 751.2 96.9 751.7 114.1 752.3 101.3 752.8 107.3 753.4 101.1 753.9 107.9 754.5 100.6 755 112.3 755.6 99.6 756.1 112 756.7 103.8 757.2 112.7 757.8 100.7 758.3 116.7 758.9 103.4 759.4 118.6 760 103.1 760.5 115.4 761.1 107.3 761.6 118 762.2 106.6 762.7 116.7 763.3 104.8 763.8 123.6 764.4 106.1 764.9 124.5 765.5 111.8 766 131.2 766.6 117.9 767.1 137 767.7 124.6 768.2 136.9 768.8 131.5 769.3 146.4 769.9 134.9 770.4 145.4 771 132.3 771.5 146.9 772.1 131.6 772.6 147.4 773.2 134.6 773.7 144.7 774.3 135.6 774.8 143.1 775.4 133.2 775.9 148.3 776.5 133.5 777 148.2 777.6 135.4 778.1 150.7 778.7 138.2 779.2 157.5 779.8 137.8 780.3 145.3 780.9 137.9 781.4 151.9 782 136.8 782.5 150 783.1 137.9 783.6 154.1 784.2 137.6 784.7 150 785.3 136.4 785.8 150.8 786.4 140.7 786.9 155.8 787.5 143 788 151.3 788.6 143.9 789.1 150.5 789.7 143.3 790.2 150.7 790.8 144.7 791.3 150.4 791.9 144.4 792.4 157.3 793 140.7 793.5 155.1 794.1 141.8 794.6 155.2 795.2 143.9 795.7 152.4 796.3 146.1 796.8 154.3 797.4 144.2 797.9 152.8 798.5 142.1 799 154.4 799.6 144.4 800.1 161.1 800.7 151.3 801.2 157.7 801.8 145.9 802.3 159.7 802.9 148.7 803.4 157.3 804 148.7 804.5 158.5 805.1 148.9 805.6 163 806.2 150 806.7 164.3 807.3 152.7 807.8 160 808.4 150.6 808.9 162.9 809.5 153.2 810 165 810.6 153.9 811.1 166.7 811.7 158.6 812.2 174 812.8 158.8 813.3 171.2 813.9 160.6 814.4 174.9 815 163.5 815.5 177.9 816.1 162 816.6 176.8 817.2 162.6 817.7 178.6 818.3 169.3 818.8 179.8 819.4 165.2 819.9 179.4 820.5 166.2 821 176.7 821.6 166.8 822.1 175.2 822.7 165 823.2 180 823.8 167.8 824.3 182.7 824.9 165.3 825.4 180.5 826 168.1 826.5 180.9 827.1 169.6 827.6 180.4 828.2 168.8 828.7 180.3 829.3 169.2 829.8 178.3 830.4 169 830.9 186.8 831.5 167 832 184.9 832.6 170.3 833.1 184.7 833.7 167.8 834.2 180.5 834.8 167.8 835.3 177.2 835.9 166.5 836.4 179 837 171.4 837.5 178.4 838.1 170.6 838.6 179.3 839.2 167.1 839.7 185.8 840.3 170.7 840.8 181.7 841.4 170.1 841.9 181.4 842.5 168.7 843 181.8 843.6 172.5 844.1 179.5 844.7 171.5 845.2 180 845.8 168.6 846.3 180.8 846.9 168.1 847.4 186.1 848 169.8 848.5 179.7 849.1 167.8 849.6 178.9 850.2 169.2 850.7 182 851.3 171.5 851.8 187 852.4 173.3 852.9 180.8 853.5 171.8 854 186.7 854.6 169 855.1 186.2 855.7 170.8 856.2 185.7 856.8 170.5 857.3 184.5 857.9 171.7 858.4 186.6 859 173.2 859.5 186.5 860.1 171.8 860.6 182.9 861.2 174.6 861.7 182.9 862.3 174.3 862.8 189.8 863.4 171.5 863.9 183 864.5 169.9 865 182.4 865.6 170.9 866.1 180.7 866.7 172.8 867.2 184 867.8 170 868.3 181.7 868.9 175.2 869.4 181.6 870 172.2 870.5 188.7 871.1 170.8 871.6 184.2 872.2 174.8 872.7 180.9 873.3 170.8 873.8 188.8 874.4 174.4 874.9 183.2 875.5 173.3 876 183.2 876.6 175.7 877.1 189.3 877.7 171.1 878.2 185.7 878.8 171.9 879.3 184.8 879.9 175.1 880.4 187.5 881 172.1 881.5 184.4 882.1 173.5 882.6 184.9 883.2 175.1 883.7 188.4 884.3 173.2 884.8 185.6 885.4 171.8 885.9 185 886.5 176.9 887 186.3 887.6 174.8 888.1 187.3 888.7 174.9 889.2 189 889.8 173.2 890.3 185 890.9 176.9 891.4 186.6 892 177.4 892.5 183.6 893.1 176.6 893.6 186.8 894.2 175.2 894.7 190.6 895.3 173.6 895.8 187.8 896.4 174.6 896.9 186.7 897.5 178.1 898 187.5 898.6 178.3 899.1 184.5 899.7 179.8 900.2 192.9 900.8 178.3 901.3 186.7 901.9 178.5 902.4 187 903 186.8 903.5 186 904.1 175.8 904.6 187.4 905.2 176.8 905.7 193.5 906.3 177.6 906.8 194.2 907.4 177.1 907.9 188.5 908.5 178.3 909 196.8 909.6 183.5 910.1 189.9 910.7 185.1 911.2 192.6 911.8 182.1 912.3 196.5 912.9 182.7 913.4 200.7 914 184.5 914.5 198.1 915.1 186.5 915.6 196.5 916.2 188.1 916.7 203.1 917.3 191.8 917.8 195.7 918.4 189.4 918.9 201.1 919.5 188 920 201.4 920.6 187.1 921.1 206.9 921.7 188.9 922.2 197.3 922.8 189.8 923.3 198.6 923.9 188.3 924.4 205.2 925 190.6 925.5 207.4 926.1 191.6 926.6 206.8 927.2 193.2 927.7 205.5 928.3 190.2 928.8 203.9 929.4 191.9 929.9 199.9 930.5 192.8 931 203.9 931.6 192 932.1 206 932.7 189.8 933.2 209.1 933.8 195.2 934.3 202.7 934.9 191.3 935.4 201 936 191.9 936.5 205.5 937.1 190.6 937.6 203.4 938.2 196.8 938.7 202.5 939.3 195.4 939.8 209.6 940.4 196.3 940.9 205.4 941.5 200.3 942 204.8 942.6 204 943.1 205.3 943.7 195.9 944.2 208.7 944.8 197.1 945.3 206.5 945.9 193.5 946.4 210.5 947 197.4 947.5 204 948.1 193.8 948.6 208.8 949.2 197.5 949.7 211.6 950.3 193.2 950.8 205.2 951.4 195.7 951.9 208.5 952.5 197.9 953 208.8 953.6 196.7 954.1 206.3 954.7 197.6 955.2 209.5 955.8 199.6 956.3 206.3 956.9 195.1 957.4 208 958 196.5 958.5 209 959.1 195.8 959.6 211.4 960.2 199.7 960.7 205.7 961.3 200.4 961.8 206.6 962.4 197.2 962.9 210.1 963.5 198 964 207.9 964.6 199.8 965.1 213.3 965.7 197.1 966.2 207.7 966.8 198.8 967.3 207.6 967.9 201.3 968.4 213.8 969 200.8 969.5 210.1 970.1 200.7 970.6 210 971.2 198.9 971.7 207.7 972.3 196.6 972.8 212.6 973.4 197.6 973.9 215.2 974.5 199.8 975 212.1 975.6 201.8 976.1 209.8 976.7 196.9 977.2 209.2 977.8 199.6 978.3 208.7 978.9 198.7 979.4 213.9 980 199.3 980.5 210.6 981.1 198.6 981.6 212.3 982.2 203.1 982.7 209.3 983.3 202.3 983.8 214.6 984.4 201 984.9 212.7 985.5 200.7 986 209.1 986.6 201.1 987.1 216.8 987.7 202.1 988.2 212.4 988.8 200.6 989.3 216 989.9 198.2 990.4 210.4 991 203.7 991.5 223.3 992.1 203.1 992.6 213.4 993.2 198.7 993.7 220.7 994.3 202.2 994.8 209.8 995.4 201.4 995.9 217.2 996.5 199.1 997 209.7 997.6 199.5 998.1 215.2 998.7 204.1 999.2 210.8 999.8 203.9 1000.3 211.5 1000.9 202.3 1001.4 216.3 1002 200 1002.5 213.9 1003.1 204.4 1003.6 213 1004.2 204.1 1004.7 213.9 1005.3 205 1005.8 213.6 1006.4 204.5 1006.9 210.9 1007.5 201.8 1008 211.6 1008.6 202.3 1009.1 223.7 1009.7 201.5 1010.2 214.3 1010.8 204.2 1011.3 215.8 1011.9 210.9 1012.4 217.1 1013 211 1013.5 214.8 1014.1 210.8 1014.6 212.8 1015.2 205.7 1015.7 214.6 1016.3 202.8 1016.8 219.6 1017.4 203 1017.9 213.5 1018.5 203.7 1019 216.4 1019.6 205.1 1020.1 215.6 1020.7 205.7 1021.2 212.5 1021.8 207.2 1022.3 216.4 1022.9 204.7 1023.4 216.5 1024 213.9 1024.5 219.8 1025.1 205 1025.6 213.8 1026.2 207.9 1026.7 217.3 1027.3 204.8 1027.8 214.2 1028.4 208 1028.9 214.8 1029.5 207.3 1030 217.3 1030.6 206.1 1031.1 219.6 1031.7 203.6 1032.2 218.2 1032.8 206.2 1033.3 217.8 1033.9 203.8 1034.4 214.4 1035 206.7 1035.5 218.4 1036.1 206 1036.6 215.7 1037.2 206.4 1037.7 220.6 1038.3 209.1 1038.8 221.5 1039.4 204.6 1039.9 218.1 1040.5 216.9 1041 222.3 1041.6 208.2 1042.1 222.4 1042.7 209.1 1043.2 216.3 1043.8 210.9 1044.3 220.6 1044.9 208.9 1045.4 218.2 1046 210.8 1046.5 224.7 1047.1 207.8 1047.6 226 1048.2 206.3 1048.7 231.2 1049.3 209.8 1049.8 218.7 1050.4 211 1050.9 221.5 1051.5 211.8 1052 224 1052.6 207.2 1053.1 219.2 1053.7 211.6 1054.2 217.6 1054.8 207.7 1055.3 225.3 1055.9 211.6 1056.4 219.6 1057 215.5 1057.5 217.8 1058.1 207.7 1058.6 217.5 1059.2 210.3 1059.7 222.7 1060.3 207.9 1060.8 224.9 1061.4 210.3 1061.9 223.3 1062.5 211.6 1063 220.3 1063.6 216.8 1064.1 222.4 1064.7 211.5 1065.2 220.4 1065.8 210.5 1066.3 223.6 1066.9 213.5 1067.4 224 1068 213 1068.5 230.6 1069.1 212.5 1069.6 220.9 1070.2 213.7 1070.7 237.9 1071.3 220.9 1071.8 225.5 1072.4 215 1072.9 226.1 1073.5 212.3 1074 226.7 1074.6 212.5 1075.1 232.4 1075.7 214.4 1076.2 224.6 1076.8 215.7 1077.3 231.6 1077.9 214.5 1078.4 232.3 1079 215.6 1079.5 231.4 1080.1 217 1080.6 231.3 1081.2 219.3 1081.7 232.2 1082.3 215.6 1082.8 233 1083.4 215.8 1083.9 231.9 1084.5 215.6 1085 228.4 1085.6 216.3 1086.1 231.4 1086.7 217.6 1087.2 231.2 1087.8 217.2 1088.3 230 1088.9 221.3 1089.4 231.9 1090 219.2 1090.5 233.2 1091.1 222.3 1091.6 230.1 1092.2 217.5 1092.7 229.5 1093.3 218 1093.8 239 1094.4 221.6 1094.9 234.5 1095.5 218.2 1096 229.5 1096.6 219.8 1097.1 235.6 1097.7 220.8 1098.2 233.2 1098.8 219.9 1099.3 233.5 1099.9 221.9 1100.4 231.9 1101 222.1 1101.5 235.7 1102.1 220.9 1102.6 233.4 1103.2 219.9 1103.7 231.9 1104.3 219.6 1104.8 235.4 1105.4 220.1 1105.9 237.8 1106.5 224 1107 235.4 1107.6 224.6 1108.1 240.5 1108.7 222.3 1109.2 235.8 1109.8 225.3 1110.3 235.7 1110.9 221.4 1111.4 231.6 1112 221.1 1112.5 237.9 1113.1 226.2 1113.6 232.9 1114.2 226 1114.7 232.3 1115.3 226.3 1115.8 238.1 1116.4 224.5 1116.9 236.4 1117.5 223.2 1118 250.5 1118.6 223.8 1119.1 235 1119.7 226.8 1120.2 237.9 1120.8 225.6 1121.3 238.1 1121.9 223.5 1122.4 242.9 1123 237.4 1123.5 243.9 1124.1 226.8 1124.6 238.6 1125.2 224.8 1125.7 243.1 1126.3 227.1 1126.8 234.4 1127.4 224.1 1127.9 237.4 1128.5 227.5 1129 242.7 1129.6 227 1130.1 237.5 1130.7 238.6 1131.2 237.6 1131.8 227.5 1132.3 239.3 1132.9 225.1 1133.4 236.3 1134 225.1 1134.5 242.4 1135.1 227.4 1135.6 241.6 1136.2 227.9 1136.7 240.2 1137.3 230.5 1137.8 239.5 1138.4 226.3 1138.9 242 1139.5 226.1 1140 240.9 1140.6 228.2 1141.1 240.3 1141.7 230.4 1142.2 244 1142.8 231.9 1143.3 243.6 1143.9 231.3 1144.4 245.1 1145 229 1145.5 240.2 1146.1 227.1 1146.6 241.3 1147.2 227.4 1147.7 239.5 1148.3 229.6 1148.8 241.3 1149.4 231.8 1149.9 241.9 1150.5 231.6 1151 238.3 1151.6 231.9 1152.1 244.8 1152.7 228 1153.2 241.5 1153.8 231.7 1154.3 239.7 1154.9 232.8 1155.4 247 1156 232.7 1156.5 244.1 1157.1 232.8 1157.6 246.9 1158.2 233.9 1158.7 241.8 1159.3 232.2 1159.8 249 1160.4 233.9 1160.9 239.6 1161.5 230.4 1162 244.1 1162.6 230.1 1163.1 242.9 1163.7 230.9 1164.2 245.1 1164.8 232 1165.3 246.6 1165.9 232.7 1166.4 245.8 1167 229.3 1167.5 245.5 1168.1 234.5 1168.6 241 1169.2 233.9 1169.7 246.6 1170.3 230 1170.8 245.3 1171.4 231.4 1171.9 243.3 1172.5 235.4 1173 245.1 1173.6 232.5 1174.1 256.1 1174.7 232.1 1175.2 241.5 1175.8 235.6 1176.3 241.8 1176.9 235.1 1177.4 248.8 1178 232.7 1178.5 241.5 1179.1 232.6 1179.6 245.1 1180.2 234.5 1180.7 249 1181.3 231.4 1181.8 240.7 1182.4 235.6 1182.9 240.5 1183.5 235.5 1184 248.1 1184.6 235.1 1185.1 243.9 1185.7 231.1 1186.2 252.2 1186.8 232.5 1187.3 246.5 1187.9 234.9 1188.4 244.5 1189 235.2 1189.5 245.5 1190.1 235.3 1190.6 246.9 1191.2 230.8 1191.7 246 1192.3 231.1 1192.8 241.1 1193.4 233.4 1193.9 240.5 1194.5 230.3 1195 243.8 1195.6 231 1196.1 250.3 1196.7 231.6 1197.2 252.4 1197.8 233.1 1198.3 244.9 1198.9 234.8 1199.4 247.5 1200 235.4 1200.5 241.5 1201.1 230.4 1201.6 247 1202.2 232.5 1202.7 241.1 1203.3 233.3 1203.8 243.5 1204.4 231.5 1204.9 246.5 1205.5 234.6 1206 243.1 1206.6 234.2 1207.1 242.9 1207.7 235.6 1208.2 244.4 1208.8 233.3 1209.3 242.5 1209.9 233.3 1210.4 243.5 1211 235.2 1211.5 242.4 1212.1 233.8 1212.6 244.7 1213.2 236 1213.7 246.9 1214.3 239.6 1214.8 242.6 1215.4 231.6 1215.9 246.6 1216.5 236.3 1217 246.2 1217.6 233.5 1218.1 244.7 1218.7 231.3 1219.2 247 1219.8 233.9 1220.3 245.8 1220.9 236 1221.4 247.1 1222 232.7 1222.5 250.1 1223.1 236.7 1223.6 247.8 1224.2 232.2 1224.7 254.6 1225.3 231.5 1225.8 244.5 1226.4 234.1 1226.9 246 1227.5 236.1 1228 246.9 1228.6 235.4 1229.1 246 1229.7 235.9 1230.2 243.8 1230.8 236.9 1231.3 249.5 1231.9 237.1 1232.4 250.5 1233 236.4 1233.5 244.9 1234.1 237.2 1234.6 249.4 1235.2 234.7 1235.7 243.4 1236.3 237.7 1236.8 244.4 1237.4 233.2 1237.9 247.4 1238.5 237.1 1239 245 1239.6 233.5 1240.1 249.5 1240.7 235.6 1241.2 247.7 1241.8 235.8 1242.3 249.8 1242.9 236.9 1243.4 245.2 1244 234.6 1244.5 251.5 1245.1 237.3 1245.6 247.7 1246.2 234.5 1246.7 250.8 1247.3 234.4 1247.8 256.6 1248.4 236.3 1248.9 249.9 1249.5 237 1250 249.4 1250.6 234.3 1251.1 246.5 1251.7 237.5 1252.2 248.7 1252.8 238.5 1253.3 244.4 1253.9 239 1254.4 251.5 1255 235.2 1255.5 244.9 1256.1 234.1 1256.6 252.6 1257.2 238.3 1257.7 252.7 1258.3 238.7 1258.8 248.1 1259.4 235.1 1259.9 249.1 1260.5 235.5 1261 246 1261.6 237.4 1262.1 249.6 1262.7 240 1263.2 251.7 1263.8 234.6 1264.3 246.4 1264.9 237.8 1265.4 251.1 1266 240.3 1266.5 249.9 1267.1 237.5 1267.6 245.4 1268.2 237.4 1268.7 252.8 1269.3 235.5 1269.8 250.3 1270.4 241 1270.9 254.4 1271.5 236.1 1272 249.3 1272.6 237.5 1273.1 255.5 1273.7 241.4 1274.2 249.8 1274.8 239.5 1275.3 253.7 1275.9 237.8 1276.4 249.8 1277 242.6 1277.5 251.4 1278.1 239.9 1278.6 257 1279.2 243.1 1279.7 257 1280.3 243.9 1280.8 254.5 1281.4 240.9 1281.9 256.5 1282.5 243.4 1283 257.2 1283.6 244.6 1284.1 258.1 1284.7 244.7 1285.2 253.2 1285.8 246.6 1286.3 258.1 1286.9 246.9 1287.4 253.2 1288 245.4 1288.5 253.2 1289.1 243.8 1289.6 253.9 1290.2 244.4 1290.7 256.2 1291.3 244.1 1291.8 259.9 1292.4 247.4 1292.9 260.6 1293.5 250 1294 261.7 1294.6 246.1 1295.1 257.9 1295.7 249.6 1296.2 261.1 1296.8 249.5 1297.3 257.8 1297.9 246.3 1298.4 260.1 1299 250.9 1299.5 258.6 1300.1 250.4 1300.6 262.7 1301.2 248.4 1301.7 262.9 1302.3 251.9 1302.8 259 1303.4 248.4 1303.9 260.8 1304.5 248.3 1305 261.2 1305.6 251.6 1306.1 265.4 1306.7 251.5 1307.2 263 1307.8 253.3 1308.3 260.2 1308.9 259.2 1309.4 262.2 1310 253.9 1310.5 260.9 1311.1 250.3 1311.6 260.4 1312.2 251.7 1312.7 265.6 1313.3 251.1 1313.8 267.7 1314.4 254.3 1314.9 262.6 1315.5 253.4 1316 266.1 1316.6 250.9 1317.1 266.2 1317.7 253.9 1318.2 274.1 1318.8 252.2 1319.3 262.2 1319.9 253.8 1320.4 268.5 1321 251.5 1321.5 263.1 1322.1 251.6 1322.6 270 1323.2 255.5 1323.7 262.5 1324.3 256.2 1324.8 265.6 1325.4 251.6 1325.9 262.6 1326.5 253.1 1327 262.5 1327.6 252.8 1328.1 262.9 1328.7 252.8 1329.2 263.4 1329.8 254.6 1330.3 269.8 1330.9 256.8 1331.4 267.4 1332 252.8 1332.5 271.1 1333.1 253 1333.6 263.3 1334.2 257.1 1334.7 268.7 1335.3 257.3 1335.8 265.9 1336.4 258.2 1336.9 271.1 1337.5 253.6 1338 272 1338.6 257.9 1339.1 271.3 1339.7 256.3 1340.2 270.8 1340.8 258.8 1341.3 271.7 1341.9 255.2 1342.4 265.6 1343 257.4 1343.5 268 1344.1 258.7 1344.6 268.1 1345.2 254.7 1345.7 267.5 1346.3 259.3 1346.8 270.3 1347.4 254.9 1347.9 266 1348.5 256.2 1349 272.5 1349.6 257 1350.1 266.8 1350.7 255.3 1351.2 266.7 1351.8 257.2 1352.3 269.9 1352.9 261 1353.4 271.7 1354 258 1354.5 269.8 1355.1 255.7 1355.6 268.3 1356.2 259.3 1356.7 267 1357.3 256.8 1357.8 265.7 1358.4 256.7 1358.9 265.6 1359.5 258.9 1360 273.5 1360.6 255 1361.1 268.1 1361.7 260 1362.2 266.1 1362.8 259.3 1363.3 266.1 1363.9 257.3 1364.4 271.9 1365 259.2 1365.5 272.1 1366.1 256.7 1366.6 269.9 1367.2 263.7 1367.7 273.8 1368.3 259.1 1368.8 268.8 1369.4 257.8 1369.9 270.4 1370.5 257.1 1371 268.3 1371.6 264.5 1372.1 266.9 1372.7 260.6 1373.2 270.3 1373.8 257.8 1374.3 269.7 1374.9 255.3 1375.4 268.5 1376 257.9 1376.5 266.2 1377.1 255.4 1377.6 265.9 1378.2 258.9 1378.7 265.9 1379.3 260.9 1379.8 271.3 1380.4 259.6 1380.9 266.4 1381.5 258.5 1382 267.8 1382.6 260.9 1383.1 269.1 1383.7 256.8 1384.2 269.8 1384.8 257.6 1385.3 267.4 1385.9 260.2 1386.4 268.1L1406.5 268.1L1406.5 313.2L715.4 313.2Z" fill="#a99cc9" stroke="#4f3a96"/>
<path d="M715.4 157.3L736.9 157.3 737.4 161.9 738 150.6 738.5 152.9 739.1 140.8 739.6 142.2 740.2 127.2 740.7 130.7 741.3 123.8 741.8 129.3 742.4 121 742.9 133.8 743.5 120.7 744 134.4 744.6 124 745.1 133.1 745.7 120.6 746.2 129.3 746.8 123.8 747.3 130.6 747.9 122.7 748.4 128.5 749 127.3 749.5 131.6 750.1 124.4 750.6 132.8 751.2 122.6 751.7 135.8 752.3 123.7 752.8 134 753.4 126.5 753.9 134.2 754.5 126.7 755 138.7 755.6 127.7 756.1 137.4 756.7 130.8 757.2 136.8 757.8 131.8 758.3 138.8 758.9 130.8 759.4 143.5 760 131.2 760.5 144.8 761.1 135.9 761.6 146.5 762.2 134.1 762.7 143.8 763.3 144.9 763.8 146.5 764.4 136.8 764.9 150 765.5 143.4 766 156.1 766.6 145.1 767.1 155.9 767.7 152.3 768.2 160.6 768.8 158.7 769.3 173.3 769.9 169.7 770.4 184.2 771 177.1 771.5 183.6 772.1 173.2 772.6 180.5 773.2 168.4 773.7 176.6 774.3 168.8 774.8 176.6 775.4 164.9 775.9 171.3 776.5 162.7 777 170.7 777.6 160.8 778.1 170.2 778.7 160 779.2 170.6 779.8 160.6 780.3 172 780.9 162.9 781.4 173.4 782 163 782.5 167.6 783.1 162.6 783.6 178.7 784.2 163.3 784.7 170.5 785.3 161.8 785.8 170.9 786.4 160.5 786.9 173.6 787.5 164.1 788 169.4 788.6 164.9 789.1 170.7 789.7 162.8 790.2 175.5 790.8 167.4 791.3 173.8 791.9 169.6 792.4 176.6 793 168 793.5 177.6 794.1 169.2 794.6 182.1 795.2 171.5 795.7 183.2 796.3 173.9 796.8 181.2 797.4 176 797.9 188.1 798.5 175.9 799 189.6 799.6 177.2 800.1 189.3 800.7 180.2 801.2 195 801.8 184.8 802.3 197.1 802.9 188.4 803.4 197.4 804 189.5 804.5 203.1 805.1 195.1 805.6 205.5 806.2 197.7 806.7 203.3 807.3 195.9 807.8 205.8 808.4 194.5 808.9 205.3 809.5 197.5 810 203.1 810.6 195.7 811.1 201.4 811.7 195.4 812.2 205 812.8 194.7 813.3 201.4 813.9 192.1 814.4 198.6 815 193.6 815.5 203.2 816.1 191.9 816.6 210.7 817.2 189.9 817.7 201.1 818.3 199.1 818.8 204 819.4 209 819.9 204.1 820.5 199.1 821 203.4 821.6 189.2 822.1 199.9 822.7 187.4 823.2 194.6 823.8 189.5 824.3 199.7 824.9 189 825.4 201.5 826 191.4 826.5 200 827.1 193.1 827.6 202.6 828.2 192.8 828.7 200 829.3 193.3 829.8 203.2 830.4 195.8 830.9 206.1 831.5 193.2 832 204.4 832.6 197.8 833.1 204.7 833.7 197.9 834.2 204.3 834.8 199.1 835.3 204.4 835.9 196.8 836.4 205.1 837 204.2 837.5 208 838.1 199.7 838.6 205 839.2 197.3 839.7 206.8 840.3 197.9 840.8 208.5 841.4 197.4 841.9 208.4 842.5 199.3 843 205.7 843.6 199.3 844.1 207.6 844.7 197.9 845.2 207.5 845.8 200.6 846.3 211.2 846.9 202.1 847.4 210.6 848 200.1 848.5 207.1 849.1 201.5 849.6 210.1 850.2 202.5 850.7 208.3 851.3 201.9 851.8 207.6 852.4 200.7 852.9 210 853.5 203.1 854 209.8 854.6 202.7 855.1 214.1 855.7 204.3 856.2 211.2 856.8 201.5 857.3 212.4 857.9 204.3 858.4 211.7 859 202.5 859.5 207.5 860.1 207.9 860.6 212.8 861.2 214.2 861.7 209.3 862.3 204.3 862.8 203.1 863.4 196.1 863.9 201.1 864.5 191.9 865 203.4 865.6 193.6 866.1 202.4 866.7 192.8 867.2 200.5 867.8 193.5 868.3 202 868.9 195.5 869.4 204 870 197 870.5 204.6 871.1 198.6 871.6 209.9 872.2 200.1 872.7 208.5 873.3 198.8 873.8 210.8 874.4 202.2 874.9 207.4 875.5 203.2 876 213.6 876.6 201.5 877.1 210 877.7 204.6 878.2 212.8 878.8 202.9 879.3 214.6 879.9 207 880.4 216.3 881 204.6 881.5 212.9 882.1 207.5 882.6 217.7 883.2 215.4 883.7 218.9 884.3 210 884.8 220.9 885.4 209.8 885.9 217.4 886.5 209.5 887 219.5 887.6 213.6 888.1 221.6 888.7 211.1 889.2 224.8 889.8 215.3 890.3 221.2 890.9 218.4 891.4 225.8 892 219 892.5 230.9 893.1 225.5 893.6 233.8 894.2 228.1 894.7 241.1 895.3 229.7 895.8 241.2 896.4 231.1 896.9 238.1 897.5 233.5 898 242.5 898.6 232.8 899.1 241.8 899.7 233.1 900.2 243.7 900.8 232.1 901.3 240.7 901.9 233 902.4 241.3 903 235.5 903.5 243.8 904.1 236.5 904.6 245 905.2 237.6 905.7 246.7 906.3 235 906.8 243.1 907.4 237.3 907.9 247.3 908.5 237.4 909 241.9 909.6 235.9 910.1 241.7 910.7 234 911.2 245.5 911.8 234.8 912.3 244.8 912.9 234.1 913.4 244.7 914 232.1 914.5 241.4 915.1 234.3 915.6 242.6 916.2 229.8 916.7 238.1 917.3 230.1 917.8 239.7 918.4 228.7 918.9 239.9 919.5 229.8 920 240.3 920.6 226.3 921.1 233.9 921.7 225.2 922.2 234.5 922.8 225.4 923.3 235.9 923.9 229.2 924.4 232.7 925 221.9 925.5 234.3 926.1 226.8 926.6 228 927.2 220 927.7 230.7 928.3 219.3 928.8 231.8 929.4 220 929.9 230 930.5 219.6 931 228.8 931.6 218.2 932.1 229 932.7 219.4 933.2 228.5 933.8 218.1 934.3 227.9 934.9 218.3 935.4 223.8 936 214.5 936.5 227.6 937.1 215.6 937.6 222.2 938.2 217.7 938.7 227 939.3 224 939.8 228.9 940.4 233.9 940.9 238.8 941.5 240.2 942 235.3 942.6 230.3 943.1 227.2 943.7 220.4 944.2 227.6 944.8 215.4 945.3 225.4 945.9 216.6 946.4 224.2 947 214.5 947.5 222.7 948.1 215.2 948.6 225.6 949.2 217 949.7 223.4 950.3 216 950.8 230.9 951.4 218.9 951.9 227.2 952.5 219.7 953 235.8 953.6 217.4 954.1 225.6 954.7 219 955.2 229.2 955.8 221.5 956.3 231.3 956.9 222.4 957.4 231.7 958 220.8 958.5 231 959.1 220.7 959.6 234.7 960.2 228.1 960.7 230.4 961.3 226.8 961.8 236 962.4 228.6 962.9 233.4 963.5 227.5 964 234.8 964.6 231 965.1 236.4 965.7 231.4 966.2 241.1 966.8 232.3 967.3 241.5 967.9 233.9 968.4 246.1 969 237.2 969.5 245.8 970.1 240.4 970.6 250.5 971.2 241.7 971.7 253.3 972.3 243.2 972.8 254.2 973.4 248.3 973.9 258.5 974.5 248.4 975 258.6 975.6 245.6 976.1 256.8 976.7 245.9 977.2 254.5 977.8 242.8 978.3 249.1 978.9 243.4 979.4 247.6 980 241.7 980.5 246.1 981.1 238.4 981.6 247.5 982.2 239.9 982.7 245.3 983.3 239 983.8 248.1 984.4 237 984.9 243.1 985.5 234.5 986 246 986.6 234.1 987.1 242.7 987.7 233.1 988.2 239 988.8 234 989.3 240.8 989.9 231.8 990.4 241.3 991 230.1 991.5 236.8 992.1 231 992.6 235.4 993.2 227.7 993.7 237.8 994.3 227.1 994.8 236.2 995.4 225.3 995.9 236.9 996.5 227 997 233.5 997.6 226.7 998.1 236 998.7 225.4 999.2 231.8 999.8 222.7 1000.3 236 1000.9 230.1 1001.4 235 1002 240 1002.5 244.9 1003.1 248.1 1003.6 243.2 1004.2 238.2 1004.7 233.3 1005.3 228.3 1005.8 236.3 1006.4 222.3 1006.9 232.5 1007.5 224.9 1008 232.1 1008.6 222.2 1009.1 234.8 1009.7 225 1010.2 231 1010.8 226 1011.3 234.2 1011.9 223.4 1012.4 234.1 1013 224.1 1013.5 236.5 1014.1 225.8 1014.6 231.4 1015.2 225.8 1015.7 235 1016.3 227.5 1016.8 238 1017.4 227.4 1017.9 236.1 1018.5 227.2 1019 234 1019.6 228.5 1020.1 236.6 1020.7 227.8 1021.2 239 1021.8 228.5 1022.3 239.6 1022.9 229.2 1023.4 237.2 1024 231.1 1024.5 242.6 1025.1 230.4 1025.6 238.7 1026.2 231.8 1026.7 244 1027.3 233.2 1027.8 241.8 1028.4 233.7 1028.9 242.4 1029.5 235.3 1030 243.7 1030.6 234.5 1031.1 250.2 1031.7 235.4 1032.2 246.9 1032.8 239.4 1033.3 246.8 1033.9 241.7 1034.4 255.1 1035 247.5 1035.5 258.8 1036.1 247.9 1036.6 261.3 1037.2 253 1037.7 264.8 1038.3 260.6 1038.8 277.1 1039.4 267.8 1039.9 273 1040.5 265.6 1041 262 1041.6 261.8 1042.1 262.2 1042.7 262.1 1043.2 262.4 1043.8 262.1 1044.3 262.6 1044.9 262.3 1045.4 262.6 1046 262.4 1046.5 262.8 1047.1 262.5 1047.6 262.9 1048.2 262.7 1048.7 262.9 1049.3 262.7 1049.8 263.1 1050.4 262.9 1050.9 263.2 1051.5 263.1 1052 263.5 1052.6 263.1 1053.1 263.7 1053.7 263.3 1054.2 263.6 1054.8 263.4 1055.3 263.8 1055.9 263.6 1056.4 263.9 1057 263.8 1057.5 264.1 1058.1 263.9 1058.6 264.3 1059.2 264 1059.7 264.4 1060.3 264.1 1060.8 264.7 1061.4 264.4 1061.9 264.7 1062.5 264.6 1063 265.1 1063.6 264.9 1064.1 265.2 1064.7 265 1065.2 265.6 1065.8 265.3 1066.3 265.7 1066.9 265.6 1067.4 265.9 1068 265.8 1068.5 266.2 1069.1 265.9 1069.6 266.4 1070.2 266.3 1070.7 266.7 1071.3 266.4 1071.8 266.9 1072.4 266.7 1072.9 267.1 1073.5 266.9 1074 267.4 1074.6 267.2 1075.1 276.1 1075.7 271.3 1076.2 279.7 1076.8 270.8 1077.3 276.3 1077.9 268.6 1078.4 277.4 1079 269.1 1079.5 276.7 1080.1 266.4 1080.6 272.5 1081.2 266.7 1081.7 276.5 1082.3 265.3 1082.8 273.2 1083.4 261.7 1083.9 275.1 1084.5 264.1 1085 271.8 1085.6 261.7 1086.1 271.2 1086.7 262.2 1087.2 267.9 1087.8 258.2 1088.3 267 1088.9 257 1089.4 266.6 1090 258.6 1090.5 265.1 1091.1 256.4 1091.6 262.8 1092.2 257.5 1092.7 261.8 1093.3 256.2 1093.8 261.2 1094.4 255.1 1094.9 259.6 1095.5 253.3 1096 261.9 1096.6 251 1097.1 261.6 1097.7 252.1 1098.2 263 1098.8 249.8 1099.3 260 1099.9 249.1 1100.4 261.8 1101 248.8 1101.5 261.5 1102.1 251.2 1102.6 261.5 1103.2 250 1103.7 255.9 1104.3 250.4 1104.8 255.1 1105.4 247.4 1105.9 256.3 1106.5 248.7 1107 254.7 1107.6 248.4 1108.1 255 1108.7 247.1 1109.2 259.4 1109.8 248 1110.3 259.5 1110.9 248.4 1111.4 255.4 1112 248.6 1112.5 256.9 1113.1 246.6 1113.6 254.3 1114.2 256.5 1114.7 261.4 1115.3 266.4 1115.8 268.7 1116.4 263.7 1116.9 258.8 1117.5 253.8 1118 256.4 1118.6 245.6 1119.1 253.8 1119.7 246.3 1120.2 256.1 1120.8 243.2 1121.3 252.1 1121.9 244 1122.4 257.5 1123 245.6 1123.5 254.1 1124.1 245.9 1124.6 253.6 1125.2 245.9 1125.7 255.3 1126.3 249.3 1126.8 256 1127.4 246.3 1127.9 256.2 1128.5 248.2 1129 259.4 1129.6 249.9 1130.1 258.3 1130.7 248.7 1131.2 256 1131.8 248.7 1132.3 258 1132.9 252 1133.4 256.4 1134 255.9 1134.5 261.3 1135.1 250.5 1135.6 261.6 1136.2 254.8 1136.7 263.4 1137.3 254.2 1137.8 266.9 1138.4 263.4 1138.9 266.1 1139.5 256.9 1140 277.7 1140.6 258.2 1141.1 268.7 1141.7 259.9 1142.2 269.1 1142.8 260.4 1143.3 269.6 1143.9 263.5 1144.4 274.3 1145 265.8 1145.5 278.4 1146.1 272.1 1146.6 281.8 1147.2 274.4 1147.7 286.5 1148.3 277 1148.8 283.8 1149.4 275.1 1149.9 284.2 1150.5 276.8 1151 284.5 1151.6 275.7 1152.1 288.7 1152.7 278.8 1153.2 283.8 1153.8 277.3 1154.3 289.4 1154.9 279.4 1155.4 285 1156 276.5 1156.5 284.8 1157.1 275.9 1157.6 288.8 1158.2 279.8 1158.7 284 1159.3 280.1 1159.8 285.9 1160.4 277.9 1160.9 288.6 1161.5 276.9 1162 289.3 1162.6 277 1163.1 283.9 1163.7 276.7 1164.2 283.8 1164.8 275.9 1165.3 282 1165.9 275.1 1166.4 285.2 1167 274 1167.5 282.6 1168.1 272.9 1168.6 280 1169.2 274.2 1169.7 281.7 1170.3 272.7 1170.8 280 1171.4 271 1171.9 278.1 1172.5 269.2 1173 278.1 1173.6 267.2 1174.1 275.2 1174.7 264.9 1175.2 276.7 1175.8 263.9 1176.3 273.5 1176.9 263.6 1177.4 269.7 1178 262.6 1178.5 271.4 1179.1 263.1 1179.6 268.1 1180.2 261.1 1180.7 273 1181.3 261.1 1181.8 269.2 1182.4 260.6 1182.9 266.5 1183.5 265 1184 266.6 1184.6 260.2 1185.1 266 1185.7 259.2 1186.2 264.8 1186.8 256.9 1187.3 268.1 1187.9 256.2 1188.4 266.5 1189 257.7 1189.5 267.1 1190.1 258.1 1190.6 266.7 1191.2 256.7 1191.7 263.9 1192.3 256.4 1192.8 262.5 1193.4 263.7 1193.9 262.6 1194.5 254.2 1195 262.7 1195.6 255.7 1196.1 266.5 1196.7 255 1197.2 265.9 1197.8 259.2 1198.3 264.1 1198.9 269.1 1199.4 274 1200 279 1200.5 274.1 1201.1 269.1 1201.6 264.2 1202.2 259.2 1202.7 262 1203.3 252.3 1203.8 260.1 1204.4 253.7 1204.9 262.6 1205.5 253.7 1206 261.4 1206.6 252.6 1207.1 262.4 1207.7 253 1208.2 260.9 1208.8 254.7 1209.3 262.2 1209.9 252.6 1210.4 265.8 1211 253.9 1211.5 262.5 1212.1 254.8 1212.6 275.1 1213.2 255.9 1213.7 261.9 1214.3 255.9 1214.8 263.5 1215.4 256.9 1215.9 267.7 1216.5 258.5 1217 267 1217.6 257.4 1218.1 268.6 1218.7 264.8 1219.2 267.5 1219.8 258.4 1220.3 267.6 1220.9 260.3 1221.4 269.2 1222 261.8 1222.5 269.8 1223.1 263.3 1223.6 270 1224.2 264.4 1224.7 271.9 1225.3 265.8 1225.8 273.7 1226.4 268.2 1226.9 277.2 1227.5 271.8 1228 278 1228.6 271.9 1229.1 281.7 1229.7 274.2 1230.2 283.7 1230.8 277.5 1231.3 283.8 1231.9 278.6 1232.4 288 1233 280.9 1233.5 291.7 1234.1 280.7 1234.6 290.9 1235.2 281.5 1235.7 292 1236.3 279.9 1236.8 285.7 1237.4 280.9 1237.9 288.6 1238.5 277.1 1239 286.3 1239.6 279.5 1240.1 290 1240.7 281.3 1241.2 290.8 1241.8 281 1242.3 285.6 1242.9 279 1243.4 290.7 1244 280.6 1244.5 286.6 1245.1 279.6 1245.6 286.9 1246.2 287.2 1246.7 290.9 1247.3 278.7 1247.8 291.3 1248.4 277.2 1248.9 291.5 1249.5 280.6 1250 288.5 1250.6 279.4 1251.1 287.1 1251.7 279.3 1252.2 290.2 1252.8 280.1 1253.3 289.1 1253.9 277.6 1254.4 287.1 1255 281.4 1255.5 293.8 1256.1 278.8 1256.6 288 1257.2 280.8 1257.7 293.9 1258.3 279.5 1258.8 287.9 1259.4 278 1259.9 287.3 1260.5 278 1261 290.7 1261.6 281.5 1262.1 290.4 1262.7 279.3 1263.2 289.3 1263.8 279.3 1264.3 291 1264.9 277.6 1265.4 285.5 1266 280.2 1266.5 288.4 1267.1 280.4 1267.6 291.5 1268.2 277.9 1268.7 290.4 1269.3 280.3 1269.8 289.5 1270.4 278.7 1270.9 289.3 1271.5 283 1272 285.9 1272.6 287.8 1273.1 285.3 1273.7 278.5 1274.2 289.8 1274.8 281.1 1275.3 291.2 1275.9 278.5 1276.4 285.3 1277 281.1 1277.5 286 1278.1 280.1 1278.6 286.7 1279.2 280.8 1279.7 285.9 1280.3 281.2 1280.8 286 1281.4 279.7 1281.9 291 1282.5 277.7 1283 288 1283.6 281.5 1284.1 291.6 1284.7 279.7 1285.2 291.4 1285.8 281.4 1286.3 289.1 1286.9 280.6 1287.4 288.7 1288 278.9 1288.5 291.8 1289.1 278.7 1289.6 287.9 1290.2 278.5 1290.7 286.8 1291.3 278.6 1291.8 287.1 1292.4 280.9 1292.9 290.3 1293.5 279.5 1294 290.7 1294.6 280.4 1295.1 291.6 1295.7 277.7 1296.2 287.3 1296.8 280.9 1297.3 287.6 1297.9 277 1298.4 286.9 1299 277.8 1299.5 289.6 1300.1 281 1300.6 288.2 1301.2 279.4 1301.7 287.7 1302.3 278.2 1302.8 285.7 1303.4 281.4 1303.9 288.3 1304.5 280.2 1305 289.4 1305.6 281.4 1306.1 291.1 1306.7 280.4 1307.2 287.6 1307.8 289.8 1308.3 286.3 1308.9 279.7 1309.4 288.6 1310 277.2 1310.5 290.8 1311.1 277.9 1311.6 288.6 1312.2 279.2 1312.7 287.5 1313.3 278.6 1313.8 290.5 1314.4 281.2 1314.9 289.8 1315.5 279.4 1316 286.5 1316.6 277.1 1317.1 289.5 1317.7 280.3 1318.2 291 1318.8 278.4 1319.3 289.2 1319.9 278.6 1320.4 286 1321 280.4 1321.5 291.5 1322.1 279 1322.6 290.3 1323.2 280.8 1323.7 285.7 1324.3 279.9 1324.8 287.5 1325.4 278.8 1325.9 290.6 1326.5 278.3 1327 291.1 1327.6 280.7 1328.1 285.4 1328.7 277.9 1329.2 291.8 1329.8 278.5 1330.3 291.6 1330.9 280.1 1331.4 288.6 1332 278.6 1332.5 289 1333.1 279.4 1333.6 286.6 1334.2 280.6 1334.7 291.8 1335.3 277 1335.8 290.9 1336.4 281.4 1336.9 289.5 1337.5 278.9 1338 286.6 1338.6 278 1339.1 291.8 1339.7 277.5 1340.2 290 1340.8 279.7 1341.3 288.6 1341.9 279.5 1342.4 291.7 1343 279.5 1343.5 288.9 1344.1 279.8 1344.6 289.9 1345.2 279.5 1345.7 290.5 1346.3 281.3 1346.8 290 1347.4 281 1347.9 286.3 1348.5 279.2 1349 288.3 1349.6 280.7 1350.1 287.5 1350.7 278.5 1351.2 288.5 1351.8 278 1352.3 288.4 1352.9 279.7 1353.4 286.9 1354 277.9 1354.5 290.3 1355.1 280.9 1355.6 289.4 1356.2 280.2 1356.7 285.9 1357.3 279.9 1357.8 289 1358.4 277 1358.9 287.2 1359.5 281 1360 287 1360.6 277.9 1361.1 289.1 1361.7 277.6 1362.2 288 1362.8 280.2 1363.3 286.5 1363.9 279.1 1364.4 285.7 1365 278.6 1365.5 291.3 1366.1 279.4 1366.6 290.9 1367.2 279.8 1367.7 287.9 1368.3 280 1368.8 295.3 1369.4 279.3 1369.9 289.5 1370.5 281.1 1371 287 1371.6 280 1372.1 290.1 1372.7 281 1373.2 288.4 1373.8 280.7 1374.3 290.3 1374.9 279.4 1375.4 287 1376 278.8 1376.5 289.4 1377.1 279.3 1377.6 290.6 1378.2 283.5 1378.7 288.8 1379.3 281.1 1379.8 287.8 1380.4 279.8 1380.9 287.2 1381.5 281.2 1382 290.7 1382.6 277.7 1383.1 291.7 1383.7 280 1384.2 287.9 1384.8 277.9 1385.3 287.6 1385.9 279.6 1386.4 290.3L1406.5 290.3L1406.5 313.2L715.4 313.2Z" fill="#c5dceb" stroke="#457bbc"/>
<path d="M771.8 121.5V136M777.6 122.4V136.9M783 125.6V140.1M788 128.5V143M819.4 152.8V167.3M830.3 156.3V170.8M840.8 157.4V171.9M851.2 158.6V173.1M861.7 159.7V174.2M872 160.8V175.3M883.3 161.7V176.2M894.2 163V177.5M909.3 169.1V183.6M925 177.8V192.2M941.3 181.8V196.3M957 184.9V199.4M973 187V201.5M989 188.5V203M1004.7 190.1V204.6M1020.3 192.2V206.7M1036 194.6V209.1M1052.3 197.1V211.6M1073.5 202.2V216.7M1094.4 207.8V222.3M1115.7 212.1V226.6M1136.6 216V230.5M1157.5 218.9V233.4M1179 220.5V235M1200 220.6V235.1M1221 221.8V236.3M1242.3 222.9V237.4M1263.7 225V239.5M1290 233.7V248.2M1316 240.6V255.1M1342.9 244.2V258.7M1368.9 245.4V259.9" fill="none" stroke="#4f3a96" stroke-width="3"/>
</g>
<g stroke="#3f78c0" stroke-width="3" stroke-dasharray="12.5 12.5" fill="none">
<path d="M750.4 80.9V291.2"/>
<path d="M771.9 80.9V291.2"/>
<path d="M819.3 80.9V291.2"/>
<path d="M861.5 80.9V291.2"/>
<path d="M941.2 80.9V291.2"/>
<path d="M1004.6 80.9V291.2"/>
<path d="M1115.7 80.9V291.2"/>
<path d="M1200.3 80.9V291.2"/>
<path d="M1343 80.9V291.2"/>
</g>
<g stroke="#4d4d4f" stroke-width="4.6" fill="none">
<rect x="735.4" y="78.6" width="651.1" height="214.6"/>
<path d="M1061 78.6v8M1061 293.2v-8M735.4 185.9h8M1386.5 185.9h-8"/>
</g>
<g font-size="32" text-anchor="end">
<text x="727" y="89.8">0</text>
<text x="724" y="197.1">-20</text>
<text x="724" y="304.6">-40</text>
</g>
<g font-size="32" text-anchor="middle">
<text x="735.4" y="332.2">0</text>
<text x="1061" y="332.2">1000</text>
<text x="1384.9" y="332.2">2000</text>
</g>
<text x="1017.6" y="359.2" font-size="31" text-anchor="middle">Harmonic Order</text>
<text transform="translate(667.3 187) rotate(-90)" font-size="31" text-anchor="middle">Yield</text>
<rect x="735.4" y="580.0" width="651.1" height="214.60000000000002" fill="#fff"/>
<g clip-path="url(#cib)" stroke-width="2.6" stroke-linejoin="round">
<path d="M715.4 603.8L736.9 603.8 737.4 615.2 738 599.5 738.5 608.1 739.1 594.2 739.6 607.2 740.2 604.1 740.7 604.7 741.3 594.3 741.8 613.2 742.4 598 742.9 606.9 743.5 597.1 744 613.6 744.6 600.1 745.1 612.8 745.7 597.6 746.2 610.1 746.8 599.5 747.3 606.8 747.9 599.1 748.4 608.9 749 601.3 749.5 607.5 750.1 606.7 750.6 614.7 751.2 598.3 751.7 615.5 752.3 602.7 752.8 608.7 753.4 602.5 753.9 609.3 754.5 602 755 613.7 755.6 601 756.1 613.4 756.7 605.2 757.2 614.1 757.8 602.1 758.3 618.1 758.9 604.8 759.4 620 760 604.5 760.5 616.8 761.1 608.7 761.6 619.4 762.2 608 762.7 618.1 763.3 606.2 763.8 625 764.4 607.5 764.9 625.9 765.5 613.2 766 632.6 766.6 619.3 767.1 638.4 767.7 626 768.2 638.3 768.8 632.9 769.3 647.8 769.9 636.3 770.4 646.8 771 633.7 771.5 648.3 772.1 633 772.6 648.8 773.2 636 773.7 646.1 774.3 637 774.8 644.5 775.4 634.6 775.9 649.7 776.5 634.9 777 649.6 777.6 636.8 778.1 652.1 778.7 639.6 779.2 658.9 779.8 639.2 780.3 646.7 780.9 639.3 781.4 653.3 782 638.2 782.5 651.4 783.1 639.3 783.6 655.5 784.2 639 784.7 651.4 785.3 637.8 785.8 652.2 786.4 642.1 786.9 657.2 787.5 644.4 788 652.7 788.6 645.3 789.1 651.9 789.7 644.7 790.2 652.1 790.8 646.1 791.3 651.8 791.9 645.8 792.4 658.7 793 642.1 793.5 656.5 794.1 643.2 794.6 656.6 795.2 645.3 795.7 653.8 796.3 647.5 796.8 655.7 797.4 645.6 797.9 654.2 798.5 643.5 799 655.8 799.6 645.8 800.1 662.5 800.7 652.7 801.2 659.1 801.8 647.3 802.3 661.1 802.9 650.1 803.4 658.7 804 650.1 804.5 659.9 805.1 650.3 805.6 664.4 806.2 651.4 806.7 665.7 807.3 654.1 807.8 661.4 808.4 652 808.9 664.3 809.5 654.6 810 666.4 810.6 655.3 811.1 668.1 811.7 660 812.2 675.4 812.8 660.2 813.3 672.6 813.9 662 814.4 676.3 815 664.9 815.5 679.3 816.1 663.4 816.6 678.2 817.2 664 817.7 680 818.3 670.7 818.8 681.2 819.4 666.6 819.9 680.8 820.5 667.6 821 678.1 821.6 668.2 822.1 676.6 822.7 666.4 823.2 681.4 823.8 669.2 824.3 684.1 824.9 666.7 825.4 681.9 826 669.5 826.5 682.3 827.1 671 827.6 681.8 828.2 670.2 828.7 681.7 829.3 670.6 829.8 679.7 830.4 670.4 830.9 688.2 831.5 668.4 832 686.3 832.6 671.7 833.1 686.1 833.7 669.2 834.2 681.9 834.8 669.2 835.3 678.6 835.9 667.9 836.4 680.4 837 672.8 837.5 679.8 838.1 672 838.6 680.7 839.2 668.5 839.7 687.2 840.3 672.1 840.8 683.1 841.4 671.5 841.9 682.8 842.5 670.1 843 683.2 843.6 673.9 844.1 680.9 844.7 672.9 845.2 681.4 845.8 670 846.3 682.2 846.9 669.5 847.4 687.5 848 671.2 848.5 681.1 849.1 669.2 849.6 680.3 850.2 670.6 850.7 683.4 851.3 672.9 851.8 688.4 852.4 674.7 852.9 682.2 853.5 673.2 854 688.1 854.6 670.4 855.1 687.6 855.7 672.2 856.2 687.1 856.8 671.9 857.3 685.9 857.9 673.1 858.4 688 859 674.6 859.5 687.9 860.1 673.2 860.6 684.3 861.2 676 861.7 684.3 862.3 675.7 862.8 691.2 863.4 672.9 863.9 684.4 864.5 671.3 865 683.8 865.6 672.3 866.1 682.1 866.7 674.2 867.2 685.4 867.8 671.4 868.3 683.1 868.9 676.6 869.4 683 870 673.6 870.5 690.1 871.1 672.2 871.6 685.6 872.2 676.2 872.7 682.3 873.3 672.2 873.8 690.2 874.4 675.8 874.9 684.6 875.5 674.7 876 684.6 876.6 677.1 877.1 690.7 877.7 672.5 878.2 687.1 878.8 673.3 879.3 686.2 879.9 676.5 880.4 688.9 881 673.5 881.5 685.8 882.1 674.9 882.6 686.3 883.2 676.5 883.7 689.8 884.3 674.6 884.8 687 885.4 673.2 885.9 686.4 886.5 678.3 887 687.7 887.6 676.2 888.1 688.7 888.7 676.3 889.2 690.4 889.8 674.6 890.3 686.4 890.9 678.3 891.4 688 892 678.8 892.5 685 893.1 678 893.6 688.2 894.2 676.6 894.7 692 895.3 675 895.8 689.2 896.4 676 896.9 688.1 897.5 679.5 898 688.9 898.6 679.7 899.1 685.9 899.7 681.2 900.2 694.3 900.8 679.7 901.3 688.1 901.9 679.9 902.4 688.4 903 688.2 903.5 687.4 904.1 677.2 904.6 688.8 905.2 678.2 905.7 694.9 906.3 679 906.8 695.6 907.4 678.5 907.9 689.9 908.5 679.7 909 698.2 909.6 684.9 910.1 691.3 910.7 686.5 911.2 694 911.8 683.5 912.3 697.9 912.9 684.1 913.4 702.1 914 685.9 914.5 699.5 915.1 687.9 915.6 697.9 916.2 689.5 916.7 704.5 917.3 693.2 917.8 697.1 918.4 690.8 918.9 702.5 919.5 689.4 920 702.8 920.6 688.5 921.1 708.3 921.7 690.3 922.2 698.7 922.8 691.2 923.3 700 923.9 689.7 924.4 706.6 925 692 925.5 708.8 926.1 693 926.6 708.2 927.2 694.6 927.7 706.9 928.3 691.6 928.8 705.3 929.4 693.3 929.9 701.3 930.5 694.2 931 705.3 931.6 693.4 932.1 707.4 932.7 691.2 933.2 710.5 933.8 696.6 934.3 704.1 934.9 692.7 935.4 702.4 936 693.3 936.5 706.9 937.1 692 937.6 704.8 938.2 698.2 938.7 703.9 939.3 696.8 939.8 711 940.4 697.7 940.9 706.8 941.5 701.7 942 706.2 942.6 705.4 943.1 706.7 943.7 697.3 944.2 710.1 944.8 698.5 945.3 707.9 945.9 694.9 946.4 711.9 947 698.8 947.5 705.4 948.1 695.2 948.6 710.2 949.2 698.9 949.7 713 950.3 694.6 950.8 706.6 951.4 697.1 951.9 709.9 952.5 699.3 953 710.2 953.6 698.1 954.1 707.7 954.7 699 955.2 710.9 955.8 701 956.3 707.7 956.9 696.5 957.4 709.4 958 697.9 958.5 710.4 959.1 697.2 959.6 712.8 960.2 701.1 960.7 707.1 961.3 701.8 961.8 708 962.4 698.6 962.9 711.5 963.5 699.4 964 709.3 964.6 701.2 965.1 714.7 965.7 698.5 966.2 709.1 966.8 700.2 967.3 709 967.9 702.7 968.4 715.2 969 702.2 969.5 711.5 970.1 702.1 970.6 711.4 971.2 700.3 971.7 709.1 972.3 698 972.8 714 973.4 699 973.9 716.6 974.5 701.2 975 713.5 975.6 703.2 976.1 711.2 976.7 698.3 977.2 710.6 977.8 701 978.3 710.1 978.9 700.1 979.4 715.3 980 700.7 980.5 712 981.1 700 981.6 713.7 982.2 704.5 982.7 710.7 983.3 703.7 983.8 716 984.4 702.4 984.9 714.1 985.5 702.1 986 710.5 986.6 702.5 987.1 718.2 987.7 703.5 988.2 713.8 988.8 702 989.3 717.4 989.9 699.6 990.4 711.8 991 705.1 991.5 724.7 992.1 704.5 992.6 714.8 993.2 700.1 993.7 722.1 994.3 703.6 994.8 711.2 995.4 702.8 995.9 718.6 996.5 700.5 997 711.1 997.6 700.9 998.1 716.6 998.7 705.5 999.2 712.2 999.8 705.3 1000.3 712.9 1000.9 703.7 1001.4 717.7 1002 701.4 1002.5 715.3 1003.1 705.8 1003.6 714.4 1004.2 705.5 1004.7 715.3 1005.3 706.4 1005.8 715 1006.4 705.9 1006.9 712.3 1007.5 703.2 1008 713 1008.6 703.7 1009.1 725.1 1009.7 702.9 1010.2 715.7 1010.8 705.6 1011.3 717.2 1011.9 712.3 1012.4 718.5 1013 712.4 1013.5 716.2 1014.1 712.2 1014.6 714.2 1015.2 707.1 1015.7 716 1016.3 704.2 1016.8 721 1017.4 704.4 1017.9 714.9 1018.5 705.1 1019 717.8 1019.6 706.5 1020.1 717 1020.7 707.1 1021.2 713.9 1021.8 708.6 1022.3 717.8 1022.9 706.1 1023.4 717.9 1024 715.3 1024.5 721.2 1025.1 706.4 1025.6 715.2 1026.2 709.3 1026.7 718.7 1027.3 706.2 1027.8 715.6 1028.4 709.4 1028.9 716.2 1029.5 708.7 1030 718.7 1030.6 707.5 1031.1 721 1031.7 705 1032.2 719.6 1032.8 707.6 1033.3 719.2 1033.9 705.2 1034.4 715.8 1035 708.1 1035.5 719.8 1036.1 707.4 1036.6 717.1 1037.2 707.8 1037.7 722 1038.3 710.5 1038.8 722.9 1039.4 706 1039.9 719.5 1040.5 718.3 1041 723.7 1041.6 709.6 1042.1 723.8 1042.7 710.5 1043.2 717.7 1043.8 712.3 1044.3 722 1044.9 710.3 1045.4 719.6 1046 712.2 1046.5 726.1 1047.1 709.2 1047.6 727.4 1048.2 707.7 1048.7 732.6 1049.3 711.2 1049.8 720.1 1050.4 712.4 1050.9 722.9 1051.5 713.2 1052 725.4 1052.6 708.6 1053.1 720.6 1053.7 713 1054.2 719 1054.8 709.1 1055.3 726.7 1055.9 713 1056.4 721 1057 716.9 1057.5 719.2 1058.1 709.1 1058.6 718.9 1059.2 711.7 1059.7 724.1 1060.3 709.3 1060.8 726.3 1061.4 711.7 1061.9 724.7 1062.5 713 1063 721.7 1063.6 718.2 1064.1 723.8 1064.7 712.9 1065.2 721.8 1065.8 711.9 1066.3 725 1066.9 714.9 1067.4 725.4 1068 714.4 1068.5 732 1069.1 713.9 1069.6 722.3 1070.2 715.1 1070.7 739.3 1071.3 722.3 1071.8 726.9 1072.4 716.4 1072.9 727.5 1073.5 713.7 1074 728.1 1074.6 713.9 1075.1 733.8 1075.7 715.8 1076.2 726 1076.8 717.1 1077.3 733 1077.9 715.9 1078.4 733.7 1079 717 1079.5 732.8 1080.1 718.4 1080.6 732.7 1081.2 720.7 1081.7 733.6 1082.3 717 1082.8 734.4 1083.4 717.2 1083.9 733.3 1084.5 717 1085 729.8 1085.6 717.7 1086.1 732.8 1086.7 719 1087.2 732.6 1087.8 718.6 1088.3 731.4 1088.9 722.7 1089.4 733.3 1090 720.6 1090.5 734.6 1091.1 723.7 1091.6 731.5 1092.2 718.9 1092.7 730.9 1093.3 719.4 1093.8 740.4 1094.4 723 1094.9 735.9 1095.5 719.6 1096 730.9 1096.6 721.2 1097.1 737 1097.7 722.2 1098.2 734.6 1098.8 721.3 1099.3 734.9 1099.9 723.3 1100.4 733.3 1101 723.5 1101.5 737.1 1102.1 722.3 1102.6 734.8 1103.2 721.3 1103.7 733.3 1104.3 721 1104.8 736.8 1105.4 721.5 1105.9 739.2 1106.5 725.4 1107 736.8 1107.6 726 1108.1 741.9 1108.7 723.7 1109.2 737.2 1109.8 726.7 1110.3 737.1 1110.9 722.8 1111.4 733 1112 722.5 1112.5 739.3 1113.1 727.6 1113.6 734.3 1114.2 727.4 1114.7 733.7 1115.3 727.7 1115.8 739.5 1116.4 725.9 1116.9 737.8 1117.5 724.6 1118 751.9 1118.6 725.2 1119.1 736.4 1119.7 728.2 1120.2 739.3 1120.8 727 1121.3 739.5 1121.9 724.9 1122.4 744.3 1123 738.8 1123.5 745.3 1124.1 728.2 1124.6 740 1125.2 726.2 1125.7 744.5 1126.3 728.5 1126.8 735.8 1127.4 725.5 1127.9 738.8 1128.5 728.9 1129 744.1 1129.6 728.4 1130.1 738.9 1130.7 740 1131.2 739 1131.8 728.9 1132.3 740.7 1132.9 726.5 1133.4 737.7 1134 726.5 1134.5 743.8 1135.1 728.8 1135.6 743 1136.2 729.3 1136.7 741.6 1137.3 731.9 1137.8 740.9 1138.4 727.7 1138.9 743.4 1139.5 727.5 1140 742.3 1140.6 729.6 1141.1 741.7 1141.7 731.8 1142.2 745.4 1142.8 733.3 1143.3 745 1143.9 732.7 1144.4 746.5 1145 730.4 1145.5 741.6 1146.1 728.5 1146.6 742.7 1147.2 728.8 1147.7 740.9 1148.3 731 1148.8 742.7 1149.4 733.2 1149.9 743.3 1150.5 733 1151 739.7 1151.6 733.3 1152.1 746.2 1152.7 729.4 1153.2 742.9 1153.8 733.1 1154.3 741.1 1154.9 734.2 1155.4 748.4 1156 734.1 1156.5 745.5 1157.1 734.2 1157.6 748.3 1158.2 735.3 1158.7 743.2 1159.3 733.6 1159.8 750.4 1160.4 735.3 1160.9 741 1161.5 731.8 1162 745.5 1162.6 731.5 1163.1 744.3 1163.7 732.3 1164.2 746.5 1164.8 733.4 1165.3 748 1165.9 734.1 1166.4 747.2 1167 730.7 1167.5 746.9 1168.1 735.9 1168.6 742.4 1169.2 735.3 1169.7 748 1170.3 731.4 1170.8 746.7 1171.4 732.8 1171.9 744.7 1172.5 736.8 1173 746.5 1173.6 733.9 1174.1 757.5 1174.7 733.5 1175.2 742.9 1175.8 737 1176.3 743.2 1176.9 736.5 1177.4 750.2 1178 734.1 1178.5 742.9 1179.1 734 1179.6 746.5 1180.2 735.9 1180.7 750.4 1181.3 732.8 1181.8 742.1 1182.4 737 1182.9 741.9 1183.5 736.9 1184 749.5 1184.6 736.5 1185.1 745.3 1185.7 732.5 1186.2 753.6 1186.8 733.9 1187.3 747.9 1187.9 736.3 1188.4 745.9 1189 736.6 1189.5 746.9 1190.1 736.7 1190.6 748.3 1191.2 732.2 1191.7 747.4 1192.3 732.5 1192.8 742.5 1193.4 734.8 1193.9 741.9 1194.5 731.7 1195 745.2 1195.6 732.4 1196.1 751.7 1196.7 733 1197.2 753.8 1197.8 734.5 1198.3 746.3 1198.9 736.2 1199.4 748.9 1200 736.8 1200.5 742.9 1201.1 731.8 1201.6 748.4 1202.2 733.9 1202.7 742.5 1203.3 734.7 1203.8 744.9 1204.4 732.9 1204.9 747.9 1205.5 736 1206 744.5 1206.6 735.6 1207.1 744.3 1207.7 737 1208.2 745.8 1208.8 734.7 1209.3 743.9 1209.9 734.7 1210.4 744.9 1211 736.6 1211.5 743.8 1212.1 735.2 1212.6 746.1 1213.2 737.4 1213.7 748.3 1214.3 741 1214.8 744 1215.4 733 1215.9 748 1216.5 737.7 1217 747.6 1217.6 734.9 1218.1 746.1 1218.7 732.7 1219.2 748.4 1219.8 735.3 1220.3 747.2 1220.9 737.4 1221.4 748.5 1222 734.1 1222.5 751.5 1223.1 738.1 1223.6 749.2 1224.2 733.6 1224.7 756 1225.3 732.9 1225.8 745.9 1226.4 735.5 1226.9 747.4 1227.5 737.5 1228 748.3 1228.6 736.8 1229.1 747.4 1229.7 737.3 1230.2 745.2 1230.8 738.3 1231.3 750.9 1231.9 738.5 1232.4 751.9 1233 737.8 1233.5 746.3 1234.1 738.6 1234.6 750.8 1235.2 736.1 1235.7 744.8 1236.3 739.1 1236.8 745.8 1237.4 734.6 1237.9 748.8 1238.5 738.5 1239 746.4 1239.6 734.9 1240.1 750.9 1240.7 737 1241.2 749.1 1241.8 737.2 1242.3 751.2 1242.9 738.3 1243.4 746.6 1244 736 1244.5 752.9 1245.1 738.7 1245.6 749.1 1246.2 735.9 1246.7 752.2 1247.3 735.8 1247.8 758 1248.4 737.7 1248.9 751.3 1249.5 738.4 1250 750.8 1250.6 735.7 1251.1 747.9 1251.7 738.9 1252.2 750.1 1252.8 739.9 1253.3 745.8 1253.9 740.4 1254.4 752.9 1255 736.6 1255.5 746.3 1256.1 735.5 1256.6 754 1257.2 739.7 1257.7 754.1 1258.3 740.1 1258.8 749.5 1259.4 736.5 1259.9 750.5 1260.5 736.9 1261 747.4 1261.6 738.8 1262.1 751 1262.7 741.4 1263.2 753.1 1263.8 736 1264.3 747.8 1264.9 739.2 1265.4 752.5 1266 741.7 1266.5 751.3 1267.1 738.9 1267.6 746.8 1268.2 738.8 1268.7 754.2 1269.3 736.9 1269.8 751.7 1270.4 742.4 1270.9 755.8 1271.5 737.5 1272 750.7 1272.6 738.9 1273.1 756.9 1273.7 742.8 1274.2 751.2 1274.8 740.9 1275.3 755.1 1275.9 739.2 1276.4 751.2 1277 744 1277.5 752.8 1278.1 741.3 1278.6 758.4 1279.2 744.5 1279.7 758.4 1280.3 745.3 1280.8 755.9 1281.4 742.3 1281.9 757.9 1282.5 744.8 1283 758.6 1283.6 746 1284.1 759.5 1284.7 746.1 1285.2 754.6 1285.8 748 1286.3 759.5 1286.9 748.3 1287.4 754.6 1288 746.8 1288.5 754.6 1289.1 745.2 1289.6 755.3 1290.2 745.8 1290.7 757.6 1291.3 745.5 1291.8 761.3 1292.4 748.8 1292.9 762 1293.5 751.4 1294 763.1 1294.6 747.5 1295.1 759.3 1295.7 751 1296.2 762.5 1296.8 750.9 1297.3 759.2 1297.9 747.7 1298.4 761.5 1299 752.3 1299.5 760 1300.1 751.8 1300.6 764.1 1301.2 749.8 1301.7 764.3 1302.3 753.3 1302.8 760.4 1303.4 749.8 1303.9 762.2 1304.5 749.7 1305 762.6 1305.6 753 1306.1 766.8 1306.7 752.9 1307.2 764.4 1307.8 754.7 1308.3 761.6 1308.9 760.6 1309.4 763.6 1310 755.3 1310.5 762.3 1311.1 751.7 1311.6 761.8 1312.2 753.1 1312.7 767 1313.3 752.5 1313.8 769.1 1314.4 755.7 1314.9 764 1315.5 754.8 1316 767.5 1316.6 752.3 1317.1 767.6 1317.7 755.3 1318.2 775.5 1318.8 753.6 1319.3 763.6 1319.9 755.2 1320.4 769.9 1321 752.9 1321.5 764.5 1322.1 753 1322.6 771.4 1323.2 756.9 1323.7 763.9 1324.3 757.6 1324.8 767 1325.4 753 1325.9 764 1326.5 754.5 1327 763.9 1327.6 754.2 1328.1 764.3 1328.7 754.2 1329.2 764.8 1329.8 756 1330.3 771.2 1330.9 758.2 1331.4 768.8 1332 754.2 1332.5 772.5 1333.1 754.4 1333.6 764.7 1334.2 758.5 1334.7 770.1 1335.3 758.7 1335.8 767.3 1336.4 759.6 1336.9 772.5 1337.5 755 1338 773.4 1338.6 759.3 1339.1 772.7 1339.7 757.7 1340.2 772.2 1340.8 760.2 1341.3 773.1 1341.9 756.6 1342.4 767 1343 758.8 1343.5 769.4 1344.1 760.1 1344.6 769.5 1345.2 756.1 1345.7 768.9 1346.3 760.7 1346.8 771.7 1347.4 756.3 1347.9 767.4 1348.5 757.6 1349 773.9 1349.6 758.4 1350.1 768.2 1350.7 756.7 1351.2 768.1 1351.8 758.6 1352.3 771.3 1352.9 762.4 1353.4 773.1 1354 759.4 1354.5 771.2 1355.1 757.1 1355.6 769.7 1356.2 760.7 1356.7 768.4 1357.3 758.2 1357.8 767.1 1358.4 758.1 1358.9 767 1359.5 760.3 1360 774.9 1360.6 756.4 1361.1 769.5 1361.7 761.4 1362.2 767.5 1362.8 760.7 1363.3 767.5 1363.9 758.7 1364.4 773.3 1365 760.6 1365.5 773.5 1366.1 758.1 1366.6 771.3 1367.2 765.1 1367.7 775.2 1368.3 760.5 1368.8 770.2 1369.4 759.2 1369.9 771.8 1370.5 758.5 1371 769.7 1371.6 765.9 1372.1 768.3 1372.7 762 1373.2 771.7 1373.8 759.2 1374.3 771.1 1374.9 756.7 1375.4 769.9 1376 759.3 1376.5 767.6 1377.1 756.8 1377.6 767.3 1378.2 760.3 1378.7 767.3 1379.3 762.3 1379.8 772.7 1380.4 761 1380.9 767.8 1381.5 759.9 1382 769.2 1382.6 762.3 1383.1 770.5 1383.7 758.2 1384.2 771.2 1384.8 759 1385.3 768.8 1385.9 761.6 1386.4 769.5L1406.5 769.5L1406.5 814.6L715.4 814.6Z" fill="#a99cc9" stroke="#4f3a96"/>
<path d="M715.4 618.1L736.9 618.1 737.4 626.5 738 607.9 738.5 614.9 739.1 600.2 739.6 605.4 740.2 596.6 740.7 605.6 741.3 595.5 741.8 606.7 742.4 596.4 742.9 605.5 743.5 596.5 744 605.4 744.6 599.7 745.1 607.3 745.7 597.5 746.2 608.8 746.8 599.4 747.3 609.5 747.9 601.1 748.4 606.5 749 599.1 749.5 607.7 750.1 597.8 750.6 607.4 751.2 599.9 751.7 609.5 752.3 601.7 752.8 610.7 753.4 602.5 753.9 610 754.5 601.2 755 611.5 755.6 601.9 756.1 612.6 756.7 604.3 757.2 615.8 757.8 607 758.3 612.1 758.9 608.2 759.4 617.4 760 609.2 760.5 614.2 761.1 607.2 761.6 617.6 762.2 613.4 762.7 617.1 763.3 609.2 763.8 617.7 764.4 610 764.9 620.7 765.5 614.1 766 627.2 766.6 617.9 767.1 631.9 767.7 622.3 768.2 636.9 768.8 629.2 769.3 638.9 769.9 633.2 770.4 642.9 771 638.1 771.5 661.3 772.1 642 772.6 648.7 773.2 643.3 773.7 650.7 774.3 641.7 774.8 654.8 775.4 643.4 775.9 653.6 776.5 643.4 777 650.9 777.6 642 778.1 651 778.7 643.2 779.2 651.2 779.8 644.1 780.3 656.9 780.9 645.6 781.4 652.8 782 644 782.5 656.3 783.1 647.3 783.6 655.5 784.2 644.4 784.7 654.7 785.3 644.2 785.8 654.9 786.4 647.9 786.9 653.6 787.5 646.1 788 656.9 788.6 649.2 789.1 657.9 789.7 648 790.2 659.2 790.8 648.4 791.3 656.6 791.9 651.9 792.4 660.1 793 653.5 793.5 659.4 794.1 650.9 794.6 662.7 795.2 660.8 795.7 667 796.3 665.3 796.8 662 797.4 656.2 797.9 665.1 798.5 655.6 799 669.1 799.6 659.1 800.1 670.8 800.7 661.1 801.2 672.6 801.8 664 802.3 672.1 802.9 665.9 803.4 678.8 804 667.6 804.5 676.6 805.1 668.6 805.6 678.6 806.2 673 806.7 680.4 807.3 675 807.8 685 808.4 676 808.9 685 809.5 673.6 810 685.1 810.6 674.9 811.1 680.1 811.7 671.5 812.2 680.9 812.8 675.5 813.3 682 813.9 674.8 814.4 681.8 815 673.9 815.5 681.7 816.1 674.5 816.6 682.5 817.2 675 817.7 684.4 818.3 675 818.8 681 819.4 677.1 819.9 683 820.5 673.5 821 688.1 821.6 670.9 822.1 680 822.7 674.5 823.2 680.3 823.8 671.5 824.3 681.7 824.9 670.5 825.4 679.3 826 673.6 826.5 681.6 827.1 671 827.6 684.4 828.2 671.2 828.7 682.9 829.3 673.1 829.8 678.9 830.4 670.3 830.9 683.5 831.5 670.6 832 689.4 832.6 673.9 833.1 682 833.7 674 834.2 684.2 834.8 673.3 835.3 678.8 835.9 672.3 836.4 680 837 670.8 837.5 681.2 838.1 673.6 838.6 684.6 839.2 681.3 839.7 685.9 840.3 674 840.8 682.2 841.4 673.7 841.9 681.6 842.5 674.4 843 683 843.6 677.6 844.1 679.3 844.7 674.1 845.2 678.7 845.8 670.3 846.3 678.4 846.9 673.9 847.4 683.4 848 677.6 848.5 679.1 849.1 671.4 849.6 683.6 850.2 672.4 850.7 692.6 851.3 675.4 851.8 683.8 852.4 673.4 852.9 685.5 853.5 672.7 854 684.7 854.6 671.9 855.1 681.8 855.7 674.8 856.2 685.3 856.8 674.1 857.3 688.8 857.9 675.7 858.4 685.7 859 675.9 859.5 687 860.1 673.1 860.6 683.1 861.2 676.3 861.7 687.4 862.3 677 862.8 684.6 863.4 677 863.9 685.7 864.5 674.1 865 687.7 865.6 675.7 866.1 682.3 866.7 675 867.2 683.9 867.8 674.5 868.3 689.1 868.9 676.4 869.4 686.7 870 677.6 870.5 689.7 871.1 677.7 871.6 686.1 872.2 677.7 872.7 686.2 873.3 689.6 873.8 690.4 874.4 677.3 874.9 685.2 875.5 680.8 876 689.8 876.6 681.6 877.1 688.1 877.7 678.7 878.2 692.3 878.8 678.5 879.3 691.9 879.9 682.2 880.4 692.7 881 681.1 881.5 689.3 882.1 680.3 882.6 692.1 883.2 685.8 883.7 692.4 884.3 684.9 884.8 692.3 885.4 686.7 885.9 698.1 886.5 686.1 887 697.2 887.6 687.1 888.1 696.7 888.7 687.3 889.2 698.6 889.8 692 890.3 702.9 890.9 694.5 891.4 704 892 697.3 892.5 709.1 893.1 699 893.6 714.1 894.2 703.3 894.7 714.6 895.3 705 895.8 716 896.4 708.1 896.9 715.7 897.5 707.1 898 717.1 898.6 708.9 899.1 718.7 899.7 706.9 900.2 715.2 900.8 708.4 901.3 716.5 901.9 708.4 902.4 714 903 705.9 903.5 717.5 904.1 707.4 904.6 715.2 905.2 706.4 905.7 715.3 906.3 708.2 906.8 713.4 907.4 705.6 907.9 717.4 908.5 705.5 909 717 909.6 706.6 910.1 718.4 910.7 708.2 911.2 714.9 911.8 710.4 912.3 713 912.9 706.2 913.4 715.3 914 707.3 914.5 717.1 915.1 707.1 915.6 716.5 916.2 706.2 916.7 714.4 917.3 704.1 917.8 716.3 918.4 706.4 918.9 712.1 919.5 703.8 920 714.4 920.6 703.4 921.1 713.2 921.7 705.2 922.2 711 922.8 702.8 923.3 711.6 923.9 700.5 924.4 714.9 925 699.7 925.5 705.5 926.1 697.2 926.6 709.7 927.2 696.3 927.7 705.6 928.3 697.5 928.8 709.1 929.4 698.7 929.9 706.8 930.5 698.7 931 705.5 931.6 699 932.1 704.1 932.7 696.6 933.2 705.4 933.8 697.2 934.3 704.5 934.9 699.4 935.4 705.9 936 698 936.5 704.2 937.1 697.6 937.6 706.5 938.2 695.6 938.7 707.1 939.3 698.5 939.8 709.3 940.4 698.8 940.9 709 941.5 698.4 942 708.7 942.6 697.6 943.1 707.2 943.7 697.5 944.2 708.5 944.8 697.8 945.3 708 945.9 700 946.4 708.7 947 698.5 947.5 707.6 948.1 699.5 948.6 709.6 949.2 700.5 949.7 706.9 950.3 698.6 950.8 708.8 951.4 700.2 951.9 708.4 952.5 697.6 953 710 953.6 697.5 954.1 708.5 954.7 701.4 955.2 711.3 955.8 701.1 956.3 706.9 956.9 697.3 957.4 706.1 958 700.7 958.5 712 959.1 701.8 959.6 708.7 960.2 700.9 960.7 711.3 961.3 697.9 961.8 709.6 962.4 701.2 962.9 708.7 963.5 700.1 964 706.4 964.6 698.9 965.1 707.4 965.7 700.4 966.2 712.8 966.8 701.1 967.3 710.4 967.9 699.9 968.4 707.5 969 700.8 969.5 710.2 970.1 700.3 970.6 707.6 971.2 703.2 971.7 711.6 972.3 701.7 972.8 711.4 973.4 702 973.9 711.6 974.5 702.4 975 709.6 975.6 700.3 976.1 711.9 976.7 703.4 977.2 711 977.8 706.4 978.3 708.6 978.9 702.4 979.4 710.5 980 703.9 980.5 709.1 981.1 701.3 981.6 713.9 982.2 700.8 982.7 711 983.3 703.1 983.8 712.5 984.4 703.3 984.9 715.7 985.5 701.1 986 714 986.6 702.5 987.1 711.3 987.7 701.4 988.2 711.1 988.8 705.3 989.3 715.6 989.9 705.6 990.4 713 991 702 991.5 710 992.1 702.7 992.6 712.9 993.2 703.7 993.7 715.6 994.3 703.7 994.8 715.1 995.4 702.8 995.9 716.5 996.5 705.9 997 712.2 997.6 705.8 998.1 714.1 998.7 703.5 999.2 712.4 999.8 704 1000.3 710.5 1000.9 705.4 1001.4 712.1 1002 705.5 1002.5 711.1 1003.1 704.2 1003.6 711.3 1004.2 704.3 1004.7 715.1 1005.3 704.6 1005.8 711.5 1006.4 706.5 1006.9 716.6 1007.5 706.6 1008 724.3 1008.6 704.8 1009.1 712 1009.7 703.6 1010.2 715.5 1010.8 706.4 1011.3 714.5 1011.9 706.5 1012.4 716.5 1013 706 1013.5 715 1014.1 708.4 1014.6 713.8 1015.2 706 1015.7 719 1016.3 707.7 1016.8 717.2 1017.4 707.5 1017.9 715.7 1018.5 708.7 1019 717.8 1019.6 707.6 1020.1 718 1020.7 708.8 1021.2 719.1 1021.8 707.4 1022.3 715.4 1022.9 707.5 1023.4 718.7 1024 710.5 1024.5 722.1 1025.1 710.9 1025.6 723.2 1026.2 711.7 1026.7 719 1027.3 710.7 1027.8 722.6 1028.4 712.9 1028.9 720.6 1029.5 713.6 1030 726.1 1030.6 717.4 1031.1 722 1031.7 714 1032.2 723.5 1032.8 718.2 1033.3 729.2 1033.9 721.5 1034.4 735.6 1035 728.8 1035.5 736.2 1036.1 738.7 1036.6 743.6 1037.2 748.6 1037.7 753.5 1038.3 753.1 1038.8 749.3 1039.4 743.2 1039.9 750.8 1040.5 742.9 1041 741.2 1041.6 740.9 1042.1 741.3 1042.7 740.9 1043.2 741.3 1043.8 741 1044.3 741.4 1044.9 741 1045.4 741.3 1046 741.1 1046.5 741.5 1047.1 741.2 1047.6 741.6 1048.2 741.3 1048.7 741.7 1049.3 741.3 1049.8 741.7 1050.4 741.5 1050.9 741.7 1051.5 741.4 1052 741.8 1052.6 741.6 1053.1 741.9 1053.7 741.6 1054.2 742 1054.8 741.6 1055.3 742 1055.9 741.7 1056.4 742 1057 741.7 1057.5 742.1 1058.1 741.9 1058.6 742.2 1059.2 741.9 1059.7 742.3 1060.3 742 1060.8 742.4 1061.4 742.3 1061.9 742.6 1062.5 742.5 1063 742.9 1063.6 742.7 1064.1 743.2 1064.7 743 1065.2 743.3 1065.8 743.3 1066.3 743.7 1066.9 743.5 1067.4 743.9 1068 743.7 1068.5 744.1 1069.1 743.9 1069.6 744.3 1070.2 744.2 1070.7 744.5 1071.3 744.3 1071.8 744.7 1072.4 744.6 1072.9 745 1073.5 744.9 1074 745.3 1074.6 745.1 1075.1 755.2 1075.7 747.4 1076.2 756.4 1076.8 745.7 1077.3 756 1077.9 746.6 1078.4 756.7 1079 745 1079.5 753.8 1080.1 745.2 1080.6 756.6 1081.2 743.2 1081.7 755.4 1082.3 745.1 1082.8 750.2 1083.4 742.6 1083.9 749.5 1084.5 742.4 1085 753.9 1085.6 743.7 1086.1 748.1 1086.7 739.1 1087.2 752.3 1087.8 738.4 1088.3 751.8 1088.9 739.4 1089.4 750 1090 741.1 1090.5 746.3 1091.1 739.4 1091.6 747.9 1092.2 739.2 1092.7 747.4 1093.3 737.8 1093.8 748.7 1094.4 735.5 1094.9 744.3 1095.5 733.2 1096 746.2 1096.6 734.3 1097.1 746.5 1097.7 732.7 1098.2 745 1098.8 732.2 1099.3 743.8 1099.9 730.3 1100.4 737.8 1101 729.8 1101.5 742.1 1102.1 731.8 1102.6 737.1 1103.2 728.9 1103.7 740 1104.3 736.7 1104.8 741.6 1105.4 746.6 1105.9 751.5 1106.5 747.5 1107 742.6 1107.6 737.6 1108.1 736.7 1108.7 728.3 1109.2 740.4 1109.8 726.3 1110.3 739.7 1110.9 728.3 1111.4 736.4 1112 725.8 1112.5 733.6 1113.1 724.7 1113.6 732.4 1114.2 725.6 1114.7 734.8 1115.3 724.9 1115.8 737.3 1116.4 727.1 1116.9 732.3 1117.5 726.2 1118 733.1 1118.6 723.8 1119.1 738.7 1119.7 725.5 1120.2 734.6 1120.8 725.1 1121.3 738.4 1121.9 724.7 1122.4 736.6 1123 728.3 1123.5 738.2 1124.1 726.5 1124.6 737.2 1125.2 724.9 1125.7 739.1 1126.3 725.1 1126.8 737.3 1127.4 727.6 1127.9 733.9 1128.5 725.4 1129 735.3 1129.6 727.4 1130.1 738.7 1130.7 728 1131.2 739.8 1131.8 729.1 1132.3 739.1 1132.9 727 1133.4 738.9 1134 728.9 1134.5 739.4 1135.1 729.3 1135.6 738.1 1136.2 727.4 1136.7 736.1 1137.3 728.4 1137.8 735.5 1138.4 728.8 1138.9 735.3 1139.5 727.3 1140 741.6 1140.6 728.3 1141.1 741.1 1141.7 730.6 1142.2 739 1142.8 731.2 1143.3 740.2 1143.9 727.4 1144.4 737.7 1145 730.1 1145.5 738.1 1146.1 728.7 1146.6 738.4 1147.2 729.2 1147.7 740.8 1148.3 731.2 1148.8 740.8 1149.4 730.6 1149.9 741.1 1150.5 740.6 1151 741.7 1151.6 729.5 1152.1 741.9 1152.7 731.2 1153.2 739.9 1153.8 728.7 1154.3 740.9 1154.9 728.9 1155.4 738.3 1156 731.7 1156.5 740.2 1157.1 729.5 1157.6 743 1158.2 728.8 1158.7 742 1159.3 732.6 1159.8 738.2 1160.4 732.9 1160.9 738 1161.5 729.8 1162 740.6 1162.6 733.3 1163.1 739.5 1163.7 729 1164.2 741.3 1164.8 730.4 1165.3 743.6 1165.9 730.1 1166.4 742 1167 729.3 1167.5 741.9 1168.1 730.3 1168.6 743.6 1169.2 730.5 1169.7 741.1 1170.3 733.1 1170.8 738.5 1171.4 731 1171.9 743.7 1172.5 733.2 1173 743.5 1173.6 733.3 1174.1 742.6 1174.7 731.7 1175.2 744.8 1175.8 731.6 1176.3 743.9 1176.9 732.9 1177.4 741.2 1178 730.6 1178.5 738.8 1179.1 731.5 1179.6 743.8 1180.2 733.5 1180.7 739.7 1181.3 732.8 1181.8 740.5 1182.4 731.5 1182.9 743.7 1183.5 732.9 1184 743.6 1184.6 733 1185.1 745.3 1185.7 731.1 1186.2 742.8 1186.8 731.6 1187.3 739.8 1187.9 734.4 1188.4 740 1189 735.3 1189.5 740.8 1190.1 732.3 1190.6 743.9 1191.2 743.8 1191.7 744.7 1192.3 733.9 1192.8 746.2 1193.4 735.1 1193.9 743.9 1194.5 734.7 1195 746.4 1195.6 734.2 1196.1 745 1196.7 735.7 1197.2 744.8 1197.8 735.1 1198.3 745.1 1198.9 733.8 1199.4 741.9 1200 734.6 1200.5 744.5 1201.1 734.3 1201.6 745.2 1202.2 736 1202.7 746.7 1203.3 736.2 1203.8 747.6 1204.4 736.4 1204.9 743.8 1205.5 736 1206 742.4 1206.6 736.4 1207.1 748.6 1207.7 745.3 1208.2 742.1 1208.8 736.3 1209.3 743 1209.9 737.2 1210.4 743 1211 737.3 1211.5 742.6 1212.1 737.5 1212.6 746.8 1213.2 737.7 1213.7 748 1214.3 736.9 1214.8 748.9 1215.4 737.8 1215.9 745.8 1216.5 736.7 1217 745.7 1217.6 736.7 1218.1 748.7 1218.7 736.4 1219.2 747.2 1219.8 741.9 1220.3 755.2 1220.9 743.1 1221.4 750.3 1222 745.4 1222.5 751.3 1223.1 746.2 1223.6 753.3 1224.2 747.9 1224.7 758.4 1225.3 747.7 1225.8 758.1 1226.4 749.2 1226.9 760.4 1227.5 751.4 1228 760.9 1228.6 753.8 1229.1 763 1229.7 758.6 1230.2 768.8 1230.8 756.5 1231.3 766.6 1231.9 762.2 1232.4 770.1 1233 760 1233.5 766.6 1234.1 758.3 1234.6 769.1 1235.2 759.8 1235.7 768.7 1236.3 758.2 1236.8 768.1 1237.4 761.2 1237.9 769.6 1238.5 759.6 1239 771.7 1239.6 758.5 1240.1 770.8 1240.7 759.1 1241.2 771.3 1241.8 764.2 1242.3 766.8 1242.9 760.2 1243.4 767 1244 761.4 1244.5 772.4 1245.1 760.3 1245.6 771.5 1246.2 760.3 1246.7 772.2 1247.3 759 1247.8 767.4 1248.4 758.3 1248.9 768.3 1249.5 760.1 1250 768.8 1250.6 758.4 1251.1 769.7 1251.7 758.2 1252.2 769 1252.8 761.6 1253.3 770 1253.9 760.7 1254.4 769.3 1255 760 1255.5 766.8 1256.1 758.3 1256.6 768.8 1257.2 761.7 1257.7 770 1258.3 760.9 1258.8 772.1 1259.4 761.8 1259.9 771.2 1260.5 760.2 1261 766.5 1261.6 759.7 1262.1 768.5 1262.7 760.5 1263.2 771.4 1263.8 761.9 1264.3 771.6 1264.9 760.9 1265.4 770.1 1266 760 1266.5 766.4 1267.1 759.5 1267.6 769.3 1268.2 759.7 1268.7 772.7 1269.3 760.9 1269.8 772.2 1270.4 761.2 1270.9 769.7 1271.5 760.6 1272 770 1272.6 759.9 1273.1 767.4 1273.7 758.1 1274.2 767.3 1274.8 759 1275.3 772.7 1275.9 759.7 1276.4 768.4 1277 759 1277.5 771.6 1278.1 760.3 1278.6 768.6 1279.2 760.5 1279.7 768.3 1280.3 760.5 1280.8 772 1281.4 759.2 1281.9 772.1 1282.5 760 1283 766.8 1283.6 758 1284.1 767.7 1284.7 759.6 1285.2 771.9 1285.8 759.8 1286.3 771 1286.9 760.1 1287.4 769.5 1288 758.1 1288.5 769.8 1289.1 761.4 1289.6 771.1 1290.2 761.3 1290.7 770.8 1291.3 758.4 1291.8 769.5 1292.4 760 1292.9 769.8 1293.5 758.7 1294 768.6 1294.6 760.5 1295.1 769.5 1295.7 759.5 1296.2 768.2 1296.8 758.2 1297.3 766.6 1297.9 762.1 1298.4 770.4 1299 772 1299.5 776.9 1300.1 781.9 1300.6 786.8 1301.2 788.2 1301.7 783.3 1302.3 778.3 1302.8 773.4 1303.4 768.4 1303.9 767 1304.5 758.9 1305 767.1 1305.6 759.5 1306.1 770.6 1306.7 757.8 1307.2 766.9 1307.8 760.7 1308.3 771.9 1308.9 760.9 1309.4 769.3 1310 761.2 1310.5 768.5 1311.1 761.3 1311.6 769.2 1312.2 761.2 1312.7 771.3 1313.3 758.6 1313.8 765.9 1314.4 760.2 1314.9 774.6 1315.5 760.6 1316 767.7 1316.6 757.6 1317.1 769.9 1317.7 760.6 1318.2 766.1 1318.8 758.3 1319.3 767.8 1319.9 758 1320.4 769.9 1321 761.3 1321.5 771.7 1322.1 761.1 1322.6 769.2 1323.2 759.1 1323.7 770.6 1324.3 758.7 1324.8 768 1325.4 759.1 1325.9 768.5 1326.5 761.4 1327 768.9 1327.6 759.2 1328.1 767.3 1328.7 759.5 1329.2 769.3 1329.8 759.6 1330.3 770 1330.9 759.4 1331.4 767.4 1332 760.1 1332.5 768.9 1333.1 760.5 1333.6 772.6 1334.2 758.5 1334.7 768.6 1335.3 759.5 1335.8 768.5 1336.4 768.5 1336.9 767.5 1337.5 757.2 1338 765.4 1338.6 758.2 1339.1 765.7 1339.7 757.9 1340.2 767.2 1340.8 759.8 1341.3 772 1341.9 760.1 1342.4 767.7 1343 760.5 1343.5 767.1 1344.1 760.7 1344.6 768.3 1345.2 758.7 1345.7 765.4 1346.3 758 1346.8 781.4 1347.4 761.3 1347.9 769.1 1348.5 760.2 1349 768.2 1349.6 759.5 1350.1 770.5 1350.7 757.1 1351.2 767.9 1351.8 759.8 1352.3 767.8 1352.9 758.8 1353.4 765.4 1354 759.1 1354.5 766.9 1355.1 757.9 1355.6 771.8 1356.2 757.2 1356.7 767.5 1357.3 759.3 1357.8 765.8 1358.4 759 1358.9 770.4 1359.5 758.1 1360 767.8 1360.6 760.1 1361.1 769.5 1361.7 757.5 1362.2 767.5 1362.8 759.8 1363.3 770.5 1363.9 757.8 1364.4 767.7 1365 760.2 1365.5 765.8 1366.1 758 1366.6 765.5 1367.2 761.1 1367.7 766.5 1368.3 759.7 1368.8 766.4 1369.4 758.6 1369.9 770.8 1370.5 758.5 1371 770.9 1371.6 759.1 1372.1 772 1372.7 757.8 1373.2 770.5 1373.8 759.4 1374.3 766.7 1374.9 759.2 1375.4 769.5 1376 759.7 1376.5 768.1 1377.1 759 1377.6 765.4 1378.2 759.4 1378.7 770.2 1379.3 758.4 1379.8 765.7 1380.4 759 1380.9 770.7 1381.5 760.6 1382 766.5 1382.6 758.4 1383.1 768 1383.7 757.9 1384.2 766.8 1384.8 760.4 1385.3 768.7 1385.9 757.7 1386.4 766.1L1406.5 766.1L1406.5 814.6L715.4 814.6Z" fill="#b7d7b6" stroke="#4a8548"/>
<path d="M771.8 622.9V637.4M777.6 623.8V638.3M783 627V641.5M788 629.9V644.4M819.4 654.2V668.7M830.3 657.7V672.2M840.8 658.8V673.3M851.2 660V674.5M861.7 661.1V675.6M872 662.2V676.7M883.3 663.1V677.6M894.2 664.4V678.9M909.3 670.5V685M925 679.1V693.6M941.3 683.2V697.7M957 686.3V700.8M973 688.4V702.9M989 689.9V704.4M1004.7 691.5V706M1020.3 693.6V708.1M1036 696V710.5M1052.3 698.5V713M1073.5 703.6V718.1M1094.4 709.2V723.7M1115.7 713.5V728M1136.6 717.4V731.9M1157.5 720.3V734.8M1179 721.9V736.4M1200 722V736.5M1221 723.2V737.7M1242.3 724.3V738.8M1263.7 726.4V740.9M1290 735.1V749.6M1316 742V756.5M1342.9 745.6V760.1M1368.9 746.8V761.3" fill="none" stroke="#4f3a96" stroke-width="3"/>
<path d="M788 634.8V649.3M830.3 660.5V675M840.8 660.5V675M851.2 661.5V676M861.7 663.6V678.1M872 666.1V680.6M941.3 686.1V700.6M957 687.7V702.2M973 689.7V704.2M989 691.7V706.2M1004.7 692.7V707.2M1020.3 696.7V711.2M1115.7 713.9V728.4M1136.6 716.8V731.3M1157.5 718.9V733.4M1179 720.8V735.3M1200 723.2V737.7M1342.9 747.5V762M1368.9 747.5V762" fill="none" stroke="#4a8548" stroke-width="3"/>
</g>
<g stroke="#4d4d4f" stroke-width="4.6" fill="none">
<rect x="735.4" y="580.0" width="651.1" height="214.60000000000002"/>
<path d="M1061 580v8M1061 794.6v-8M735.4 687.3h8M1386.5 687.3h-8"/>
</g>
<g font-size="32" text-anchor="end">
<text x="727" y="591.2">0</text>
<text x="724" y="698.5">-20</text>
<text x="724" y="806">-40</text>
</g>
<g font-size="32" text-anchor="middle">
<text x="735.4" y="833.6">0</text>
<text x="1061" y="833.6">1000</text>
<text x="1384.9" y="833.6">2000</text>
</g>
<text x="1073" y="864" font-size="31" text-anchor="middle">Harmonic Order</text>
<text class="b" transform="translate(753.1 70.6) rotate(-90)" font-size="22.5" style="fill:#2b5a86;stroke:#2b5a86;stroke-width:0.5">(-1,0.2)</text>
<text class="b" transform="translate(779 70.6) rotate(-90)" font-size="22.5" style="fill:#2b5a86;stroke:#2b5a86;stroke-width:0.5">(1,0.2)</text>
<text class="b" transform="translate(823.2 70.6) rotate(-90)" font-size="22.5" style="fill:#2b5a86;stroke:#2b5a86;stroke-width:0.5">(-2,0.2)</text>
<text class="b" transform="translate(865.4 70.6) rotate(-90)" font-size="22.5" style="fill:#2b5a86;stroke:#2b5a86;stroke-width:0.5">(2,0.2)</text>
<text class="b" transform="translate(945.1 70.6) rotate(-90)" font-size="22.5" style="fill:#2b5a86;stroke:#2b5a86;stroke-width:0.5">(-3,0.2)</text>
<text class="b" transform="translate(1119.4 70.6) rotate(-90)" font-size="22.5" style="fill:#2b5a86;stroke:#2b5a86;stroke-width:0.5">(-4,0.2)</text>
<text class="b" transform="translate(1204 70.6) rotate(-90)" font-size="22.5" style="fill:#2b5a86;stroke:#2b5a86;stroke-width:0.5">(4,0.2)</text>
<text class="b" transform="translate(1346.7 70.6) rotate(-90)" font-size="22.5" style="fill:#2b5a86;stroke:#2b5a86;stroke-width:0.5">(-5,0.2)</text>
</svg></body></html>
